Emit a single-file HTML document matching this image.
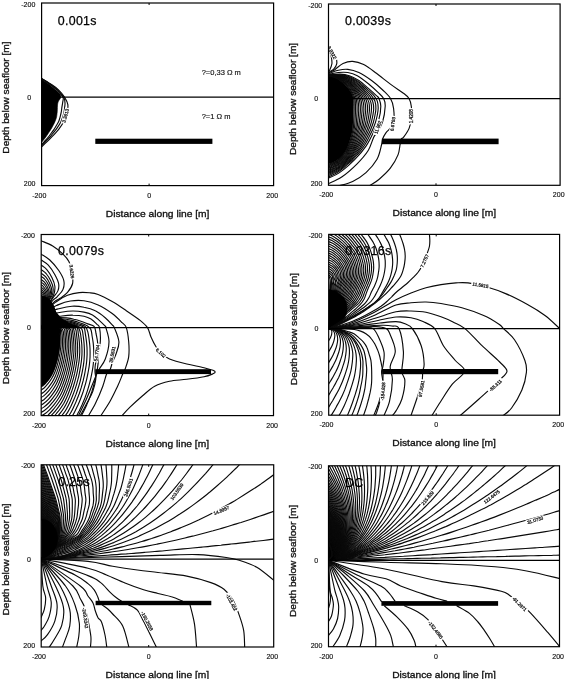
<!DOCTYPE html>
<html><head><meta charset="utf-8"><title>Figure</title>
<style>
html,body{margin:0;padding:0;background:#fff;}
body{width:567px;height:679px;overflow:hidden;}
svg{display:block;filter:blur(0.3px);}
text{font-family:"Liberation Sans",sans-serif;fill:#111;}
.tk{font-size:7px;stroke:#111;stroke-width:0.15px;}
.ax{font-size:9.5px;stroke:#111;stroke-width:0.32px;}
.ti{font-size:12.4px;letter-spacing:0.3px;fill:#000;stroke:#000;stroke-width:0.25px;}
.an{font-size:7.5px;stroke:#111;stroke-width:0.15px;}
.fr{fill:none;stroke:#000;stroke-width:1.2;}
.c{fill:none;stroke:#0a0a0a;stroke-width:1.15;stroke-linejoin:round;stroke-linecap:round;}
.cl{font-size:4.6px;stroke:#111;stroke-width:0.25px;}
</style></head><body>
<svg width="567" height="679" viewBox="0 0 567 679">
<rect width="567" height="679" fill="#fff"/>

<g>
<clipPath id="cp0"><rect x="41.6" y="3" width="232" height="182.6"/></clipPath>
<g clip-path="url(#cp0)">
<path fill="#000" stroke="#000" stroke-width="0.6" d="M41.6 79.2C42.9 80.1 46.7 82.5 49.3 84.5C51.9 86.5 55.3 89.5 57.2 91.2C59.1 93 60 93.9 60.5 95C61 96.1 61 96.7 60.5 98C60 99.3 58.3 100.7 57.8 103C57.2 105.3 57.5 109.3 57.2 112C56.9 114.7 56.9 116.4 56 119C55.1 121.6 53.6 124.7 52 127.5C50.4 130.3 48.2 133.5 46.5 136C44.8 138.5 42.4 141.4 41.6 142.5Z"/>
<path class="c" d="M41.6 78.4C43.1 79.3 47.8 82 50.6 83.9C53.4 85.8 56.2 87.6 58.5 89.8C60.8 92 63 94.7 64.5 97.1C66 99.5 67.4 101.9 67.8 104.4C68.2 107 67.8 109.5 67.1 112.4C66.4 115.3 65.2 118.7 63.8 121.6C62.4 124.5 60.7 126.8 58.5 129.6C56.3 132.4 53.4 135.3 50.6 138.2C47.8 141.1 43.1 145.4 41.6 146.8"/>
<path class="c" d="M41.6 78.8C42.3 79.2 44.3 80.6 45.7 81.5C47 82.4 48.4 83.2 49.7 84.2C51.1 85.1 52.3 86.2 53.5 87.2C54.8 88.2 56.2 89.1 57.3 90.3C58.5 91.4 59.5 92.7 60.5 94C61.5 95.2 62.8 96.5 63.2 97.9C63.5 99.3 62.9 100.8 62.7 102.3C62.5 103.9 62.2 105.5 61.9 107.1C61.7 108.6 61.6 110.3 61.3 111.9C61 113.5 60.6 115 60.2 116.6C59.8 118.1 59.4 119.7 58.8 121.2C58.2 122.7 57.2 124.1 56.4 125.5C55.6 126.9 54.8 128.3 53.9 129.6C53 130.9 52 132.2 51 133.5C50.1 134.8 49.2 136.1 48.1 137.4C47.1 138.6 46 139.8 44.9 141C43.8 142.2 42.2 144 41.6 144.6"/>
<path class="c" d="M41.6 78.6C42.3 79.1 44.5 80.4 45.9 81.3C47.3 82.2 48.8 83.1 50.2 84C51.5 85 52.8 86.1 54.2 87.1C55.5 88.2 56.9 89.1 58.1 90.3C59.3 91.5 60.3 92.8 61.3 94.1C62.4 95.5 63.6 96.8 64.2 98.2C64.8 99.7 64.9 101.3 65 102.9C65.1 104.5 64.8 106.2 64.6 107.8C64.5 109.5 64.3 111.2 63.9 112.8C63.5 114.4 63 116 62.5 117.6C61.9 119.2 61.4 120.8 60.7 122.3C59.9 123.8 59 125.2 58 126.6C57.1 128 56.2 129.4 55.1 130.7C54.1 132.1 53 133.3 51.9 134.6C50.9 135.9 49.8 137.2 48.7 138.4C47.5 139.7 46.3 140.9 45.1 142.1C44 143.3 42.2 145.1 41.6 145.7"/>
<g transform="translate(65.6,115.7) rotate(-75)"><rect x="-8.2" y="-2.6" width="16.3" height="5.2" fill="#fff"/><text class="cl" text-anchor="middle" y="1.6">3.3613</text></g>
</g>
<rect class="fr" x="41.6" y="3" width="232" height="182.6"/>
<line class="fr" x1="41.6" y1="97.1" x2="273.6" y2="97.1" style="stroke-width:1.25"/>
<rect x="95.3" y="138.7" width="117.1" height="5.2" fill="#000"/>
<text class="tk" text-anchor="middle" x="28.3" y="6.6">-200</text>
<text class="tk" text-anchor="middle" x="29.3" y="99.9">0</text>
<text class="tk" text-anchor="middle" x="29.6" y="186.4">200</text>
<text class="tk" text-anchor="middle" x="39.3" y="197.6">-200</text>
<text class="tk" text-anchor="middle" x="149.1" y="197.6">0</text>
<line class="fr" x1="149.1" y1="185.6" x2="149.1" y2="183.6" style="stroke-width:1"/>
<line class="fr" x1="149.1" y1="3" x2="149.1" y2="5" style="stroke-width:1"/>
<text class="tk" text-anchor="middle" x="272.2" y="197.6">200</text>
<text class="ax" x="105.8" y="216.6" textLength="103.6" lengthAdjust="spacingAndGlyphs">Distance along line [m]</text>
<text class="ax" transform="translate(9.4,153.7) rotate(-90)" textLength="112.3" lengthAdjust="spacingAndGlyphs">Depth below seafloor [m]</text>
<text class="ti" x="57.8" y="25">0.001s</text>
<text class="an" x="201.7" y="75.2">?=0,33 Ω m</text>
<text class="an" x="201.7" y="119.0">?=1 Ω m</text>
</g>
<g>
<clipPath id="cp1"><rect x="328.5" y="4" width="231.6" height="181.3"/></clipPath>
<g clip-path="url(#cp1)">
<path fill="#000" stroke="#000" stroke-width="0.6" d="M328.4 75.8C328.7 75.8 328.6 75.6 330 76C331.4 76.4 334 76.4 336.7 78.1C339.4 79.8 343.7 83.5 346.2 86C348.7 88.5 350.3 90.9 351.5 93C352.7 95.1 352.9 95.7 353.2 98.5C353.5 101.3 353.3 105.1 353.2 110C353.1 114.9 353.2 123 352.7 128C352.2 133 351.1 136.2 350 140C348.9 143.8 347.7 147.5 346 150.5C344.3 153.5 342 156.1 340 158C338 159.9 335.9 161 334 162C332.1 163 329.3 163.5 328.4 163.8Z"/>
<path class="c" d="M328.4 73C328.6 72.9 328.5 73.1 329.6 72.5C330.7 71.9 332.9 70.9 335.1 69.4C337.3 67.9 340.1 64.8 343 63.5C345.9 62.2 349.2 61.2 352.6 61.4C356.1 61.6 359.7 62.6 363.7 64.6C367.7 66.6 371.9 70 376.4 73.3C380.9 76.6 386.2 81.1 390.7 84.4C395.2 87.7 400.3 90.9 403.4 93.2C406.4 95.5 407.7 96.3 409 98.5C410.3 100.7 410.9 103.2 411.3 106.3C411.8 109.4 412.1 113.6 411.7 117.3C411.3 121 410.5 125.1 409.1 128.4C407.8 131.7 404.9 135.4 403.6 137.2C402.3 139 401.9 137.9 401.3 139C400.7 140.1 400.8 141.2 400.2 143.9C399.6 146.6 399.6 150.9 398 154.9C396.4 158.9 393.4 164.1 390.3 168.2C387.2 172.2 382.7 176.2 379.2 179.2C375.7 182.2 370.9 184.9 369.3 186"/>
<path class="c" d="M328.4 73.6C328.6 73.5 328 73.9 329.6 73.3C331.2 72.7 335.3 70.8 338.3 70.2C341.3 69.6 344.4 69 347.8 69.4C351.2 69.8 354.9 70.7 358.9 72.5C362.9 74.3 367.6 77.6 371.6 80.5C375.6 83.4 379.6 87 382.7 90C385.8 93 388.7 95.4 390.5 98.5C392.3 101.6 393.2 104.2 393.6 108.5C394.1 112.8 394.5 120 393.2 124C391.9 128.1 387.7 130.3 385.9 132.8C384.1 135.3 383.3 137 382.6 139C381.9 141 382.4 141.6 381.5 145C380.6 148.4 379.6 154.7 377 159.3C374.4 163.9 370.1 168.9 366 172.6C361.9 176.3 357.3 179.2 352.7 181.4C348.1 183.6 340.8 185.2 338.4 186"/>
<path class="c" d="M328.4 74.3C328.6 74.3 328 74.4 329.6 74.1C331.2 73.8 335.3 72.8 338.3 72.5C341.3 72.2 344.6 72 347.8 72.5C351 73 353.9 73.8 357.3 75.7C360.7 77.6 364.9 80.9 368.4 83.7C371.8 86.5 375.5 89.9 378 92.4C380.5 94.9 382.4 96.2 383.6 98.5C384.8 100.8 385.4 102.4 385.2 106.3C385 110.2 384 117.4 382.6 121.8C381.2 126.2 378.5 130.2 377 132.8C375.5 135.4 375.2 134.2 373.7 137.2C372.2 140.1 371 146.1 368.2 150.5C365.4 154.9 361.5 159.4 357.1 163.8C352.7 168.2 346.5 173.7 341.7 177C336.9 180.3 330.6 182.5 328.4 183.6"/>
<path class="c" d="M328.4 75C328.6 75 327.7 75.2 329.6 75C331.5 74.8 336.6 74 339.9 74.1C343.2 74.2 346.2 74.6 349.4 75.7C352.6 76.8 355.7 78.4 358.9 80.5C362.1 82.6 365.5 85.9 368.4 88.4C371.3 90.9 374.6 93.9 376.4 95.6C378.2 97.3 378.3 96.7 379 98.5C379.7 100.3 380.8 102.8 380.8 106.3C380.8 109.8 380 115.4 378.8 119.6C377.6 123.8 375.8 127.3 373.7 131.7C371.6 136.1 369.1 141.5 366 146.1C362.9 150.7 359.3 154.9 354.9 159.3C350.5 163.7 343.9 169.5 339.5 172.6C335.1 175.7 330.2 177.2 328.4 178.1"/>
<path class="c" d="M328.4 75.1C329.6 75 333.3 74.7 335.8 74.7C338.2 74.7 340.7 74.7 343.1 75.1C345.5 75.5 347.9 76.1 350.1 77C352.4 77.9 354.6 79.1 356.7 80.4C358.7 81.7 360.6 83.4 362.5 85C364.4 86.6 366.2 88.2 368 89.9C369.8 91.5 371.7 93.1 373.3 94.9C374.8 96.8 376.4 98.7 377.2 100.9C378 103.1 378.2 105.7 378.2 108.1C378.2 110.6 377.7 113.1 377.2 115.5C376.7 117.9 376.1 120.3 375.4 122.6C374.6 124.9 373.7 127.2 372.7 129.5C371.7 131.7 370.6 133.9 369.5 136.1C368.4 138.3 367.3 140.6 366.1 142.7C364.9 144.8 363.5 146.8 362 148.8C360.6 150.8 359 152.7 357.4 154.5C355.8 156.4 354.2 158.3 352.5 160C350.7 161.8 348.8 163.3 346.9 164.9C345.1 166.6 343.3 168.3 341.3 169.8C339.3 171.2 337.2 172.5 335.1 173.7C332.9 174.8 329.5 176.3 328.4 176.9"/>
<path class="c" d="M328.4 75.1C329.6 75.1 333.2 74.8 335.6 74.9C337.9 75 340.3 75.1 342.6 75.5C344.9 75.9 347.2 76.6 349.4 77.5C351.6 78.4 353.7 79.6 355.7 80.9C357.7 82.3 359.5 83.9 361.3 85.5C363.1 87 364.8 88.7 366.5 90.3C368.2 92 370 93.6 371.4 95.4C372.8 97.3 374.2 99.1 375 101.3C375.7 103.5 375.9 106 375.9 108.4C375.9 110.7 375.4 113.2 374.9 115.5C374.5 117.9 374 120.2 373.3 122.5C372.6 124.7 371.7 127 370.8 129.2C369.9 131.4 368.9 133.5 367.8 135.7C366.8 137.9 365.8 140.1 364.7 142.2C363.5 144.2 362.2 146.2 360.8 148.2C359.5 150.1 357.9 152 356.4 153.8C354.9 155.7 353.4 157.5 351.8 159.3C350.1 161 348.2 162.5 346.4 164.1C344.6 165.7 342.9 167.4 341 168.8C339.1 170.2 337 171.4 334.9 172.6C332.8 173.7 329.5 175.1 328.4 175.7"/>
<path class="c" d="M328.4 75.2C329.6 75.2 333.1 75 335.4 75.1C337.7 75.2 340 75.4 342.2 75.9C344.4 76.4 346.6 77.1 348.7 78C350.8 79 352.9 80.1 354.8 81.5C356.7 82.8 358.4 84.4 360.1 86C361.8 87.5 363.5 89.1 365.1 90.8C366.7 92.4 368.3 94.1 369.6 95.9C370.9 97.7 372.2 99.6 372.8 101.7C373.5 103.8 373.7 106.3 373.7 108.6C373.7 110.9 373.2 113.3 372.8 115.6C372.4 117.8 371.9 120.1 371.3 122.3C370.7 124.6 369.9 126.8 369 128.9C368.2 131.1 367.2 133.2 366.3 135.3C365.3 137.4 364.4 139.6 363.3 141.6C362.2 143.7 361 145.6 359.7 147.6C358.4 149.5 357 151.3 355.5 153.2C354.1 155 352.7 156.8 351.1 158.5C349.5 160.2 347.7 161.7 346 163.3C344.2 164.8 342.6 166.5 340.7 167.9C338.8 169.3 336.8 170.5 334.8 171.6C332.7 172.7 329.5 174 328.4 174.5"/>
<path class="c" d="M328.4 75.3C329.5 75.3 332.9 75.2 335.2 75.3C337.4 75.5 339.6 75.7 341.8 76.2C343.9 76.8 346 77.6 348 78.5C350.1 79.5 352.1 80.6 353.9 81.9C355.8 83.3 357.4 84.9 359 86.4C360.7 88 362.3 89.6 363.8 91.2C365.2 92.9 366.7 94.5 367.9 96.3C369.1 98.1 370.2 100 370.8 102.1C371.4 104.2 371.6 106.6 371.5 108.8C371.5 111.1 371.1 113.4 370.7 115.6C370.4 117.8 369.9 120.1 369.4 122.2C368.8 124.4 368.1 126.6 367.4 128.7C366.6 130.8 365.7 132.9 364.8 134.9C363.9 137 363 139.1 362 141.1C361 143.2 359.8 145.1 358.6 147C357.4 148.9 356.1 150.7 354.7 152.5C353.3 154.3 352 156.1 350.5 157.8C349 159.5 347.2 161 345.5 162.5C343.9 164 342.2 165.7 340.4 167C338.6 168.4 336.6 169.5 334.6 170.6C332.6 171.7 329.4 172.9 328.4 173.4"/>
<path class="c" d="M328.4 75.3C329.5 75.4 332.8 75.3 335 75.5C337.2 75.7 339.3 76 341.4 76.6C343.5 77.2 345.5 78 347.4 79C349.4 80 351.3 81.1 353.1 82.4C354.8 83.7 356.4 85.3 358 86.9C359.5 88.4 361.1 90 362.5 91.6C363.9 93.3 365.2 94.9 366.3 96.7C367.4 98.5 368.3 100.4 368.9 102.4C369.4 104.5 369.5 106.8 369.5 109C369.5 111.2 369.1 113.5 368.8 115.6C368.5 117.8 368.1 120 367.6 122.1C367.1 124.3 366.5 126.4 365.7 128.4C365 130.5 364.2 132.6 363.4 134.6C362.5 136.6 361.7 138.7 360.7 140.7C359.8 142.7 358.7 144.6 357.6 146.4C356.4 148.3 355.2 150.1 353.9 151.9C352.6 153.7 351.4 155.5 349.9 157.1C348.4 158.8 346.7 160.3 345.1 161.8C343.5 163.3 341.9 164.9 340.1 166.2C338.4 167.5 336.5 168.6 334.5 169.7C332.5 170.7 329.4 171.9 328.4 172.3"/>
<path class="c" d="M328.4 75.4C329.5 75.4 332.7 75.4 334.8 75.7C336.9 76 339 76.3 341 76.9C343 77.5 344.9 78.4 346.8 79.4C348.7 80.4 350.6 81.5 352.3 82.8C354 84.2 355.5 85.7 357 87.3C358.5 88.8 360 90.4 361.3 92C362.6 93.6 363.8 95.3 364.8 97.1C365.7 98.9 366.6 100.8 367 102.8C367.5 104.8 367.6 107.1 367.6 109.2C367.6 111.4 367.2 113.5 366.9 115.7C366.7 117.8 366.3 119.9 365.9 122C365.4 124.1 364.9 126.2 364.2 128.2C363.6 130.3 362.8 132.3 362 134.3C361.2 136.3 360.5 138.3 359.6 140.2C358.7 142.2 357.7 144.1 356.6 145.9C355.5 147.8 354.3 149.6 353.1 151.3C351.9 153.1 350.7 154.9 349.3 156.5C347.9 158.1 346.3 159.6 344.7 161.1C343.2 162.5 341.6 164.1 339.9 165.4C338.2 166.7 336.3 167.8 334.4 168.8C332.5 169.8 329.4 170.9 328.4 171.3"/>
<path class="c" d="M328.4 75.4C329.4 75.5 332.6 75.6 334.6 75.9C336.7 76.2 338.7 76.6 340.6 77.2C342.6 77.9 344.4 78.9 346.2 79.9C348 80.9 349.9 82 351.5 83.3C353.1 84.6 354.6 86.2 356 87.7C357.4 89.2 358.8 90.8 360.1 92.4C361.3 94 362.4 95.7 363.2 97.5C364.1 99.3 364.8 101.1 365.2 103.1C365.6 105.1 365.7 107.3 365.7 109.4C365.7 111.5 365.4 113.6 365.1 115.7C364.8 117.8 364.5 119.9 364.1 121.9C363.7 124 363.3 126 362.7 128C362.1 130 361.4 132 360.7 133.9C359.9 135.9 359.2 137.9 358.4 139.8C357.6 141.7 356.6 143.6 355.6 145.4C354.6 147.2 353.5 149 352.4 150.7C351.2 152.5 350.1 154.2 348.8 155.9C347.4 157.5 345.9 158.9 344.3 160.4C342.8 161.8 341.3 163.3 339.6 164.6C337.9 165.8 336.1 167 334.3 167.9C332.4 168.9 329.4 169.9 328.4 170.3"/>
<path class="c" d="M328.4 75.5C329.4 75.6 332.5 75.7 334.5 76.1C336.5 76.4 338.4 76.8 340.3 77.5C342.1 78.2 343.9 79.2 345.6 80.3C347.4 81.3 349.2 82.4 350.8 83.7C352.3 85 353.7 86.6 355.1 88.1C356.4 89.6 357.8 91.1 358.9 92.8C360 94.4 361 96.1 361.8 97.9C362.6 99.7 363.1 101.5 363.5 103.4C363.8 105.4 363.9 107.5 363.9 109.6C363.9 111.6 363.6 113.7 363.4 115.7C363.1 117.8 362.9 119.8 362.5 121.8C362.2 123.8 361.8 125.8 361.3 127.8C360.8 129.8 360.1 131.7 359.4 133.6C358.7 135.6 358.1 137.5 357.3 139.4C356.5 141.3 355.6 143.1 354.7 144.9C353.8 146.7 352.7 148.5 351.6 150.2C350.6 151.9 349.5 153.7 348.2 155.3C346.9 156.8 345.4 158.3 344 159.7C342.5 161.1 341 162.6 339.4 163.8C337.7 165.1 336 166.2 334.1 167.1C332.3 168 329.4 169 328.4 169.4"/>
<path class="c" d="M328.4 75.5C329.4 75.7 332.4 75.9 334.3 76.2C336.2 76.6 338.1 77.1 339.9 77.8C341.7 78.6 343.4 79.6 345.1 80.7C346.8 81.7 348.5 82.8 350 84.1C351.5 85.4 352.8 87 354.1 88.5C355.4 90 356.7 91.5 357.8 93.1C358.8 94.8 359.7 96.5 360.3 98.2C361 100 361.5 101.8 361.7 103.8C362 105.7 362.1 107.8 362.1 109.8C362.1 111.8 361.8 113.8 361.6 115.8C361.4 117.8 361.2 119.8 360.9 121.7C360.6 123.7 360.3 125.7 359.8 127.6C359.4 129.5 358.7 131.4 358.1 133.3C357.5 135.2 356.9 137.1 356.2 139C355.5 140.8 354.7 142.6 353.8 144.4C352.9 146.2 351.9 147.9 350.9 149.7C349.9 151.4 348.9 153.1 347.7 154.6C346.5 156.2 345 157.7 343.6 159.1C342.2 160.5 340.7 161.9 339.1 163.1C337.5 164.3 335.8 165.4 334 166.3C332.2 167.2 329.3 168.1 328.4 168.5"/>
<path class="c" d="M328.4 75.6C329.4 75.7 332.3 76 334.2 76.4C336 76.8 337.9 77.4 339.6 78.1C341.3 78.9 342.9 80 344.5 81.1C346.2 82.1 347.9 83.2 349.3 84.5C350.8 85.8 352 87.3 353.3 88.8C354.5 90.3 355.7 91.8 356.7 93.5C357.6 95.1 358.4 96.8 359 98.6C359.6 100.4 359.9 102.2 360.1 104.1C360.4 106 360.4 108 360.4 109.9C360.4 111.9 360.2 113.9 360 115.8C359.8 117.8 359.6 119.7 359.4 121.6C359.1 123.6 358.9 125.5 358.5 127.4C358.1 129.3 357.5 131.1 356.9 133C356.4 134.9 355.8 136.8 355.1 138.6C354.5 140.4 353.7 142.2 352.9 144C352.1 145.7 351.2 147.5 350.2 149.1C349.3 150.8 348.4 152.5 347.2 154.1C346 155.6 344.6 157.1 343.2 158.4C341.9 159.8 340.5 161.2 338.9 162.4C337.3 163.6 335.7 164.6 333.9 165.5C332.2 166.3 329.3 167.2 328.4 167.6"/>
<path class="c" d="M328.4 75.6C329.3 75.8 332.2 76.1 334 76.6C335.8 77 337.6 77.6 339.3 78.4C340.9 79.2 342.5 80.4 344 81.5C345.6 82.6 347.2 83.6 348.6 84.9C350 86.2 351.2 87.7 352.4 89.2C353.5 90.7 354.7 92.2 355.6 93.8C356.5 95.4 357.1 97.2 357.6 98.9C358.1 100.7 358.3 102.5 358.5 104.4C358.7 106.2 358.7 108.2 358.7 110.1C358.7 112 358.5 113.9 358.4 115.8C358.2 117.8 358 119.7 357.8 121.5C357.6 123.4 357.5 125.3 357.1 127.2C356.8 129 356.2 130.9 355.7 132.7C355.2 134.5 354.7 136.4 354.1 138.2C353.5 140 352.8 141.8 352.1 143.5C351.3 145.2 350.5 147 349.6 148.6C348.7 150.3 347.8 152 346.7 153.5C345.6 155 344.2 156.5 342.9 157.8C341.6 159.2 340.2 160.5 338.7 161.7C337.2 162.8 335.5 163.9 333.8 164.7C332.1 165.5 329.3 166.4 328.4 166.7"/>
<path class="c" d="M328.4 75.7C329.3 75.9 332.1 76.2 333.9 76.7C335.6 77.2 337.4 77.8 339 78.7C340.6 79.5 342 80.7 343.5 81.8C345 82.9 346.6 84 347.9 85.3C349.3 86.5 350.4 88.1 351.6 89.5C352.7 91 353.8 92.5 354.6 94.1C355.4 95.8 356 97.5 356.3 99.3C356.7 101 356.8 102.8 357 104.7C357.1 106.5 357.1 108.4 357.1 110.3C357.1 112.1 356.9 114 356.8 115.9C356.7 117.7 356.6 119.6 356.4 121.5C356.3 123.3 356.2 125.2 355.9 127C355.6 128.8 355.1 130.6 354.6 132.4C354.2 134.2 353.7 136.1 353.1 137.8C352.5 139.6 351.9 141.3 351.2 143.1C350.5 144.8 349.8 146.5 348.9 148.1C348.1 149.8 347.3 151.5 346.2 153C345.2 154.5 343.9 155.9 342.6 157.2C341.3 158.6 339.9 159.9 338.5 161C337 162.1 335.4 163.2 333.7 164C332 164.8 329.3 165.5 328.4 165.9"/>
<path class="c" d="M328.4 75.7C329.3 75.9 332 76.3 333.7 76.9C335.4 77.4 337.1 78.1 338.7 79C340.2 79.8 341.6 81.1 343 82.2C344.5 83.3 346 84.3 347.3 85.6C348.6 86.9 349.7 88.4 350.7 89.9C351.8 91.4 352.9 92.8 353.6 94.5C354.3 96.1 354.8 97.8 355.1 99.6C355.4 101.3 355.4 103.1 355.4 104.9C355.5 106.8 355.5 108.6 355.5 110.4C355.5 112.3 355.4 114.1 355.3 115.9C355.2 117.7 355.1 119.6 355 121.4C354.9 123.2 354.8 125 354.6 126.8C354.4 128.6 353.9 130.4 353.5 132.2C353.1 133.9 352.6 135.7 352.1 137.5C351.6 139.2 351.1 140.9 350.4 142.6C349.8 144.3 349.1 146 348.3 147.7C347.5 149.3 346.8 151 345.8 152.5C344.7 154 343.5 155.3 342.2 156.7C341 158 339.7 159.3 338.2 160.4C336.8 161.5 335.2 162.5 333.6 163.2C332 164 329.3 164.7 328.4 165"/>
<path class="c" d="M328.4 75.8C329.3 76 331.9 76.4 333.6 77C335.3 77.6 336.9 78.3 338.4 79.2C339.9 80.1 341.2 81.4 342.6 82.5C344 83.6 345.5 84.7 346.7 85.9C348 87.2 349 88.7 350 90.2C351 91.6 352 93.1 352.7 94.7C353.4 96.4 353.7 98.1 354 99.9C354.2 101.6 354.1 103.4 354.1 105.2C354.1 107 354.2 108.8 354.1 110.6C354.1 112.4 354 114.1 354 115.9C353.9 117.7 353.8 119.5 353.7 121.3C353.7 123.1 353.7 124.9 353.5 126.7C353.3 128.4 352.9 130.2 352.5 131.9C352.2 133.7 351.7 135.4 351.3 137.1C350.8 138.9 350.3 140.6 349.7 142.3C349.1 143.9 348.5 145.6 347.7 147.2C347 148.9 346.3 150.5 345.3 152C344.4 153.5 343.2 154.9 341.9 156.2C340.7 157.5 339.5 158.7 338.1 159.8C336.6 160.9 335.1 161.9 333.5 162.6C331.9 163.4 329.3 164 328.4 164.3"/>
<path class="c" d="M328.4 43.2C328.8 44.2 329.9 47.1 331.1 49.5C332.4 51.9 335 55.1 335.9 57.5C336.8 59.9 337.1 61.8 336.7 63.8C336.3 65.8 334.7 68.1 333.5 69.4C332.3 70.7 330.5 71.2 329.6 71.7C328.8 72.2 328.6 72.2 328.4 72.3"/>
<path class="c" d="M328.4 49.5C328.8 50.6 330.5 53.5 331.1 55.9C331.7 58.3 332.1 61.4 331.9 63.8C331.6 66.2 330.2 69 329.6 70.2C329 71.4 328.6 70.9 328.4 71"/>
<g transform="translate(331.6,52) rotate(62)"><rect x="-9.4" y="-2.6" width="18.8" height="5.2" fill="#fff"/><text class="cl" text-anchor="middle" y="1.6">-3.8322</text></g>
<g transform="translate(411.5,116.2) rotate(-90)"><rect x="-8.2" y="-2.6" width="16.3" height="5.2" fill="#fff"/><text class="cl" text-anchor="middle" y="1.6">1.4208</text></g>
<g transform="translate(392.8,124) rotate(-82)"><rect x="-8.2" y="-2.6" width="16.3" height="5.2" fill="#fff"/><text class="cl" text-anchor="middle" y="1.6">6.6793</text></g>
<g transform="translate(377.9,127.3) rotate(-72)"><rect x="-8.2" y="-2.6" width="16.3" height="5.2" fill="#fff"/><text class="cl" text-anchor="middle" y="1.6">11.862</text></g>
</g>
<rect class="fr" x="328.5" y="4" width="231.6" height="181.3"/>
<line class="fr" x1="328.5" y1="98.5" x2="560.1" y2="98.5" style="stroke-width:1.25"/>
<rect x="381.9" y="138.6" width="116.7" height="5.6" fill="#000"/>
<text class="tk" text-anchor="middle" x="315.2" y="7.6">-200</text>
<text class="tk" text-anchor="middle" x="316.2" y="101.3">0</text>
<text class="tk" text-anchor="middle" x="316.5" y="186.1">200</text>
<text class="tk" text-anchor="middle" x="326.2" y="197.3">-200</text>
<text class="tk" text-anchor="middle" x="436" y="197.3">0</text>
<line class="fr" x1="436" y1="185.3" x2="436" y2="183.3" style="stroke-width:1"/>
<line class="fr" x1="436" y1="4" x2="436" y2="6" style="stroke-width:1"/>
<text class="tk" text-anchor="middle" x="558.7" y="197.3">200</text>
<text class="ax" x="392.5" y="216.3" textLength="103.6" lengthAdjust="spacingAndGlyphs">Distance along line [m]</text>
<text class="ax" transform="translate(296.3,155.1) rotate(-90)" textLength="112.3" lengthAdjust="spacingAndGlyphs">Depth below seafloor [m]</text>
<text class="ti" x="345" y="25">0.0039s</text>
</g>
<g>
<clipPath id="cp2"><rect x="41.2" y="234.5" width="232.3" height="181.1"/></clipPath>
<g clip-path="url(#cp2)">
<path class="c" d="M41.2 327.6C42.7 324.3 47.4 312.4 50 308C52.6 303.6 54.2 303.3 57.1 301.2C60 299.1 63.8 296.7 67.5 295.3C71.2 293.9 75.5 293 79.2 292.6C82.9 292.2 86.3 292.5 89.5 292.8C92.7 293.1 94.3 293.1 98.1 294.5C101.9 295.9 107.5 298.8 112.2 301.5C116.9 304.2 121.6 307.5 126.3 310.7C131 313.9 136.9 317.8 140.4 320.6C143.9 323.4 145.7 324.9 147.5 327.6C149.3 330.3 149.6 333.8 151 337C152.4 340.2 154.2 343.9 156 346.7C157.8 349.5 159.8 351.9 162 354C164.2 356.1 165.4 357.3 169.5 359C173.6 360.7 181.1 362.6 186.8 364C192.6 365.4 199.6 366.6 204 367.7C208.4 368.8 211.1 369.6 213 370.3C214.9 371 215.2 371.5 215.2 372.1C215.2 372.7 214.9 373 213 373.8C211.1 374.6 208.4 375.9 204 376.8C199.6 377.7 192.6 378.6 186.8 379.3C181.1 380.1 174.8 380.2 169.5 381.3C164.2 382.4 159.2 383.8 154.7 386.2C150.2 388.6 146.4 392.5 142.3 396C138.2 399.5 133.5 403.8 130 407.2C126.5 410.6 122.8 414.9 121.3 416.5"/>
<path class="c" d="M41.2 327.6C42.7 324.7 47.1 313.8 50 310C52.9 306.2 55.2 306.1 58.6 304.6C62 303.1 66.2 301.6 70.4 301C74.6 300.4 79.4 300.1 84 300.8C88.6 301.5 93.4 302.9 98.1 305C102.8 307.1 108.2 310.6 112.2 313.5C116.2 316.4 119.8 320.3 122.1 322.7C124.4 325.1 125.2 324.4 126.3 327.6C127.4 330.8 128.3 337 128.7 341.8C129.1 346.6 129.3 352 128.7 356.6C128.1 361.2 126 366.4 125 369.4C124 372.3 123.8 371.5 122.6 374.3C121.4 377.1 119.7 381.8 117.6 386.2C115.5 390.6 113.1 395.9 110.2 401C107.3 406.1 102 413.9 100.3 416.5"/>
<path class="c" d="M41.2 327.6C42.7 325.1 46.9 315.7 50 312.5C53.1 309.3 56.3 309.6 60 308.5C63.7 307.4 68 306.4 72 306.2C76 306 80.1 306.4 84 307.2C87.9 307.9 91.8 308.9 95.3 310.7C98.8 312.4 102.4 315.3 105.2 317.7C108 320.1 110.7 323.1 112.2 324.8C113.7 326.5 113.2 324.8 114.3 327.6C115.4 330.4 118.6 337.4 118.9 341.8C119.2 346.2 117 350.7 116 354C115 357.3 113.7 358.9 112.7 361.5C111.7 364.1 111.2 367.3 110.2 369.4C109.2 371.5 107.7 371.5 106.5 374.3C105.3 377.1 104.6 381.3 102.8 386.2C101 391.1 97.9 398.4 95.4 403.5C92.9 408.6 89.2 414.3 88 416.5"/>
<path class="c" d="M41.2 327.6C42.7 325.6 46.7 318.1 50 315.5C53.3 312.9 57.2 313.1 61 312.3C64.8 311.6 69.2 311 73 311C76.8 311 80.8 311.5 84 312.1C87.2 312.8 89.9 313.5 92.5 314.9C95.1 316.3 97.4 318.7 99.5 320.6C101.6 322.5 104.1 325 105.2 326.2C106.3 327.4 105.3 325 105.9 327.6C106.5 330.2 109.1 336.6 109 341.8C108.9 347 107 354.4 105.3 359C103.6 363.6 100.5 366.8 99.1 369.4C97.6 371.9 97.8 371.5 96.6 374.3C95.4 377.1 93.5 381.9 91.7 386.2C89.9 390.5 88.3 394.9 86 400C83.7 405.1 79.3 413.8 78 416.5"/>
<path class="c" d="M41.2 327.6C42.7 326.1 46.5 320.2 50 318.3C53.5 316.4 58.2 316.5 62 316C65.8 315.5 69.3 315.1 73 315.2C76.7 315.2 81 315.6 84 316.3C87 317 88.9 317.8 91 319.1C93.1 320.4 95.3 322.7 96.7 324.1C98.1 325.5 98.9 324.7 99.5 327.6C100.1 330.6 100.6 337.1 100.3 341.8C100 346.5 98.3 352.1 97.5 356C96.7 359.9 95.7 362.3 95.3 365C94.9 367.7 94.9 369.6 95 372C95.1 374.4 96.1 376.5 95.7 379.7C95.3 382.9 94.2 387.4 92.8 391.3C91.4 395.2 89.3 398.6 87.1 402.8C84.9 407 81 414.2 79.8 416.5"/>
<path class="c" d="M41.2 327.6C42 326.6 43.9 323.4 45.7 321.9C47.5 320.3 49.8 319.2 52 318.5C54.3 317.8 56.9 317.7 59.3 317.6C61.7 317.5 64.2 317.7 66.6 317.9C69 318.2 71.4 318.6 73.8 319.2C76.2 319.7 78.6 320.4 80.9 321.2C83.2 322 85.5 323 87.7 323.9C89.9 324.8 92.8 324.8 94.1 326.4C95.5 328 95.5 331.1 96 333.5C96.6 335.9 97 338.3 97.4 340.7C97.7 343.1 98 345.5 98.2 348C98.4 350.4 98.5 352.9 98.5 355.3C98.4 357.7 98.4 360.2 98.2 362.6C97.9 365 97.6 367.5 97.2 369.9C96.8 372.3 96.3 374.7 95.8 377.1C95.3 379.4 94.7 381.8 94 384.2C93.4 386.5 92.7 388.9 92 391.2C91.2 393.5 90.4 395.8 89.5 398.1C88.7 400.4 87.7 402.6 86.7 404.9C85.7 407.1 84.7 409.3 83.6 411.5C82.5 413.7 80.7 416.9 80.1 417.9"/>
<path class="c" d="M41.2 327.6C42 326.7 43.9 323.6 45.7 322.2C47.5 320.9 49.8 320.1 52 319.5C54.2 318.9 56.7 318.9 59 318.9C61.4 318.8 63.7 319 66 319.3C68.3 319.6 70.7 320.1 72.9 320.6C75.2 321.2 77.5 321.9 79.7 322.7C81.9 323.4 84.3 324.3 86.2 325.3C88 326.4 89.7 327.3 90.7 329.1C91.7 330.9 91.7 333.7 92.1 336C92.5 338.3 92.9 340.6 93.2 342.9C93.5 345.3 93.6 347.6 93.7 349.9C93.8 352.3 93.9 354.6 93.8 357C93.7 359.3 93.6 361.7 93.3 364C93.1 366.3 92.7 368.6 92.3 370.9C91.9 373.2 91.4 375.5 90.9 377.8C90.4 380.1 89.8 382.4 89.2 384.6C88.6 386.9 87.9 389.1 87.2 391.4C86.5 393.6 85.7 395.8 84.9 398C84 400.2 83.1 402.4 82.2 404.5C81.2 406.6 80.2 408.8 79.2 410.9C78.1 413 76.4 416 75.9 417.1"/>
<path class="c" d="M41.2 327.6C42 326.7 43.9 323.7 45.8 322.5C47.6 321.3 49.9 320.7 52.1 320.3C54.4 319.8 56.7 319.8 59 319.8C61.3 319.9 63.6 320.1 65.8 320.5C68.1 320.8 70.3 321.3 72.6 321.9C74.8 322.5 76.9 323.2 79.1 324C81.2 324.8 83.9 325.3 85.4 326.6C86.8 327.9 87.2 329.9 87.8 331.9C88.4 334 88.7 336.4 89 338.7C89.3 341 89.6 343.2 89.8 345.5C90 347.8 90.1 350.1 90.1 352.4C90.1 354.7 90.1 357 89.9 359.3C89.8 361.5 89.5 363.8 89.2 366.1C88.9 368.4 88.4 370.6 88 372.9C87.6 375.1 87.1 377.3 86.6 379.6C86 381.8 85.5 384 84.8 386.2C84.2 388.4 83.5 390.6 82.8 392.8C82 394.9 81.2 397.1 80.4 399.2C79.6 401.4 78.6 403.5 77.7 405.5C76.7 407.6 75.8 409.7 74.7 411.7C73.6 413.8 71.9 416.7 71.3 417.7"/>
<path class="c" d="M41.2 327.6C42 326.8 44 323.8 45.8 322.7C47.7 321.6 50 321.2 52.2 320.9C54.4 320.5 56.7 320.5 58.9 320.6C61.2 320.7 63.4 321 65.6 321.4C67.9 321.7 70.1 322.3 72.2 322.9C74.4 323.5 76.6 324.3 78.6 325C80.6 325.8 82.9 326 84 327.6C85.1 329.1 85 332 85.4 334.2C85.8 336.4 86.1 338.6 86.4 340.8C86.7 343.1 86.8 345.3 87 347.5C87.1 349.8 87.1 352 87.1 354.3C87 356.5 86.9 358.8 86.7 361C86.5 363.2 86.2 365.5 85.8 367.7C85.4 369.9 85 372.1 84.6 374.3C84.1 376.5 83.6 378.7 83.1 380.9C82.5 383.1 81.9 385.2 81.3 387.4C80.6 389.5 79.9 391.7 79.2 393.8C78.4 395.9 77.6 398 76.7 400.1C75.9 402.2 75 404.2 74 406.2C73.1 408.3 72.1 410.3 71 412.3C69.9 414.2 68 417 67.4 417.9"/>
<path class="c" d="M41.2 327.6C42 326.8 44 324 45.9 322.9C47.7 321.9 50.1 321.7 52.2 321.4C54.4 321.1 56.7 321.2 58.8 321.3C61 321.4 63.2 321.8 65.4 322.2C67.6 322.5 69.7 323.1 71.8 323.7C73.9 324.3 76.4 325 78.1 325.9C79.7 326.9 81.1 327.8 82 329.5C82.8 331.2 82.8 333.8 83.2 336C83.5 338.2 83.8 340.4 84 342.6C84.2 344.8 84.3 347 84.4 349.2C84.4 351.4 84.4 353.6 84.3 355.8C84.2 358 84.1 360.2 83.8 362.4C83.5 364.6 83.2 366.7 82.8 368.9C82.4 371.1 82 373.3 81.5 375.4C81 377.6 80.5 379.7 80 381.8C79.4 384 78.8 386.1 78.1 388.2C77.4 390.3 76.7 392.4 76 394.4C75.2 396.5 74.4 398.5 73.5 400.6C72.6 402.6 71.7 404.6 70.8 406.6C69.8 408.6 68.7 410.5 67.6 412.4C66.4 414.3 64.4 416.9 63.8 417.8"/>
<path class="c" d="M41.2 327.6C42 326.9 44.1 324.1 46 323.1C47.8 322.2 50.2 322.1 52.4 321.9C54.5 321.7 56.8 321.8 58.9 322C61.1 322.1 63.3 322.5 65.4 322.9C67.6 323.3 69.7 323.9 71.8 324.6C73.8 325.2 76.5 325.7 77.9 326.9C79.3 328.1 79.6 329.9 80.1 331.8C80.6 333.6 80.9 336.1 81.1 338.2C81.4 340.4 81.6 342.6 81.8 344.8C81.9 346.9 82 349.1 82 351.3C82 353.5 81.9 355.7 81.7 357.9C81.5 360 81.3 362.2 80.9 364.4C80.6 366.5 80.2 368.7 79.8 370.8C79.4 373 79 375.1 78.5 377.3C77.9 379.4 77.4 381.5 76.8 383.6C76.2 385.7 75.5 387.8 74.8 389.9C74.1 391.9 73.3 394 72.5 396C71.7 398 70.9 400.1 70 402C69 404 68.1 406 67 407.9C66 409.8 64.8 411.7 63.5 413.4C62.2 415.2 60.1 417.7 59.4 418.5"/>
<path class="c" d="M41.2 327.6C42 326.9 44.1 324.3 46 323.4C47.9 322.5 50.2 322.5 52.3 322.4C54.5 322.2 56.6 322.3 58.7 322.5C60.9 322.7 63 323.1 65.1 323.5C67.2 324 69.3 324.7 71.3 325.2C73.3 325.8 75.8 325.6 76.9 327C78.1 328.3 77.9 331.1 78.2 333.2C78.6 335.4 78.9 337.5 79.1 339.6C79.4 341.7 79.5 343.9 79.6 346C79.7 348.2 79.8 350.3 79.7 352.5C79.6 354.6 79.5 356.7 79.3 358.9C79.1 361 78.8 363.1 78.4 365.2C78.1 367.4 77.7 369.5 77.3 371.6C76.8 373.7 76.4 375.8 75.8 377.8C75.3 379.9 74.7 382 74.1 384C73.5 386.1 72.8 388.1 72.1 390.1C71.4 392.2 70.6 394.2 69.8 396.1C69 398.1 68.1 400.1 67.2 402C66.3 403.9 65.3 405.9 64.1 407.7C63 409.5 61.7 411.2 60.4 412.9C59.1 414.6 57 417 56.3 417.9"/>
<path class="c" d="M41.2 327.6C42 326.9 44.2 324.4 46.1 323.6C48 322.8 50.3 322.9 52.4 322.8C54.5 322.7 56.7 322.8 58.8 323.1C60.9 323.3 63 323.7 65.1 324.1C67.2 324.6 69.5 325.2 71.2 325.9C73 326.7 74.6 327.3 75.5 328.9C76.4 330.4 76.3 333 76.6 335.1C76.9 337.3 77.1 339.4 77.3 341.5C77.5 343.6 77.6 345.7 77.6 347.9C77.7 350 77.6 352.1 77.5 354.3C77.4 356.4 77.2 358.5 76.9 360.6C76.6 362.7 76.3 364.8 75.9 366.9C75.5 369 75.1 371.1 74.7 373.2C74.2 375.3 73.7 377.3 73.1 379.4C72.5 381.4 71.9 383.5 71.3 385.5C70.6 387.5 69.9 389.5 69.1 391.5C68.4 393.5 67.6 395.5 66.7 397.4C65.8 399.4 64.9 401.3 63.9 403.2C62.8 405 61.7 406.8 60.4 408.5C59.2 410.3 57.8 411.9 56.5 413.5C55.1 415.2 52.9 417.5 52.2 418.3"/>
<path class="c" d="M41.2 327.6C42.1 327 44.5 324.5 46.5 323.7C48.5 323 50.9 323.2 53.1 323.1C55.3 323.1 57.5 323.4 59.7 323.7C61.9 324 64.1 324.5 66.2 325C68.3 325.6 71.1 325.7 72.5 326.9C73.8 328.2 73.9 330.4 74.3 332.4C74.8 334.3 75 336.7 75.2 338.9C75.5 341.1 75.6 343.3 75.7 345.6C75.8 347.8 75.8 350 75.7 352.2C75.6 354.4 75.4 356.6 75.1 358.8C74.9 361 74.5 363.2 74.1 365.4C73.7 367.6 73.3 369.7 72.8 371.9C72.3 374.1 71.8 376.2 71.2 378.3C70.6 380.5 70 382.6 69.3 384.7C68.6 386.8 67.8 388.9 67 390.9C66.2 393 65.4 395.1 64.4 397C63.5 399 62.5 401 61.3 402.9C60.1 404.8 58.8 406.5 57.4 408.3C56.1 410 54.7 411.8 53.2 413.4C51.7 415 49.3 417.4 48.6 418.2"/>
<path class="c" d="M41.2 327.6C42.1 327 44.4 324.7 46.4 324C48.3 323.3 50.6 323.5 52.7 323.5C54.8 323.5 57 323.7 59 324C61.1 324.3 63.3 324.9 65.3 325.3C67.3 325.8 70 325.4 71.2 326.6C72.4 327.8 72.3 330.6 72.7 332.6C73.1 334.7 73.3 336.8 73.5 339C73.7 341.1 73.8 343.2 73.9 345.3C74 347.4 74 349.6 73.9 351.7C73.8 353.8 73.6 355.9 73.3 358C73 360.1 72.7 362.2 72.3 364.3C72 366.4 71.6 368.5 71.1 370.6C70.7 372.7 70.1 374.7 69.6 376.8C69 378.8 68.4 380.8 67.8 382.9C67.1 384.9 66.4 386.9 65.6 388.9C64.8 390.8 64 392.8 63.1 394.7C62.2 396.6 61.2 398.5 60.1 400.3C59 402.2 57.7 403.9 56.4 405.5C55.2 407.2 53.8 408.9 52.4 410.5C51 412.1 49.6 413.7 48 415.1C46.4 416.4 43.6 418 42.7 418.6"/>
<path class="c" d="M41.2 327.6C42.1 327 44.7 324.8 46.7 324.2C48.7 323.6 51.1 323.8 53.3 323.9C55.5 323.9 57.7 324.2 59.9 324.6C62.1 325 64.5 325.4 66.3 326.2C68.1 327 69.6 327.8 70.5 329.4C71.3 331 71.2 333.7 71.5 335.9C71.7 338.1 71.9 340.3 72.1 342.5C72.2 344.7 72.2 346.9 72.2 349.1C72.1 351.3 71.9 353.5 71.7 355.7C71.5 357.9 71.1 360.1 70.8 362.2C70.4 364.4 70 366.6 69.5 368.7C69.1 370.9 68.6 373 68 375.2C67.4 377.3 66.8 379.4 66.1 381.5C65.4 383.6 64.6 385.7 63.8 387.7C63 389.8 62.2 391.8 61.2 393.8C60.2 395.7 59.1 397.7 57.8 399.5C56.6 401.3 55.3 403.1 53.9 404.8C52.5 406.5 51.1 408.2 49.5 409.8C48 411.3 46.3 412.8 44.5 414C42.7 415.3 39.7 416.8 38.8 417.3"/>
<path class="c" d="M41.2 327.6C42.1 327.1 44.6 325.1 46.5 324.5C48.5 323.9 50.7 324.1 52.8 324.2C54.9 324.3 57 324.6 59.1 324.9C61.1 325.3 63.6 325.6 65.2 326.4C66.8 327.2 68.1 328 68.9 329.6C69.7 331.2 69.6 333.8 69.8 335.8C70.1 337.9 70.3 340 70.4 342.1C70.5 344.2 70.5 346.3 70.4 348.4C70.4 350.5 70.2 352.6 70 354.7C69.8 356.8 69.5 358.9 69.1 361C68.8 363 68.4 365.1 68 367.1C67.5 369.2 67 371.2 66.5 373.3C65.9 375.3 65.3 377.3 64.7 379.3C64 381.3 63.3 383.3 62.6 385.2C61.8 387.2 61 389.2 60.1 391C59.1 392.9 58.1 394.8 57 396.5C55.8 398.3 54.5 399.9 53.2 401.6C51.9 403.2 50.6 404.9 49.1 406.4C47.6 407.9 46.1 409.3 44.4 410.5C42.7 411.7 39.8 413.1 38.9 413.6"/>
<path class="c" d="M41.2 327.6C42.1 327.1 44.7 325.2 46.7 324.7C48.7 324.2 50.9 324.5 53 324.6C55.1 324.7 57.3 325 59.3 325.4C61.4 325.8 64.1 326 65.5 327C66.9 328.1 67.2 329.8 67.7 331.6C68.2 333.4 68.3 335.8 68.5 337.9C68.7 340 68.8 342.1 68.8 344.2C68.8 346.4 68.8 348.5 68.6 350.6C68.5 352.7 68.2 354.8 67.9 356.9C67.6 359 67.3 361.1 66.9 363.2C66.5 365.3 66 367.3 65.5 369.4C65 371.5 64.5 373.5 63.8 375.5C63.2 377.5 62.5 379.6 61.8 381.5C61.1 383.5 60.3 385.5 59.4 387.4C58.5 389.3 57.5 391.2 56.4 393C55.3 394.8 54 396.5 52.7 398.2C51.4 399.8 50.1 401.6 48.6 403C47.1 404.5 45.5 405.9 43.8 407.1C42.1 408.4 39.2 409.8 38.3 410.4"/>
<path class="c" d="M41.2 327.6C42.1 327.2 44.8 325.4 46.8 325C48.8 324.5 51.1 324.8 53.2 324.9C55.3 325.1 57.4 325.5 59.5 325.8C61.5 326.2 64.1 325.8 65.3 327.1C66.4 328.3 66.1 331.2 66.4 333.3C66.7 335.4 66.9 337.5 67 339.6C67.1 341.8 67.2 343.9 67.2 346C67.1 348.1 67 350.3 66.8 352.4C66.6 354.5 66.2 356.6 65.9 358.7C65.5 360.8 65.1 362.9 64.7 364.9C64.2 367 63.7 369.1 63.2 371.1C62.6 373.1 61.9 375.2 61.3 377.2C60.6 379.2 59.8 381.2 59 383.1C58.2 385.1 57.3 387 56.2 388.9C55.1 390.7 53.9 392.4 52.6 394.1C51.4 395.8 50.1 397.5 48.6 399.1C47.2 400.6 45.6 402.1 43.9 403.3C42.2 404.6 39.4 406 38.5 406.6"/>
<path class="c" d="M41.2 327.6C42.2 327.2 44.9 325.6 46.9 325.2C48.9 324.8 51.2 325.1 53.3 325.2C55.4 325.4 57.8 325.7 59.6 326.3C61.4 326.9 63.2 327.2 64.2 328.7C65.1 330.2 64.9 332.9 65.1 335C65.3 337.1 65.5 339.3 65.5 341.4C65.6 343.5 65.6 345.6 65.5 347.8C65.4 349.9 65.1 352 64.8 354.1C64.6 356.2 64.2 358.3 63.8 360.4C63.4 362.5 62.9 364.6 62.4 366.6C61.9 368.7 61.3 370.7 60.7 372.8C60.1 374.8 59.4 376.8 58.6 378.8C57.8 380.8 57 382.7 56 384.6C55 386.5 53.8 388.3 52.6 390C51.4 391.7 50.1 393.5 48.7 395C47.2 396.6 45.8 398.2 44.1 399.5C42.4 400.7 39.6 402.2 38.6 402.8"/>
<path class="c" d="M41.2 327.6C42.2 327.2 45 325.7 47.1 325.4C49.1 325 51.4 325.3 53.5 325.6C55.6 325.8 58.2 325.9 59.8 326.8C61.4 327.6 62.4 328.8 63 330.5C63.7 332.2 63.6 334.8 63.8 336.9C64 339 64.1 341.2 64 343.3C64 345.5 63.9 347.6 63.7 349.8C63.5 351.9 63.2 354 62.8 356.2C62.5 358.3 62.1 360.4 61.6 362.5C61.1 364.6 60.6 366.7 60 368.7C59.4 370.8 58.7 372.8 58 374.8C57.2 376.8 56.5 378.9 55.5 380.8C54.5 382.7 53.4 384.5 52.2 386.3C51 388.1 49.7 389.8 48.3 391.4C46.9 393 45.4 394.6 43.7 395.9C42 397.2 39.1 398.7 38.2 399.3"/>
<path class="c" d="M41.2 327.6C42.2 327.3 45.1 325.9 47.2 325.6C49.2 325.3 51.5 325.6 53.6 325.9C55.7 326.2 58.6 326.2 59.9 327.2C61.3 328.3 61.4 330.3 61.8 332.1C62.2 334 62.3 336.4 62.4 338.6C62.5 340.7 62.6 342.9 62.5 345C62.4 347.2 62.1 349.3 61.9 351.5C61.6 353.6 61.2 355.7 60.8 357.9C60.4 360 59.9 362.1 59.4 364.2C58.8 366.2 58.2 368.3 57.5 370.4C56.8 372.4 56.1 374.5 55.2 376.4C54.3 378.4 53.3 380.3 52.2 382.1C51 383.9 49.7 385.7 48.4 387.3C47 389 45.6 390.6 43.9 392C42.2 393.3 39.3 394.8 38.4 395.4"/>
<path class="c" d="M41.2 327.6C42.2 327.3 45.2 326 47.3 325.8C49.4 325.5 51.7 326 53.7 326.2C55.8 326.5 58.5 326.1 59.7 327.3C60.8 328.6 60.4 331.6 60.6 333.8C60.9 335.9 61 338.1 61 340.2C61.1 342.4 61 344.6 60.8 346.7C60.6 348.9 60.3 351 60 353.2C59.6 355.3 59.2 357.4 58.7 359.6C58.2 361.7 57.7 363.8 57.1 365.8C56.4 367.9 55.8 370 54.9 372C54.1 374 53.2 376 52.1 377.8C51 379.7 49.8 381.5 48.4 383.2C47.1 384.8 45.7 386.6 44.1 388C42.4 389.4 39.5 390.9 38.6 391.5"/>
<path class="c" d="M41.2 327.6C42.2 327.3 45 326.2 46.9 326C48.9 325.8 51.1 326.1 53 326.4C54.9 326.7 57.3 326.4 58.4 327.6C59.4 328.8 59.1 331.6 59.3 333.7C59.5 335.7 59.6 337.7 59.6 339.8C59.6 341.8 59.5 343.8 59.4 345.9C59.2 347.9 58.9 349.9 58.6 351.9C58.2 353.9 57.9 355.9 57.4 357.9C56.9 359.9 56.4 361.9 55.8 363.8C55.2 365.7 54.6 367.7 53.8 369.6C53 371.4 52.2 373.3 51.1 375.1C50.1 376.8 48.9 378.5 47.7 380.1C46.4 381.6 45.1 383.2 43.5 384.5C42 385.8 39.2 387.3 38.4 387.8"/>
<path fill="#000" stroke="#000" stroke-width="0.6" d="M41.2 327.6C44.1 327.6 55.6 326.3 58.7 327.6C61.8 328.9 59.5 332.8 59.8 335.3C60 337.9 60 340.6 59.9 343.1C59.8 345.5 59.6 347.7 59.2 350.2C58.9 352.7 58.4 355.4 57.8 357.9C57.2 360.5 56.6 363.1 55.7 365.7C54.9 368.3 53.9 371.1 52.8 373.4C51.6 375.7 50.4 377.5 49.1 379.4C47.7 381.2 46 383.4 44.7 384.7C43.4 386 41.8 386.7 41.2 387.1Z"/>
<path class="c" d="M41.2 240.8C43.1 241.7 49.1 243.8 52.7 246C56.3 248.2 60.3 251.5 63 254.1C65.7 256.7 67.4 258.5 68.9 261.5C70.4 264.5 71.4 268.3 72 272C72.6 275.7 73.3 280.1 72.6 283.5C71.8 286.9 69.6 289.9 67.5 292.4C65.4 294.9 62.3 296.7 60.1 298.3C57.9 299.9 56.4 300.1 54.2 302C52.1 303.9 48.4 308.3 47.2 309.6"/>
<path class="c" d="M41.2 254.1C42.6 255.1 46.9 257.3 49.8 260C52.7 262.7 56.3 266.9 58.6 270.3C60.9 273.7 63.1 277.4 63.8 280.6C64.5 283.8 64.1 286.7 63 289.4C61.9 292.1 58.8 294.9 57.1 296.8C55.4 298.7 54.4 298.4 52.7 300.5C51.1 302.6 48.1 308.1 47.2 309.6"/>
<path class="c" d="M41.2 260C42.4 260.9 46 262.7 48.3 265.1C50.6 267.6 53.2 271.6 54.9 274.7C56.6 277.8 58.1 280.8 58.6 283.5C59.1 286.2 58.9 288.4 57.9 290.9C56.9 293.4 54.7 295.2 52.7 298.3C50.8 301.4 47.3 307.7 46.2 309.6"/>
<path class="c" d="M41.2 265.1C42.1 265.9 45 267.5 46.8 269.6C48.6 271.7 50.6 274.9 52 277.7C53.4 280.5 54.6 283.6 54.9 286.5C55.1 289.4 55 291.8 53.5 295.3C52 298.8 47.4 305.6 46.2 307.6"/>
<path class="c" d="M41.2 269.6C42 270.3 44.5 271.7 46.1 273.5C47.6 275.3 49.4 278.1 50.6 280.6C51.8 283 52.9 285.7 53.1 288.2C53.4 290.8 53.4 293 51.9 295.9C50.4 298.8 45.5 304 44.2 305.6"/>
<path class="c" d="M41.2 273.3C41.9 273.9 44.1 275.1 45.5 276.7C46.9 278.3 48.4 280.8 49.5 282.9C50.5 285.1 51.5 287.4 51.7 289.7C51.9 291.9 51.9 293.7 50.6 296.4C49.4 299.1 45.3 304.1 44.2 305.6"/>
<path class="c" d="M41.2 276.5C41.8 277 43.8 278.1 45 279.5C46.2 280.9 47.6 283.1 48.5 285C49.4 286.9 50.3 288.9 50.4 290.9C50.6 292.9 50.5 294.4 49.5 296.8C48.4 299.3 45.1 304.1 44.2 305.6"/>
<path class="c" d="M41.2 279.5C41.7 279.9 43.4 280.9 44.5 282.1C45.5 283.4 46.8 285.2 47.5 286.9C48.3 288.6 49.1 290.3 49.2 292.1C49.4 293.8 49.3 295 48.4 297.2C47.6 299.5 44.9 304.2 44.2 305.6"/>
<path class="c" d="M41.2 282.2C41.7 282.6 43.1 283.4 44.1 284.5C45 285.6 46 287.2 46.7 288.6C47.4 290.1 48.1 291.6 48.2 293.1C48.3 294.6 48.1 295.5 47.5 297.6C46.8 299.7 44.7 304.3 44.2 305.6"/>
<path class="c" d="M41.2 284.8C41.6 285.1 42.9 285.8 43.6 286.8C44.4 287.7 45.3 289.1 45.9 290.3C46.5 291.5 47.1 292.8 47.2 294.1C47.3 295.4 47.1 296 46.6 298C46.1 299.9 44.6 304.3 44.2 305.6"/>
<path class="c" d="M41.2 287.2C41.5 287.5 42.6 288.1 43.3 288.9C43.9 289.6 44.7 290.8 45.2 291.8C45.7 292.9 46.1 294 46.2 295C46.3 296.1 46 296.5 45.7 298.3C45.4 300 44.5 304.4 44.2 305.6"/>
<path class="c" d="M41.2 289.4C41.5 289.6 42.4 290.1 42.9 290.8C43.4 291.4 44.1 292.4 44.5 293.2C44.9 294.1 45.3 295 45.4 295.9C45.4 296.8 45.1 297 44.9 298.6C44.7 300.2 44.3 304.4 44.2 305.6"/>
<path class="c" d="M41.2 291.5C41.4 291.7 42.1 292.1 42.6 292.6C43 293.1 43.5 293.9 43.8 294.6C44.2 295.3 44.5 296 44.5 296.7C44.6 297.4 44.3 297.4 44.2 298.9C44.1 300.3 44.2 304.5 44.2 305.6"/>
<path class="c" d="M41.2 293.5C41.4 293.6 41.9 293.9 42.2 294.3C42.6 294.7 43 295.3 43.2 295.8C43.5 296.4 43.7 296.9 43.8 297.5C43.8 298 43.4 297.8 43.5 299.1C43.6 300.5 44.1 304.5 44.2 305.6"/>
<path class="c" d="M41.2 295.3C41.3 295.4 41.7 295.6 42 295.9C42.2 296.2 42.5 296.6 42.7 297C42.8 297.4 43 297.8 43 298.2C43.1 298.6 42.7 298.1 42.9 299.4C43 300.6 44 304.6 44.2 305.6"/>
<path d="M41.2 296L46.2 297L51.2 301L54.2 306L56.2 312L61.2 318L69.2 323L77.2 326L77.2 327.6L41.2 327.6Z" fill="#000"/>
<g transform="translate(71.8,271.5) rotate(84)"><rect x="-8.2" y="-2.6" width="16.3" height="5.2" fill="#fff"/><text class="cl" text-anchor="middle" y="1.6">3.6226</text></g>
<g transform="translate(96.9,353) rotate(-82)"><rect x="-9.4" y="-2.6" width="18.8" height="5.2" fill="#fff"/><text class="cl" text-anchor="middle" y="1.6">54.7794</text></g>
<g transform="translate(112.3,354.5) rotate(-78)"><rect x="-9.4" y="-2.6" width="18.8" height="5.2" fill="#fff"/><text class="cl" text-anchor="middle" y="1.6">35.5531</text></g>
<g transform="translate(160.8,352.9) rotate(42)"><rect x="-6.9" y="-2.6" width="13.8" height="5.2" fill="#fff"/><text class="cl" text-anchor="middle" y="1.6">6.102</text></g>
</g>
<rect class="fr" x="41.2" y="234.5" width="232.3" height="181.1"/>
<line class="fr" x1="41.2" y1="327.6" x2="273.5" y2="327.6" style="stroke-width:1.25"/>
<rect x="95.3" y="369.2" width="115.7" height="4.9" fill="#000"/>
<text class="tk" text-anchor="middle" x="27.9" y="238.1">-200</text>
<text class="tk" text-anchor="middle" x="28.9" y="330.4">0</text>
<text class="tk" text-anchor="middle" x="29.2" y="416.4">200</text>
<text class="tk" text-anchor="middle" x="38.9" y="427.6">-200</text>
<text class="tk" text-anchor="middle" x="148.7" y="427.6">0</text>
<line class="fr" x1="148.7" y1="415.6" x2="148.7" y2="413.6" style="stroke-width:1"/>
<line class="fr" x1="148.7" y1="234.5" x2="148.7" y2="236.5" style="stroke-width:1"/>
<text class="tk" text-anchor="middle" x="272.1" y="427.6">200</text>
<text class="ax" x="105.5" y="446.6" textLength="103.6" lengthAdjust="spacingAndGlyphs">Distance along line [m]</text>
<text class="ax" transform="translate(9,384.2) rotate(-90)" textLength="112.3" lengthAdjust="spacingAndGlyphs">Depth below seafloor [m]</text>
<text class="ti" x="58.1" y="255.3">0.0079s</text>
</g>
<g>
<clipPath id="cp3"><rect x="328.7" y="234.4" width="230.9" height="180.8"/></clipPath>
<g clip-path="url(#cp3)">
<path class="c" d="M328.7 328.6C329.5 327.9 332.1 325.9 333.8 324.5C335.5 323.1 337.2 321.8 338.8 320.4C340.5 319 342.2 317.6 343.8 316.1C345.5 314.7 347.1 313.3 348.8 311.9C350.4 310.4 352.1 309 353.7 307.6C355.4 306.2 357.2 305 358.7 303.4C360.1 301.8 361.4 299.9 362.4 298C363.4 296.1 363.9 293.9 364.7 291.9C365.5 289.9 366.3 287.9 367.2 285.9C368 283.9 369 281.9 369.6 279.8C370.3 277.8 370.7 275.6 371.1 273.5C371.4 271.3 371.6 269.1 371.6 267C371.5 264.8 371.2 262.6 370.8 260.5C370.5 258.3 369.9 256.2 369.2 254.1C368.6 252.1 367.9 250 367 248C366.2 246 365.1 244.1 363.9 242.2C362.8 240.4 361.3 238.8 360 237C358.7 235.3 356.6 232.8 356 231.9"/>
<path class="c" d="M328.7 328.6C329.5 327.9 331.9 325.8 333.6 324.3C335.2 322.9 336.8 321.5 338.4 320C340 318.6 341.6 317.1 343.1 315.6C344.7 314.2 346.3 312.7 347.8 311.2C349.4 309.7 350.9 308.2 352.5 306.8C354.1 305.3 355.8 304 357.2 302.3C358.6 300.7 359.8 298.9 360.8 297C361.8 295.1 362.2 292.9 363 290.9C363.8 288.9 364.7 287 365.6 285C366.4 283 367.3 281 367.9 279C368.5 276.9 368.9 274.8 369.2 272.6C369.4 270.5 369.6 268.3 369.5 266.2C369.4 264 368.9 261.9 368.5 259.8C368 257.7 367.4 255.6 366.7 253.6C366 251.6 365.3 249.5 364.4 247.6C363.4 245.7 362.1 243.9 360.9 242.1C359.7 240.4 358.3 238.7 357 237C355.6 235.3 353.5 232.9 352.8 232"/>
<path class="c" d="M328.7 328.6C329.5 327.9 331.8 325.6 333.4 324.1C334.9 322.6 336.5 321.1 338 319.6C339.5 318.1 341.1 316.6 342.6 315C344.1 313.5 345.6 312 347.1 310.4C348.6 308.9 350.1 307.3 351.6 305.8C353.1 304.2 354.7 302.8 356 301.1C357.4 299.4 358.5 297.5 359.4 295.6C360.3 293.7 360.8 291.5 361.7 289.5C362.5 287.5 363.5 285.6 364.2 283.6C365 281.6 365.8 279.6 366.4 277.5C366.9 275.4 367.2 273.3 367.4 271.1C367.5 269 367.5 266.8 367.3 264.7C367 262.6 366.5 260.5 366 258.4C365.4 256.3 364.8 254.2 364 252.2C363.1 250.2 362.2 248.3 361.1 246.4C360 244.6 358.6 243 357.3 241.3C355.9 239.5 354.7 237.8 353.3 236.2C351.9 234.5 349.6 232.2 348.9 231.4"/>
<path class="c" d="M328.7 328.6C329.4 327.8 331.7 325.5 333.1 324C334.6 322.4 336.1 320.9 337.5 319.4C339 317.8 340.4 316.2 341.8 314.6C343.3 313.1 344.7 311.5 346.1 309.9C347.5 308.3 348.9 306.7 350.3 305.1C351.7 303.5 353.3 302 354.5 300.3C355.8 298.6 356.9 296.8 357.8 294.8C358.8 292.9 359.3 290.8 360.1 288.9C360.9 286.9 361.9 285 362.6 283C363.4 281 364.2 279 364.6 277C365.1 274.9 365.5 272.8 365.6 270.6C365.6 268.5 365.5 266.4 365.2 264.3C364.9 262.2 364.3 260.1 363.7 258.1C363.1 256 362.5 254 361.6 252C360.7 250.1 359.6 248.3 358.5 246.5C357.3 244.7 355.9 243.1 354.6 241.4C353.3 239.8 352 238.1 350.5 236.5C349.1 234.9 346.7 232.8 346 232"/>
<path class="c" d="M328.7 328.6C329.4 327.8 331.5 325.4 332.9 323.8C334.3 322.2 335.7 320.6 337.1 319C338.5 317.4 339.9 315.8 341.2 314.1C342.6 312.5 343.9 310.9 345.3 309.2C346.6 307.6 348 305.9 349.3 304.3C350.6 302.6 352.1 301 353.3 299.3C354.5 297.5 355.6 295.7 356.5 293.8C357.4 291.9 357.9 289.8 358.7 287.8C359.5 285.8 360.6 284 361.3 282C362 280 362.7 277.9 363.1 275.9C363.5 273.8 363.8 271.6 363.8 269.5C363.8 267.4 363.5 265.3 363 263.2C362.6 261.1 362 259.1 361.3 257.1C360.7 255.1 359.9 253 358.9 251.2C357.9 249.3 356.6 247.6 355.3 245.9C354 244.2 352.8 242.5 351.4 240.9C350 239.3 348.6 237.7 347.1 236.2C345.6 234.7 343.1 232.7 342.3 232"/>
<path class="c" d="M328.7 328.6C329.4 327.8 331.4 325.3 332.8 323.6C334.1 322 335.5 320.3 336.8 318.6C338.1 316.9 339.4 315.2 340.7 313.5C342 311.8 343.3 310.1 344.6 308.4C345.9 306.7 347.2 305 348.4 303.3C349.7 301.6 351.1 299.9 352.2 298.1C353.4 296.3 354.4 294.4 355.3 292.5C356.1 290.5 356.7 288.4 357.5 286.5C358.4 284.5 359.4 282.6 360.1 280.6C360.8 278.6 361.3 276.4 361.6 274.3C361.9 272.2 362 270.1 361.9 267.9C361.7 265.8 361.3 263.7 360.7 261.6C360.2 259.6 359.6 257.5 358.7 255.5C357.9 253.6 356.9 251.7 355.7 249.9C354.5 248.1 353.1 246.5 351.8 244.8C350.5 243.1 349.1 241.4 347.7 239.9C346.2 238.3 344.6 236.9 343 235.5C341.4 234.1 338.8 232.2 337.9 231.6"/>
<path class="c" d="M328.7 328.6C329.3 327.7 331.3 325.2 332.6 323.4C333.9 321.7 335.2 320 336.4 318.3C337.7 316.5 338.9 314.8 340.2 313C341.4 311.3 342.6 309.5 343.9 307.7C345.1 306 346.3 304.2 347.5 302.4C348.7 300.7 350 298.9 351.1 297.1C352.2 295.2 353.1 293.3 354 291.3C354.9 289.4 355.6 287.3 356.4 285.3C357.2 283.3 358.2 281.4 358.9 279.4C359.5 277.3 359.9 275.2 360.1 273.1C360.3 270.9 360.2 268.8 360 266.6C359.7 264.5 359.1 262.4 358.5 260.4C357.8 258.3 357.1 256.3 356.1 254.4C355.2 252.5 353.8 250.8 352.5 249C351.3 247.3 349.9 245.6 348.5 244C347.1 242.3 345.7 240.8 344.1 239.3C342.5 237.9 340.8 236.5 339.1 235.2C337.4 233.9 334.7 232.2 333.8 231.6"/>
<path class="c" d="M328.7 328.6C329.3 327.7 331.2 325 332.4 323.2C333.7 321.4 334.9 319.6 336.1 317.8C337.3 316 338.5 314.2 339.7 312.4C340.9 310.6 342.1 308.7 343.3 306.9C344.4 305.1 345.6 303.2 346.8 301.4C347.9 299.5 349.1 297.7 350.2 295.8C351.2 293.9 352.1 291.9 353 289.9C353.8 287.9 354.6 285.9 355.4 283.9C356.2 281.8 357.2 279.8 357.7 277.7C358.2 275.6 358.6 273.4 358.6 271.3C358.6 269.1 358.3 266.9 357.8 264.8C357.4 262.7 356.8 260.6 355.9 258.6C355.1 256.6 354.1 254.6 352.9 252.8C351.8 251 350.3 249.3 349 247.6C347.6 245.9 346.2 244.2 344.6 242.7C343.1 241.2 341.4 239.7 339.7 238.4C338 237 336.3 235.7 334.4 234.6C332.5 233.5 329.5 232.2 328.5 231.8"/>
<path class="c" d="M328.7 328.6C329.3 327.7 331 325 332.2 323.2C333.3 321.4 334.5 319.6 335.6 317.8C336.7 315.9 337.9 314.1 339 312.3C340.1 310.4 341.2 308.6 342.3 306.7C343.4 304.9 344.5 303.1 345.5 301.2C346.6 299.3 347.7 297.5 348.7 295.6C349.7 293.7 350.6 291.8 351.5 289.8C352.3 287.8 353.1 285.8 353.9 283.8C354.7 281.8 355.6 279.9 356.1 277.8C356.7 275.8 357 273.6 357 271.5C357 269.4 356.6 267.2 356.2 265.1C355.7 263 355.1 260.9 354.2 259C353.4 257 352.3 255.2 351.1 253.4C349.9 251.6 348.5 250 347.1 248.3C345.8 246.7 344.3 245.1 342.8 243.6C341.2 242.2 339.5 240.8 337.8 239.5C336.1 238.3 334.3 237 332.4 236C330.5 235 327.5 233.9 326.5 233.5"/>
<path class="c" d="M328.7 328.6C329.2 327.7 330.8 325 331.9 323.2C333 321.4 334 319.6 335.1 317.8C336.1 316 337.1 314.2 338.1 312.4C339.2 310.5 340.2 308.7 341.2 306.9C342.2 305.1 343.2 303.2 344.2 301.4C345.1 299.5 346.1 297.7 347.1 295.8C348 294 348.9 292.1 349.8 290.2C350.6 288.3 351.3 286.3 352.1 284.4C352.9 282.5 353.9 280.6 354.5 278.6C355 276.6 355.4 274.5 355.4 272.4C355.5 270.4 355.2 268.2 354.8 266.2C354.3 264.2 353.7 262.1 352.9 260.2C352.1 258.3 351 256.5 349.9 254.8C348.7 253.1 347.4 251.4 346 249.8C344.7 248.3 343.3 246.7 341.7 245.3C340.2 243.9 338.6 242.6 336.9 241.3C335.2 240.1 333.4 239 331.6 238C329.7 237.1 326.7 236.1 325.8 235.7"/>
<path class="c" d="M328.7 328.6C329.2 327.7 330.8 324.9 331.8 323C332.8 321.1 333.8 319.2 334.8 317.4C335.8 315.5 336.8 313.6 337.8 311.7C338.8 309.8 339.7 307.9 340.7 306C341.7 304.1 342.6 302.2 343.5 300.3C344.5 298.3 345.4 296.4 346.3 294.5C347.2 292.5 348.1 290.6 348.9 288.6C349.8 286.7 350.6 284.7 351.4 282.7C352.1 280.7 353 278.8 353.4 276.7C353.8 274.6 354 272.4 353.8 270.3C353.7 268.2 353.1 266.1 352.5 264.1C351.9 262.1 351.1 260 350.1 258.2C349 256.3 347.6 254.7 346.3 253C344.9 251.4 343.6 249.7 342.1 248.2C340.6 246.7 338.9 245.3 337.2 244C335.5 242.8 333.7 241.5 331.9 240.6C330 239.6 326.9 238.5 325.9 238.1"/>
<path class="c" d="M328.7 328.6C329.2 327.6 330.7 324.7 331.7 322.7C332.6 320.8 333.6 318.8 334.6 316.9C335.5 314.9 336.5 312.9 337.4 311C338.4 309 339.3 307 340.2 305C341.1 303 342 301 342.9 299C343.8 297 344.7 295 345.5 293C346.4 291 347.3 289 348.1 287C349 285 350 283 350.7 281C351.4 278.9 352.1 276.8 352.3 274.6C352.5 272.5 352.3 270.2 351.9 268.1C351.5 266 350.9 263.8 350 261.8C349.1 259.9 347.8 258.1 346.5 256.3C345.3 254.5 343.9 252.8 342.4 251.2C340.9 249.6 339.3 248.1 337.6 246.8C335.9 245.4 334.1 244.1 332.1 243.1C330.2 242.1 327.1 241 326.1 240.5"/>
<path class="c" d="M328.7 328.6C329.1 327.6 330.5 324.8 331.4 322.9C332.2 320.9 333.1 319 334 317.1C334.9 315.2 335.7 313.2 336.5 311.3C337.4 309.4 338.2 307.4 339.1 305.5C339.9 303.6 340.7 301.6 341.5 299.7C342.3 297.7 343.1 295.8 343.9 293.8C344.7 291.9 345.4 289.9 346.2 287.9C347.1 286 348 284.1 348.7 282.1C349.5 280.2 350.3 278.2 350.6 276.1C350.9 274.1 350.9 271.9 350.7 269.8C350.4 267.8 349.8 265.7 349 263.7C348.2 261.8 347 260 345.9 258.3C344.7 256.5 343.3 254.9 341.9 253.3C340.5 251.8 338.9 250.3 337.3 249C335.7 247.7 333.9 246.4 332.1 245.4C330.2 244.4 327.2 243.4 326.3 242.9"/>
<path class="c" d="M328.7 328.6C329.1 327.7 330.3 324.8 331.1 323C331.9 321.1 332.7 319.2 333.5 317.3C334.2 315.4 335 313.5 335.8 311.6C336.5 309.7 337.3 307.8 338 305.9C338.8 304 339.5 302.1 340.2 300.2C341 298.3 341.7 296.3 342.4 294.4C343.1 292.5 343.7 290.6 344.5 288.7C345.2 286.8 346.1 284.9 346.9 283C347.6 281.1 348.6 279.3 349 277.3C349.4 275.3 349.5 273.2 349.3 271.2C349.1 269.2 348.5 267.1 347.8 265.3C347.1 263.4 346 261.6 344.9 259.9C343.8 258.2 342.5 256.6 341.1 255.1C339.7 253.6 338.2 252.2 336.6 250.9C335 249.6 333.3 248.4 331.5 247.5C329.8 246.5 326.8 245.5 325.9 245.1"/>
<path class="c" d="M328.7 328.6C329.1 327.6 330.2 324.7 331 322.7C331.7 320.7 332.5 318.8 333.2 316.8C334 314.8 334.7 312.8 335.4 310.8C336.1 308.9 336.9 306.9 337.6 304.9C338.3 302.9 339 300.9 339.7 298.9C340.3 296.9 341 294.9 341.7 292.9C342.3 290.9 343 288.9 343.8 287C344.5 285 345.6 283.1 346.3 281.2C347 279.2 347.7 277.1 347.9 275.1C348 273 347.7 270.8 347.3 268.8C346.8 266.8 346 264.8 345 262.9C344 261.1 342.5 259.5 341.2 257.9C339.8 256.3 338.3 254.8 336.7 253.4C335.1 252.1 333.4 250.8 331.5 249.8C329.7 248.8 326.7 247.8 325.7 247.4"/>
<path class="c" d="M328.7 328.6C329 327.6 330 324.8 330.7 322.9C331.4 320.9 332 319 332.7 317.1C333.4 315.2 334 313.3 334.6 311.3C335.3 309.4 335.9 307.5 336.5 305.6C337.2 303.6 337.8 301.7 338.4 299.8C339 297.8 339.6 295.9 340.2 293.9C340.8 292 341.3 290 341.9 288.1C342.6 286.2 343.6 284.4 344.3 282.5C345 280.6 345.9 278.7 346.2 276.8C346.6 274.8 346.5 272.7 346.1 270.7C345.8 268.8 345.1 266.7 344.2 265C343.3 263.2 342 261.6 340.7 260C339.4 258.5 338 256.9 336.5 255.6C334.9 254.3 333.3 253.1 331.5 252.1C329.8 251.1 326.9 250.1 325.9 249.7"/>
<path class="c" d="M328.7 328.6C329 327.6 330 324.6 330.6 322.6C331.2 320.6 331.8 318.6 332.5 316.6C333.1 314.6 333.7 312.6 334.3 310.6C334.9 308.6 335.5 306.6 336 304.6C336.6 302.6 337.2 300.6 337.8 298.6C338.3 296.6 338.9 294.6 339.4 292.6C340 290.5 340.4 288.5 341.1 286.5C341.8 284.6 343 282.8 343.6 280.8C344.3 278.8 345 276.8 345 274.7C345.1 272.7 344.6 270.5 343.9 268.6C343.3 266.7 342.1 264.8 340.9 263.1C339.8 261.4 338.4 259.8 336.9 258.4C335.3 257 333.7 255.6 331.9 254.6C330.1 253.5 327.1 252.5 326.2 252.1"/>
<path class="c" d="M328.7 328.6C329 327.6 329.8 324.7 330.3 322.8C330.9 320.9 331.4 318.9 332 317C332.5 315.1 333 313.1 333.5 311.2C334.1 309.3 334.6 307.3 335.1 305.4C335.6 303.4 336.1 301.5 336.6 299.6C337.1 297.6 337.6 295.7 338 293.7C338.5 291.8 338.9 289.8 339.5 287.9C340.1 285.9 340.9 284.1 341.6 282.2C342.3 280.4 343.2 278.5 343.5 276.6C343.7 274.6 343.5 272.5 343 270.6C342.5 268.7 341.5 266.9 340.4 265.2C339.4 263.5 338 262 336.6 260.6C335.1 259.2 333.6 257.9 331.9 256.9C330.2 255.8 327.3 254.8 326.4 254.4"/>
<path class="c" d="M328.7 328.6C329 327.6 329.7 324.6 330.2 322.6C330.7 320.6 331.2 318.5 331.7 316.5C332.2 314.5 332.7 312.5 333.2 310.5C333.7 308.5 334.1 306.4 334.6 304.4C335.1 302.4 335.6 300.4 336 298.4C336.5 296.3 336.9 294.3 337.3 292.3C337.8 290.3 338 288.2 338.7 286.2C339.3 284.2 340.4 282.4 341 280.5C341.6 278.5 342.3 276.4 342.2 274.4C342.1 272.4 341.4 270.3 340.5 268.4C339.7 266.6 338.3 264.9 336.9 263.4C335.5 261.9 333.9 260.5 332.2 259.4C330.5 258.2 327.5 257.2 326.6 256.7"/>
<path class="c" d="M328.7 328.6C328.9 327.6 329.6 324.7 330 322.8C330.4 320.8 330.8 318.9 331.3 317C331.7 315 332.1 313.1 332.5 311.1C332.9 309.2 333.3 307.2 333.7 305.3C334.1 303.3 334.5 301.4 334.9 299.4C335.3 297.5 335.7 295.5 336.1 293.6C336.4 291.6 336.7 289.6 337.2 287.7C337.6 285.8 338.3 283.9 338.9 282.1C339.5 280.2 340.6 278.3 340.7 276.4C340.9 274.5 340.5 272.4 339.8 270.6C339.1 268.8 337.8 267.1 336.5 265.6C335.3 264.1 333.8 262.7 332.2 261.6C330.5 260.5 327.7 259.4 326.8 259"/>
<path class="c" d="M328.7 328.6C328.9 327.6 329.5 324.5 329.9 322.5C330.3 320.5 330.6 318.5 331 316.4C331.4 314.4 331.8 312.4 332.2 310.4C332.5 308.3 332.9 306.3 333.3 304.3C333.6 302.2 334 300.2 334.3 298.2C334.7 296.1 335 294.1 335.4 292.1C335.7 290 335.8 287.9 336.4 286C336.9 284 337.9 282.2 338.4 280.2C338.9 278.2 339.5 276.1 339.2 274.2C338.9 272.2 337.9 270.3 336.8 268.6C335.6 266.9 334.1 265.3 332.5 264.1C330.9 262.9 327.9 261.8 327 261.3"/>
<path class="c" d="M328.7 328.6C328.9 327.6 329.3 324.7 329.7 322.8C330 320.8 330.3 318.9 330.6 316.9C330.9 315 331.2 313 331.5 311.1C331.9 309.1 332.2 307.2 332.5 305.2C332.8 303.3 333.1 301.3 333.3 299.4C333.6 297.4 333.9 295.5 334.2 293.5C334.5 291.6 334.7 289.6 335 287.6C335.3 285.7 335.6 283.7 336.1 281.8C336.6 279.9 337.9 278.2 338 276.3C338 274.5 337.3 272.4 336.3 270.7C335.4 269.1 333.9 267.5 332.4 266.3C330.9 265.1 328.1 264 327.3 263.5"/>
<path class="c" d="M328.7 328.6C328.8 327.6 329.3 324.5 329.5 322.5C329.8 320.4 330.1 318.4 330.4 316.4C330.7 314.3 330.9 312.3 331.2 310.2C331.5 308.2 331.7 306.2 332 304.1C332.3 302.1 332.5 300 332.8 298C333 296 333.3 293.9 333.5 291.9C333.8 289.8 333.8 287.7 334.2 285.7C334.6 283.8 335.5 281.9 335.8 279.9C336.1 278 336.7 275.8 336.1 274C335.6 272.1 334.2 270.3 332.7 268.9C331.3 267.5 328.3 266.3 327.5 265.8"/>
<path class="c" d="M328.7 328.6C328.8 327.6 329.1 324.7 329.4 322.7C329.6 320.8 329.8 318.8 330 316.9C330.2 314.9 330.4 313 330.7 311C330.9 309.1 331.1 307.1 331.3 305.1C331.5 303.2 331.7 301.2 331.9 299.3C332.1 297.3 332.3 295.4 332.5 293.4C332.7 291.5 332.8 289.5 333 287.5C333.2 285.6 333.3 283.6 333.7 281.7C334 279.8 335.4 278.1 335.2 276.3C335 274.5 333.8 272.5 332.6 271.1C331.3 269.8 328.5 268.5 327.7 268"/>
<path class="c" d="M328.7 328.6C328.8 327.6 329.1 324.5 329.2 322.4C329.4 320.4 329.6 318.3 329.8 316.2C330 314.2 330.1 312.1 330.3 310.1C330.5 308 330.6 305.9 330.8 303.9C331 301.8 331.2 299.8 331.3 297.7C331.5 295.6 331.6 293.6 331.8 291.5C332 289.5 332 287.3 332.2 285.3C332.5 283.4 333.2 281.6 333.2 279.7C333.3 277.8 333.6 275.5 332.7 273.9C331.8 272.3 328.7 270.8 327.9 270.2"/>
<path class="c" d="M328.7 328.6C328.8 327.6 329 324.6 329.1 322.7C329.2 320.7 329.3 318.7 329.5 316.7C329.6 314.8 329.7 312.8 329.9 310.8C330 308.8 330.1 306.8 330.2 304.9C330.3 302.9 330.5 300.9 330.6 298.9C330.7 296.9 330.8 295 330.9 293C331 291 331.1 289 331.3 287.1C331.4 285.1 331.4 282.9 331.6 281.1C331.8 279.3 332.9 277.6 332.3 276.1C331.7 274.7 328.8 272.9 328.1 272.2"/>
<path class="c" d="M328.7 328.6C328.7 327.6 328.9 324.8 329 322.9C329.1 321 329.1 319.1 329.2 317.1C329.3 315.2 329.4 313.3 329.5 311.4C329.6 309.5 329.7 307.6 329.7 305.7C329.8 303.8 329.9 301.9 330 300C330.1 298.1 330.2 296.1 330.2 294.2C330.3 292.3 330.4 290.4 330.5 288.5C330.5 286.6 330.5 284.5 330.7 282.8C330.8 281.1 331.9 279.7 331.5 278.3C331.1 276.8 328.8 274.7 328.3 274"/>
<path class="c" d="M328.7 328.6C328.7 327.6 328.8 324.5 328.9 322.4C328.9 320.4 329 318.3 329.1 316.3C329.1 314.2 329.2 312.2 329.2 310.1C329.3 308 329.4 306 329.4 303.9C329.5 301.9 329.5 299.8 329.6 297.8C329.7 295.7 329.7 293.7 329.8 291.6C329.8 289.5 329.9 287.5 329.9 285.4C330 283.4 330.3 280.9 330.1 279.3C329.8 277.6 328.7 276.2 328.4 275.6"/>
<path fill="#000" stroke="#000" stroke-width="0.6" d="M328.7 328.6C330 328.1 334.2 327.1 336.7 325.6C339.2 324.1 342 321.9 343.7 319.6C345.4 317.3 346.3 314.4 346.7 311.6C347.1 308.8 347 305.3 346.2 302.6C345.4 299.9 343.6 297.5 341.7 295.6C339.8 293.7 336.9 292.1 334.7 291.1C332.5 290.1 329.7 289.9 328.7 289.6Z"/>
<path class="c" d="M328.7 328.6C329.7 328.1 332.6 326.5 334.4 325.3C336.3 324.2 338.2 323 340 321.7C341.8 320.4 343.5 319.1 345.2 317.7C346.9 316.3 348.6 314.9 350.3 313.5C352 312 353.7 310.6 355.3 309.2C357 307.7 358.7 306.3 360.1 304.7C361.6 303 363 301.2 364 299.3C365 297.4 365.5 295.2 366.3 293.1C367.1 291.1 367.9 289 368.7 287C369.6 285 370.6 283 371.3 280.9C372.1 278.8 372.6 276.7 372.9 274.5C373.3 272.4 373.6 270.2 373.7 268C373.7 265.8 373.6 263.5 373.3 261.4C373 259.2 372.4 257.1 371.8 254.9C371.3 252.8 370.6 250.7 369.8 248.6C369 246.6 368.2 244.5 367.1 242.6C366 240.7 364.6 239 363.3 237.2C362 235.4 359.9 232.9 359.3 232"/>
<path class="c" d="M328.7 328.6C329.7 328.1 332.5 326.7 334.4 325.6C336.3 324.6 338.2 323.6 340 322.4C341.8 321.3 343.6 320.1 345.3 318.9C347.1 317.6 348.8 316.4 350.6 315.1C352.3 313.8 354 312.5 355.7 311.2C357.3 309.9 359.1 308.6 360.7 307.2C362.3 305.8 364 304.4 365.4 302.8C366.8 301.2 368 299.4 369 297.5C370 295.6 370.7 293.5 371.6 291.6C372.5 289.7 373.6 287.8 374.5 285.9C375.4 283.9 376.3 281.9 376.9 279.9C377.5 277.9 378 275.8 378.3 273.6C378.7 271.5 379 269.4 379.1 267.3C379.2 265.1 379.1 263 378.9 260.8C378.7 258.7 378.3 256.6 377.8 254.5C377.3 252.4 376.7 250.3 376 248.3C375.2 246.3 374.3 244.4 373.3 242.5C372.3 240.6 371 238.9 369.8 237.1C368.6 235.3 366.7 232.7 366.1 231.8"/>
<path class="c" d="M328.7 328.6C329.6 328.1 332.5 326.8 334.4 325.9C336.3 324.9 338.2 324 340 323C341.8 322 343.6 320.9 345.4 319.8C347.2 318.7 349 317.6 350.8 316.4C352.5 315.3 354.3 314.1 356 312.9C357.7 311.7 359.5 310.5 361.2 309.3C362.9 308.1 364.6 306.9 366.3 305.5C367.9 304.2 369.6 302.9 371 301.4C372.4 299.8 373.6 298.1 374.7 296.3C375.8 294.5 376.6 292.5 377.6 290.7C378.5 288.8 379.6 287 380.4 285C381.3 283.1 382.1 281.2 382.7 279.2C383.4 277.2 383.9 275.1 384.3 273C384.7 271 385 268.9 385.2 266.8C385.3 264.7 385.3 262.6 385.2 260.5C385 258.4 384.7 256.3 384.3 254.3C383.8 252.2 383.3 250.2 382.6 248.2C382 246.2 381.2 244.2 380.2 242.4C379.3 240.5 378.1 238.7 377 236.9C375.9 235.2 374.1 232.5 373.6 231.6"/>
<path class="c" d="M328.7 328.6C329.7 328.2 332.7 326.9 334.7 325.9C336.7 325 338.7 324.1 340.6 323.1C342.6 322.2 344.5 321.1 346.4 320.1C348.3 319.1 350.3 318 352.2 316.9C354 315.9 355.9 314.8 357.8 313.6C359.7 312.5 361.5 311.4 363.4 310.2C365.2 309.1 367.1 307.9 368.9 306.7C370.7 305.5 372.6 304.3 374.3 302.9C375.9 301.5 377.6 300 378.9 298.3C380.2 296.6 381.1 294.6 382.2 292.7C383.4 290.8 384.6 289 385.6 287.1C386.7 285.2 387.8 283.3 388.6 281.3C389.5 279.3 390.2 277.2 390.8 275.1C391.4 273 391.9 270.8 392.2 268.7C392.5 266.5 392.7 264.3 392.7 262.2C392.7 260 392.5 257.8 392.2 255.6C391.9 253.5 391.4 251.3 390.9 249.2C390.3 247.1 389.6 245 388.8 243C387.9 241 386.7 239.2 385.6 237.3C384.6 235.4 382.8 232.6 382.3 231.7"/>
<path class="c" d="M328.7 328.6C329.7 328.2 332.8 327.1 334.8 326.3C336.8 325.5 338.8 324.8 340.8 323.9C342.8 323 344.8 322.1 346.7 321.1C348.6 320.1 350.6 319.1 352.5 318.1C354.4 317.1 356.2 316 358.1 314.8C359.9 313.7 361.8 312.6 363.6 311.4C365.4 310.2 367.2 309 369 307.7C370.7 306.5 372.5 305.2 374.2 303.9C375.9 302.5 377.6 301.2 379.3 299.8C380.9 298.4 382.5 296.9 384.1 295.4C385.7 293.9 387.2 292.4 388.7 290.8C390.2 289.2 391.6 287.6 393.1 286C394.5 284.4 396 282.8 397.3 281.1C398.6 279.4 400 277.7 401 275.8C402 273.9 402.6 271.7 403.2 269.7C403.8 267.6 404.3 265.4 404.6 263.3C404.9 261.2 405.2 259 405.2 256.8C405.2 254.7 405.1 252.5 404.7 250.4C404.4 248.2 403.8 246.1 403.2 244C402.6 242 401.8 239.9 401.1 237.9C400.3 235.9 399 232.9 398.6 231.9"/>
<path class="c" d="M328.7 328.6C329.9 328.3 333.3 327.4 335.6 326.8C337.9 326.1 340.2 325.5 342.5 324.8C344.8 324.1 347 323.4 349.3 322.5C351.5 321.7 353.7 320.8 355.9 319.8C358.1 318.9 360.2 317.9 362.4 316.8C364.5 315.8 366.6 314.7 368.7 313.6C370.8 312.5 372.9 311.3 375 310.1C377 308.9 379 307.6 381 306.2C382.9 304.8 384.8 303.4 386.6 301.8C388.4 300.2 390 298.4 391.7 296.8C393.4 295.1 395 293.4 396.8 291.8C398.6 290.2 400.5 288.8 402.3 287.2C404.1 285.7 406 284.3 407.8 282.7C409.6 281.1 411.3 279.4 413 277.7C414.7 276 416.4 274.4 417.9 272.5C419.3 270.7 420.6 268.6 421.7 266.5C422.8 264.5 423.6 262.2 424.6 260C425.5 257.8 426.4 255.6 427.2 253.3C428 251.1 428.9 248.9 429.4 246.5C429.8 244.2 429.9 241.8 429.8 239.4C429.8 237.1 429.3 233.5 429.2 232.3"/>
<path class="c" d="M328.7 328.6C329.7 328.2 332.8 326.9 334.8 326C336.8 325.1 338.9 324.2 340.8 323.3C342.8 322.4 344.8 321.4 346.8 320.3C348.7 319.3 350.6 318.2 352.5 317.1C354.5 316 356.4 315 358.3 313.8C360.2 312.7 362.1 311.5 363.9 310.3C365.7 309.1 367.6 307.8 369.4 306.5C371.2 305.2 373 304 374.7 302.6C376.4 301.1 377.9 299.6 379.4 297.9C380.9 296.3 382.2 294.5 383.6 292.8C384.9 291 386.1 289.2 387.4 287.4C388.7 285.6 390 283.8 391.1 281.9C392.2 280 393.1 277.9 394 275.9C394.8 273.9 395.8 271.8 396.3 269.7C396.8 267.6 397 265.4 397.2 263.2C397.4 261 397.4 258.8 397.3 256.6C397.2 254.4 396.9 252.2 396.4 250C396 247.9 395.3 245.7 394.6 243.7C393.9 241.6 393 239.5 392.1 237.5C391.2 235.5 389.6 232.6 389 231.7"/>
<path class="c" d="M328.7 328.6C332.2 327.8 342.8 326 350 323.5C357.2 321 364.3 317.4 372 313.5C379.7 309.6 389.5 303.2 396 299.8C402.5 296.4 406 295 411 293C416 291 421 289.2 426 287.8C431 286.4 436 285.4 441 284.6C446 283.8 451.5 283.2 456 282.9C460.5 282.6 462.8 282.2 468 282.9C473.2 283.6 480.7 285.2 487 287C493.3 288.8 498.9 290.7 505.6 293.6C512.4 296.5 520.9 300.9 527.5 304.5C534.1 308.1 539.6 311.5 545 315.5C550.4 319.5 557.2 326.3 559.6 328.5"/>
<path class="c" d="M328.7 328.6C332.6 327.8 344.4 326.2 352 324C359.6 321.8 366.7 318.7 374 315.5C381.3 312.3 389.8 307.1 396 305C402.2 302.9 406 303.3 411 302.8C416 302.3 421 301.9 426 302C431 302.1 435 302.5 441 303.5C447 304.5 454.8 305.8 461.9 307.8C469 309.8 477.5 312.8 483.7 315.5C489.9 318.2 495.7 322 499 324.2C502.3 326.4 500.9 326 503.5 328.6C506.1 331.2 510.9 334.5 514.5 339.8C518.1 345.1 522.9 355.1 524.9 360.5C526.9 365.9 526.9 367.5 526.4 372.4C525.9 377.3 524.4 384.1 521.9 390C519.4 395.9 514.8 403.7 511.6 408C508.4 412.3 504.2 414.7 502.7 416"/>
<path class="c" d="M328.7 328.6C332.9 327.9 346.1 326.3 354 324.5C361.9 322.7 369 320.1 376 318C383 315.9 390.2 313 396 311.8C401.8 310.6 406 310.9 411 311C416 311.1 421 311.3 426 312.3C431 313.3 436.5 315.2 441 316.8C445.5 318.4 449 320 453 322C457 324 460.2 324.7 465 328.6C469.8 332.6 476.2 340.1 482 345.7C487.8 351.3 495.5 357.7 499.7 362C503.9 366.3 507 368.3 507 371.3C507 374.3 501.9 377.4 499.7 379.8C497.5 382.2 497.2 382.5 493.8 385.7C490.4 388.9 484.7 393.9 479 399C473.3 404.1 462.9 413.2 459.7 416"/>
<path class="c" d="M328.7 328.6C333.2 328 347.8 326.4 356 325C364.2 323.6 371.3 321.8 378 320.5C384.7 319.2 390.5 317.4 396 317C401.5 316.6 406.5 317 411 317.8C415.5 318.6 419.1 319.8 423 321.6C426.9 323.4 431.3 324.6 434.7 328.6C438.1 332.6 440 340.4 443.4 345.7C446.8 351 451.8 356.2 455.3 360.5C458.9 364.8 465.2 367.4 464.7 371.3C464.2 375.2 456.4 379.1 452.3 384.2C448.2 389.3 443.8 396.7 440.4 402C436.9 407.3 433.1 413.7 431.6 416"/>
<path class="c" d="M328.7 328.6C333.6 328.1 349.4 326.7 358 325.8C366.6 324.9 373.7 323.7 380 323C386.3 322.3 391.8 321.5 396 321.6C400.2 321.7 402.3 322.6 405 323.8C407.7 325 409.7 325 412.4 328.6C415.1 332.2 419.2 339.9 421.2 345.7C423.1 351.5 423.9 359.2 424.1 363.5C424.4 367.8 423.1 368.4 422.7 371.3C422.3 374.2 423 376.4 422 381C421 385.6 418.6 393.2 416.7 399C414.8 404.8 411.8 413.2 410.8 416"/>
<path class="c" d="M328.7 328.6C333.9 328.2 351.1 327.1 360 326.5C368.9 325.9 376.7 325.4 382 325.3C387.3 325.2 389.2 325.4 392 326C394.8 326.6 397.1 324.3 399 328.6C400.9 332.9 402.9 344.5 403.4 351.6C403.9 358.7 401.6 366.4 401.9 371.3C402.1 376.2 404.9 376.4 404.9 381C404.9 385.6 403.4 394 401.9 399C400.4 404 397.6 408.1 396 410.9C394.4 413.7 392.7 415.1 392 416"/>
<path class="c" d="M328.7 328.6C333.1 328.4 347.1 327.6 355 327.3C362.9 327 370.8 326.4 376 326.6C381.2 326.8 383.8 327.5 386 328.6C388.2 329.7 387.9 329.3 389.5 333C391.1 336.7 395.2 345.3 395.3 350.9C395.4 356.5 390.7 361.7 390.2 366.5C389.7 371.3 392.5 373.9 392.4 379.7C392.3 385.5 390.9 395.3 389.5 401.4C388.1 407.4 384.7 413.6 383.7 416"/>
<path class="c" d="M328.7 328.6C332.2 328.4 343.8 327.8 350 327.6C356.2 327.4 362.2 327.2 366 327.4C369.8 327.6 371 327.2 373 328.6C375 330 376.2 332.1 378 336C379.8 339.9 383.2 347 384 352C384.8 357 383.4 362.7 383 366C382.6 369.3 381.5 368.8 381.5 372C381.5 375.2 383.4 380 383 385C382.6 390 380.6 396.8 379 402C377.4 407.2 374.4 413.7 373.5 416"/>
<path class="c" d="M328.7 328.6C329.2 328.9 331.1 329.6 331.6 330.6C332.1 331.6 331.8 333.1 331.6 334.4C331.4 335.6 330.8 336.8 330.3 338C329.7 339.1 328.6 340.7 328.3 341.2"/>
<path class="c" d="M328.7 328.6C329.4 328.9 332.1 329.3 333.1 330.3C334.1 331.3 334.6 333.2 334.8 334.8C335 336.3 334.6 338 334.2 339.6C333.9 341.2 333.3 342.7 332.7 344.2C332.1 345.7 331.3 347.2 330.5 348.6C329.7 350 328.4 352 327.9 352.7"/>
<path class="c" d="M328.7 328.6C329.6 328.8 332.4 329 333.8 329.9C335.2 330.9 336.2 332.6 336.9 334.2C337.5 335.8 337.7 337.7 337.7 339.5C337.7 341.3 337.3 343.1 336.9 344.8C336.5 346.6 335.9 348.3 335.2 350C334.6 351.6 333.9 353.3 333.1 354.9C332.3 356.5 331.4 358.1 330.5 359.6C329.6 361.2 328.1 363.4 327.6 364.1"/>
<path class="c" d="M328.7 328.6C329.6 328.8 332.6 328.8 334.2 329.6C335.8 330.4 337.3 331.9 338.3 333.4C339.3 334.9 339.9 336.9 340.2 338.7C340.6 340.5 340.5 342.5 340.3 344.3C340.2 346.2 339.9 348.1 339.4 349.9C339 351.7 338.4 353.5 337.7 355.3C337.1 357.1 336.5 358.8 335.7 360.6C334.9 362.3 334 363.9 333.1 365.6C332.2 367.2 331.3 368.9 330.3 370.5C329.4 372.1 327.7 374.4 327.2 375.2"/>
<path class="c" d="M328.7 328.6C329.7 328.7 332.7 328.7 334.5 329.4C336.2 330 338 331.3 339.3 332.7C340.5 334.1 341.4 336 342.1 337.8C342.7 339.6 343.2 341.6 343.4 343.5C343.5 345.4 343.3 347.4 343.1 349.4C342.9 351.3 342.5 353.2 342.1 355.1C341.6 357 340.9 358.9 340.3 360.7C339.7 362.6 339.1 364.4 338.3 366.2C337.6 368.1 336.8 369.8 335.9 371.6C335 373.3 334.1 375 333.1 376.7C332.1 378.4 331.2 380.1 330.1 381.8C329.1 383.4 327.4 385.9 326.9 386.7"/>
<path class="c" d="M328.7 328.6C329.7 328.7 332.8 328.6 334.7 329.2C336.5 329.8 338.4 330.8 339.9 332.1C341.4 333.4 342.6 335.1 343.5 336.8C344.5 338.6 345.2 340.5 345.6 342.5C346.1 344.4 346.3 346.5 346.3 348.4C346.3 350.4 346.1 352.5 345.8 354.4C345.5 356.4 345.2 358.4 344.7 360.4C344.2 362.3 343.6 364.2 342.9 366.1C342.3 368 341.7 369.9 341 371.8C340.2 373.7 339.5 375.5 338.7 377.4C337.8 379.2 336.8 380.9 335.9 382.7C335 384.5 334 386.2 333 388C332 389.7 330.9 391.4 329.9 393.1C328.8 394.8 327.1 397.3 326.5 398.1"/>
<path class="c" d="M328.7 328.6C329.7 328.7 332.9 328.5 334.9 329C336.9 329.6 338.8 330.5 340.5 331.7C342.2 332.9 343.7 334.4 344.9 336C346.1 337.7 346.9 339.7 347.6 341.6C348.3 343.6 348.9 345.6 349.2 347.6C349.5 349.7 349.5 351.8 349.4 353.8C349.3 355.9 349.1 358 348.8 360C348.5 362.1 348.1 364.1 347.6 366.1C347.1 368.1 346.4 370.1 345.8 372.1C345.2 374.1 344.5 376 343.8 378C343.1 379.9 342.4 381.9 341.5 383.8C340.7 385.7 339.8 387.6 338.9 389.4C337.9 391.3 336.9 393.1 335.9 394.9C334.9 396.7 333.9 398.5 332.9 400.3C331.8 402.1 330.7 403.9 329.6 405.6C328.5 407.3 326.7 409.9 326.1 410.8"/>
<path class="c" d="M328.7 328.6C329.8 328.7 333 328.5 335 328.9C337 329.4 339.1 330.2 340.9 331.2C342.7 332.3 344.4 333.6 345.8 335.1C347.2 336.7 348.3 338.5 349.3 340.4C350.2 342.3 350.9 344.3 351.5 346.3C352.1 348.3 352.5 350.4 352.7 352.5C352.9 354.6 352.8 356.7 352.6 358.8C352.5 361 352.3 363.1 351.9 365.1C351.6 367.2 351.3 369.3 350.8 371.4C350.3 373.4 349.7 375.4 349 377.4C348.4 379.5 347.7 381.4 347 383.4C346.3 385.4 345.6 387.4 344.9 389.4C344.1 391.4 343.3 393.3 342.4 395.2C341.5 397.1 340.5 399 339.5 400.9C338.6 402.7 337.5 404.6 336.5 406.4C335.5 408.3 334.5 410.1 333.4 411.9C332.3 413.7 330.6 416.4 330.1 417.3"/>
<path class="c" d="M328.7 328.6C329.8 328.6 333 328.5 335 328.9C337.1 329.2 339.2 329.9 341.1 330.7C342.9 331.6 344.8 332.8 346.4 334.2C347.9 335.6 349.4 337.2 350.6 338.9C351.7 340.6 352.6 342.6 353.4 344.6C354.2 346.5 354.9 348.6 355.4 350.6C355.9 352.7 356.2 354.8 356.3 356.9C356.5 359 356.4 361.1 356.2 363.2C356.1 365.3 355.9 367.4 355.6 369.5C355.3 371.6 355 373.7 354.5 375.8C354.1 377.8 353.5 379.9 352.9 381.9C352.4 383.9 351.7 385.9 351 388C350.3 390 349.7 392 349 394C348.2 395.9 347.5 397.9 346.7 399.9C345.9 401.9 345.1 403.8 344.2 405.7C343.3 407.6 342.3 409.5 341.3 411.4C340.3 413.2 338.8 416 338.3 416.9"/>
<path class="c" d="M328.7 328.6C329.8 328.6 333 328.6 335.1 328.8C337.2 329.1 339.3 329.5 341.3 330.3C343.3 331.1 345.2 332.2 346.9 333.4C348.6 334.7 350.3 336 351.7 337.6C353.1 339.2 354.3 341.1 355.3 342.9C356.3 344.8 357 346.8 357.8 348.8C358.5 350.8 359.2 352.9 359.7 355C360.1 357 360.4 359.2 360.5 361.3C360.7 363.4 360.6 365.6 360.5 367.7C360.3 369.8 360.1 372 359.9 374.1C359.6 376.2 359.3 378.3 358.9 380.4C358.5 382.5 358.1 384.6 357.5 386.7C357 388.8 356.4 390.8 355.7 392.8C355.1 394.9 354.4 396.9 353.7 398.9C353 401 352.4 403 351.6 405C350.9 407 350.1 409 349.3 411C348.5 413 347.2 415.9 346.8 416.9"/>
<path class="c" d="M328.7 328.6C329.8 328.6 333 328.6 335.1 328.6C337.3 328.7 339.4 328.6 341.5 328.7C343.7 328.7 345.8 328.8 348 328.9C350.1 329 352.3 329.2 354.4 329.5C356.5 329.9 358.6 330.4 360.6 331.1C362.6 331.8 364.6 332.8 366.3 334C368 335.2 369.7 336.7 371 338.3C372.4 339.9 373.5 341.8 374.6 343.6C375.6 345.5 376.5 347.4 377.4 349.4C378.2 351.4 378.9 353.4 379.5 355.5C380.1 357.5 380.4 359.6 380.9 361.7C381.3 363.8 381.8 365.9 382.2 368C382.5 370.1 382.9 372.3 383 374.4C383.1 376.5 382.9 378.7 382.8 380.8C382.6 382.9 382.4 385.1 382.1 387.2C381.8 389.3 381.6 391.4 381.2 393.5C380.9 395.7 380.5 397.8 380.1 399.9C379.7 402 379.2 404.1 378.7 406.1C378.1 408.2 377.4 410.2 376.7 412.2C375.9 414.2 374.6 417.2 374.2 418.1"/>
<path class="c" d="M328.7 328.6C329.8 328.7 333.1 328.9 335.2 329.2C337.4 329.5 339.6 329.6 341.6 330.4C343.6 331.1 345.5 332.4 347.3 333.6C349.1 334.8 351 335.9 352.6 337.4C354.1 338.9 355.2 340.8 356.4 342.6C357.6 344.5 358.7 346.3 359.6 348.3C360.5 350.3 361.2 352.4 361.8 354.5C362.3 356.6 362.7 358.8 362.9 360.9C363.1 363.1 362.9 365.3 362.9 367.5C362.9 369.6 362.9 371.8 362.8 374C362.7 376.2 362.4 378.3 362 380.5C361.7 382.6 361.2 384.7 360.7 386.9C360.3 389 359.9 391.2 359.4 393.3C358.9 395.4 358.3 397.5 357.6 399.6C357 401.7 356.3 403.7 355.6 405.8C354.9 407.9 354.1 409.9 353.3 411.9C352.5 413.9 351.1 416.9 350.7 417.9"/>
<path class="c" d="M328.7 328.6C329.7 328.7 332.9 328.9 335 329.1C337.1 329.4 339.2 329.4 341.2 330C343.2 330.6 345.1 331.6 347 332.5C348.9 333.4 350.9 334.2 352.6 335.4C354.2 336.6 355.6 338.3 357 339.9C358.4 341.5 359.7 343.1 360.8 344.9C361.9 346.7 363 348.5 363.8 350.5C364.5 352.4 364.9 354.5 365.3 356.6C365.7 358.6 365.9 360.8 366.1 362.8C366.3 364.9 366.6 367 366.7 369.1C366.7 371.2 366.5 373.3 366.4 375.4C366.2 377.5 366 379.6 365.7 381.7C365.5 383.8 365.3 385.9 365 388C364.6 390 364.2 392.1 363.7 394.1C363.3 396.2 362.7 398.2 362.1 400.2C361.5 402.3 360.9 404.3 360.2 406.3C359.5 408.3 358.8 410.2 358.1 412.2C357.3 414.2 356.1 417.1 355.8 418.1"/>
<path class="c" d="M328.7 328.6C329.8 328.7 333 328.8 335.2 329C337.4 329.2 339.5 329.4 341.6 329.8C343.8 330.2 345.9 330.9 347.9 331.5C350 332.2 352.1 332.8 354 333.8C355.8 334.9 357.4 336.5 359 337.9C360.7 339.3 362.4 340.7 363.7 342.4C365.1 344.1 366.3 345.9 367.1 347.9C368 349.8 368.4 352 369.1 354.1C369.7 356.2 370.5 358.2 370.9 360.3C371.3 362.5 371.4 364.6 371.5 366.8C371.6 369 371.7 371.1 371.7 373.3C371.7 375.5 371.8 377.7 371.7 379.8C371.7 382 371.5 384.2 371.2 386.3C371 388.5 370.5 390.6 370.1 392.7C369.6 394.8 369.1 396.9 368.6 399C368 401.1 367.5 403.2 366.9 405.3C366.3 407.4 365.6 409.5 364.9 411.5C364.2 413.6 363.1 416.6 362.7 417.7"/>
<g transform="translate(424.6,260.8) rotate(-66)"><rect x="-8.2" y="-2.6" width="16.3" height="5.2" fill="#fff"/><text class="cl" text-anchor="middle" y="1.6">7.2757</text></g>
<g transform="translate(480.5,285.2) rotate(9)"><rect x="-9.4" y="-2.6" width="18.8" height="5.2" fill="#fff"/><text class="cl" text-anchor="middle" y="1.6">11.5815</text></g>
<g transform="translate(383,391.3) rotate(-86)"><rect x="-10.6" y="-2.6" width="21.2" height="5.2" fill="#fff"/><text class="cl" text-anchor="middle" y="1.6">-184.828</text></g>
<g transform="translate(421.5,388.7) rotate(-80)"><rect x="-9.4" y="-2.6" width="18.8" height="5.2" fill="#fff"/><text class="cl" text-anchor="middle" y="1.6">97.5581</text></g>
<g transform="translate(495.5,385.5) rotate(-42)"><rect x="-9.4" y="-2.6" width="18.8" height="5.2" fill="#fff"/><text class="cl" text-anchor="middle" y="1.6">-55.311</text></g>
</g>
<rect class="fr" x="328.7" y="234.4" width="230.9" height="180.8"/>
<line class="fr" x1="328.7" y1="328.6" x2="559.6" y2="328.6" style="stroke-width:1.25"/>
<rect x="382.3" y="369" width="115.9" height="5.2" fill="#000"/>
<text class="tk" text-anchor="middle" x="315.4" y="238">-200</text>
<text class="tk" text-anchor="middle" x="316.4" y="331.4">0</text>
<text class="tk" text-anchor="middle" x="316.7" y="416">200</text>
<text class="tk" text-anchor="middle" x="326.4" y="427.2">-200</text>
<text class="tk" text-anchor="middle" x="436.2" y="427.2">0</text>
<line class="fr" x1="436.2" y1="415.2" x2="436.2" y2="413.2" style="stroke-width:1"/>
<line class="fr" x1="436.2" y1="234.4" x2="436.2" y2="236.4" style="stroke-width:1"/>
<text class="tk" text-anchor="middle" x="558.2" y="427.2">200</text>
<text class="ax" x="392.3" y="446.2" textLength="103.6" lengthAdjust="spacingAndGlyphs">Distance along line [m]</text>
<text class="ax" transform="translate(296.5,385.2) rotate(-90)" textLength="112.3" lengthAdjust="spacingAndGlyphs">Depth below seafloor [m]</text>
<text class="ti" x="345.2" y="255.3">0.0316s</text>
</g>
<g>
<clipPath id="cp4"><rect x="41.2" y="464.8" width="232.5" height="182.2"/></clipPath>
<g clip-path="url(#cp4)">
<path class="c" d="M41.3 559C42.9 558.9 47.6 558.8 50.8 558.7C53.9 558.5 57.1 558.4 60.2 558.2C63.4 558.1 66.6 557.9 69.7 557.7C72.9 557.5 76 557.3 79.2 557.2C82.3 557 85.5 556.8 88.6 556.6C91.8 556.4 94.9 556.2 98.1 555.9C101.2 555.7 104.4 555.5 107.6 555.3C110.7 555 113.9 554.8 117 554.6C120.2 554.3 123.3 554.1 126.5 553.9C129.6 553.6 132.8 553.4 135.9 553.1C139.1 552.9 142.2 552.6 145.4 552.3C148.5 552.1 151.7 551.8 154.8 551.5C157.9 551.2 161.1 551 164.2 550.7C167.4 550.4 170.5 550.1 173.7 549.8C176.8 549.5 180 549.2 183.1 548.9C186.3 548.6 189.4 548.3 192.6 548C195.7 547.7 198.8 547.4 202 547.1C205.1 546.8 208.3 546.5 211.4 546.1C214.6 545.8 217.7 545.5 220.9 545.2C224 544.8 227.1 544.5 230.3 544.1C233.4 543.8 236.6 543.5 239.7 543.1C242.8 542.8 246 542.4 249.1 542.1C252.3 541.7 255.4 541.3 258.5 541C261.7 540.6 264.8 540.3 268 539.9C271.1 539.5 275.8 538.9 277.4 538.8"/>
<path class="c" d="M41.3 559C42.9 558.9 47.8 558.7 51 558.5C54.2 558.3 57.4 558.1 60.6 557.8C63.9 557.6 67.1 557.3 70.3 557C73.5 556.7 76.7 556.3 79.9 556C83.2 555.7 86.4 555.3 89.6 554.9C92.8 554.5 96 554.1 99.2 553.7C102.4 553.3 105.6 552.9 108.8 552.4C112 552 115.2 551.5 118.4 551C121.6 550.5 124.8 550 128 549.5C131.1 549 134.3 548.4 137.5 547.8C140.7 547.3 143.9 546.7 147 546.1C150.2 545.5 153.4 544.9 156.6 544.2C159.7 543.6 162.9 543 166.1 542.3C169.2 541.6 172.4 540.9 175.5 540.2C178.7 539.5 181.8 538.8 185 538C188.1 537.3 191.2 536.5 194.4 535.7C197.5 534.9 200.6 534.1 203.8 533.3C206.9 532.5 210 531.6 213.1 530.8C216.2 529.9 219.3 529 222.4 528.1C225.5 527.2 228.6 526.3 231.7 525.3C234.8 524.4 237.9 523.4 241 522.5C244.1 521.5 247.1 520.5 250.2 519.5C253.3 518.4 256.3 517.4 259.4 516.3C262.4 515.3 265.5 514.2 268.5 513.1C271.5 512 276.1 510.3 277.6 509.7"/>
<path class="c" d="M41.3 559C43 558.9 48.1 558.6 51.5 558.4C54.9 558.1 58.3 557.8 61.7 557.4C65.1 557.1 68.5 556.7 71.8 556.2C75.2 555.8 78.6 555.3 82 554.8C85.3 554.3 88.7 553.8 92.1 553.2C95.4 552.6 98.8 552 102.1 551.3C105.5 550.7 108.8 550 112.1 549.2C115.5 548.5 118.8 547.7 122.1 546.9C125.4 546.1 128.7 545.2 132 544.3C135.3 543.4 138.6 542.5 141.8 541.5C145.1 540.6 148.3 539.5 151.6 538.5C154.8 537.4 158.1 536.3 161.3 535.2C164.5 534.1 167.7 532.9 170.9 531.7C174 530.5 177.2 529.2 180.4 527.9C183.5 526.6 186.7 525.3 189.8 523.9C192.9 522.5 196 521.1 199.1 519.7C202.2 518.2 205.2 516.7 208.3 515.2C211.3 513.7 214.4 512.1 217.4 510.5C220.4 508.9 223.4 507.3 226.3 505.6C229.3 503.9 232.3 502.2 235.2 500.5C238.1 498.7 241 496.9 243.9 495.1C246.8 493.3 249.7 491.5 252.5 489.6C255.4 487.7 258.2 485.8 261 483.9C263.8 481.9 266.6 480 269.3 478C272.1 476 276.2 472.9 277.6 471.9"/>
<path class="c" d="M41.3 559C42.8 558.9 47.4 558.6 50.5 558.4C53.5 558.1 56.6 557.8 59.6 557.4C62.7 557 65.7 556.6 68.8 556.2C71.8 555.7 74.8 555.2 77.9 554.6C80.9 554.1 83.9 553.5 86.9 552.8C89.9 552.2 92.9 551.5 95.9 550.7C98.8 550 101.8 549.2 104.8 548.4C107.7 547.5 110.7 546.6 113.6 545.7C116.5 544.8 119.4 543.8 122.3 542.7C125.2 541.7 128.1 540.6 130.9 539.5C133.8 538.3 136.6 537.2 139.4 535.9C142.2 534.7 145 533.4 147.8 532.1C150.6 530.8 153.3 529.4 156 528C158.8 526.6 161.5 525.1 164.1 523.6C166.8 522.1 169.5 520.6 172.1 519C174.7 517.4 177.3 515.7 179.9 514.1C182.5 512.4 185 510.7 187.5 509C190.1 507.2 192.6 505.4 195 503.6C197.5 501.8 200 499.9 202.4 498C204.8 496.2 207.2 494.2 209.6 492.3C211.9 490.3 214.3 488.3 216.6 486.3C218.9 484.3 221.2 482.3 223.5 480.2C225.7 478.1 228 476 230.2 473.9C232.4 471.8 234.6 469.6 236.8 467.5C238.9 465.3 242.1 462 243.2 460.9"/>
<path class="c" d="M41.3 559C42.7 558.9 46.8 558.7 49.6 558.4C52.3 558.2 55 557.8 57.8 557.5C60.5 557.1 63.2 556.7 66 556.2C68.7 555.8 71.4 555.3 74.1 554.7C76.8 554.2 79.5 553.6 82.2 552.9C84.9 552.3 87.5 551.5 90.2 550.8C92.8 550 95.5 549.2 98.1 548.4C100.7 547.5 103.3 546.6 105.9 545.6C108.5 544.7 111.1 543.6 113.6 542.6C116.1 541.5 118.7 540.4 121.2 539.2C123.7 538.1 126.2 536.8 128.6 535.6C131.1 534.3 133.5 533 135.9 531.7C138.3 530.3 140.7 528.9 143 527.4C145.4 526 147.7 524.5 150 523C152.3 521.5 154.6 519.9 156.8 518.3C159 516.7 161.3 515 163.5 513.3C165.6 511.7 167.8 509.9 169.9 508.2C172.1 506.5 174.2 504.7 176.3 502.9C178.3 501 180.4 499.2 182.4 497.3C184.4 495.4 186.4 493.5 188.4 491.6C190.4 489.7 192.3 487.7 194.2 485.7C196.2 483.8 198.1 481.8 199.9 479.7C201.8 477.7 203.6 475.6 205.5 473.6C207.3 471.5 209.1 469.4 210.8 467.3C212.6 465.2 215.2 461.9 216.1 460.9"/>
<path class="c" d="M41.3 559C42.6 558.9 46.3 558.7 48.9 558.4C51.4 558.2 53.9 557.9 56.4 557.5C58.9 557.2 61.4 556.8 63.9 556.3C66.4 555.8 68.8 555.3 71.3 554.8C73.8 554.2 76.2 553.6 78.7 552.9C81.1 552.2 83.5 551.5 85.9 550.7C88.3 550 90.7 549.1 93.1 548.3C95.4 547.4 97.8 546.4 100.1 545.4C102.4 544.4 104.7 543.4 107 542.3C109.3 541.2 111.6 540.1 113.8 538.9C116 537.7 118.2 536.4 120.4 535.1C122.6 533.8 124.7 532.5 126.8 531.1C128.9 529.7 131 528.3 133.1 526.8C135.1 525.4 137.2 523.9 139.2 522.3C141.2 520.8 143.2 519.2 145.1 517.6C147 516 149 514.3 150.8 512.6C152.7 511 154.6 509.3 156.4 507.5C158.3 505.8 160.1 504 161.8 502.2C163.6 500.4 165.4 498.6 167.1 496.7C168.8 494.9 170.5 493 172.2 491.1C173.8 489.2 175.5 487.3 177.1 485.3C178.7 483.4 180.3 481.4 181.9 479.5C183.5 477.5 185 475.5 186.5 473.5C188 471.4 189.5 469.4 191 467.3C192.5 465.3 194.6 462.2 195.3 461.1"/>
<path class="c" d="M41.3 559C42.5 558.9 46 558.7 48.4 558.5C50.7 558.2 53 557.9 55.4 557.5C57.7 557.2 60 556.8 62.3 556.3C64.6 555.8 67 555.3 69.2 554.7C71.5 554.2 73.8 553.5 76.1 552.8C78.3 552.1 80.5 551.4 82.8 550.6C85 549.8 87.2 548.9 89.3 548C91.5 547.1 93.7 546.1 95.8 545.1C97.9 544 100 543 102.1 541.8C104.1 540.7 106.2 539.5 108.2 538.3C110.2 537 112.2 535.8 114.1 534.4C116.1 533.1 118 531.7 119.9 530.3C121.8 528.9 123.7 527.5 125.5 526C127.3 524.5 129.1 523 130.9 521.4C132.6 519.8 134.4 518.2 136.1 516.6C137.8 515 139.5 513.3 141.1 511.7C142.8 510 144.4 508.3 146 506.5C147.6 504.8 149.2 503 150.7 501.2C152.2 499.4 153.8 497.6 155.2 495.8C156.7 494 158.2 492.1 159.6 490.2C161.1 488.4 162.5 486.5 163.8 484.6C165.2 482.6 166.6 480.7 167.9 478.8C169.2 476.8 170.6 474.9 171.8 472.9C173.1 470.9 174.4 468.9 175.6 466.9C176.9 464.9 178.7 461.8 179.3 460.8"/>
<path class="c" d="M41.3 559C42.4 558.9 45.7 558.7 47.9 558.5C50.1 558.2 52.3 557.9 54.5 557.6C56.7 557.2 58.9 556.8 61 556.3C63.2 555.8 65.3 555.3 67.5 554.7C69.6 554.1 71.7 553.5 73.8 552.8C75.9 552 78 551.3 80.1 550.4C82.1 549.6 84.1 548.7 86.1 547.8C88.1 546.8 90.1 545.8 92.1 544.8C94 543.7 95.9 542.6 97.8 541.4C99.7 540.3 101.5 539 103.4 537.8C105.2 536.5 107 535.2 108.7 533.9C110.5 532.5 112.2 531.1 113.9 529.7C115.6 528.3 117.3 526.8 118.9 525.3C120.6 523.8 122.2 522.3 123.7 520.8C125.3 519.2 126.8 517.6 128.3 516C129.9 514.4 131.3 512.7 132.8 511C134.2 509.4 135.7 507.7 137.1 506C138.5 504.2 139.8 502.5 141.2 500.7C142.5 499 143.8 497.2 145.1 495.4C146.4 493.6 147.7 491.8 148.9 489.9C150.1 488.1 151.3 486.2 152.5 484.4C153.7 482.5 154.9 480.6 156 478.7C157.2 476.8 158.3 474.9 159.4 473C160.5 471 161.5 469.1 162.6 467.1C163.6 465.2 165.1 462.2 165.6 461.2"/>
<path class="c" d="M41.3 559C42.4 558.9 45.7 558.7 47.8 558.4C50 558.2 52.2 557.9 54.3 557.5C56.5 557.1 58.6 556.6 60.8 556.1C62.9 555.6 65 555 67.1 554.3C69.2 553.7 71.3 552.9 73.3 552.1C75.3 551.3 77.3 550.5 79.3 549.6C81.3 548.6 83.3 547.6 85.2 546.6C87.1 545.5 89 544.4 90.8 543.2C92.7 542.1 94.5 540.8 96.3 539.5C98.1 538.3 99.8 536.9 101.5 535.6C103.2 534.2 104.9 532.8 106.5 531.3C108.1 529.9 109.7 528.4 111.3 526.8C112.9 525.3 114.4 523.7 115.9 522.1C117.4 520.5 118.8 518.9 120.3 517.2C121.7 515.6 123.1 513.9 124.4 512.1C125.8 510.4 127.1 508.7 128.4 506.9C129.7 505.2 131 503.4 132.3 501.6C133.5 499.8 134.7 497.9 135.9 496.1C137.1 494.3 138.2 492.4 139.4 490.5C140.5 488.6 141.6 486.8 142.7 484.8C143.7 482.9 144.8 481 145.8 479.1C146.8 477.1 147.8 475.2 148.8 473.2C149.8 471.3 150.7 469.3 151.6 467.3C152.6 465.3 153.9 462.3 154.4 461.3"/>
<path class="c" d="M41.3 559C42.2 558.4 44.8 556.7 46.6 555.5C48.3 554.3 50.3 553.4 51.8 551.9C53.2 550.4 54.2 548.5 55.1 546.7C56.1 544.8 56.7 542.8 57.5 540.8C58.3 538.9 59.4 537 59.9 535C60.4 532.9 60.3 530.8 60.3 528.7C60.4 526.6 60.4 524.5 60.3 522.4C60.3 520.2 60.3 518.1 60 516C59.7 514 59 511.9 58.5 509.9C58 507.8 57.5 505.8 57 503.8C56.5 501.7 55.9 499.7 55.3 497.7C54.7 495.7 53.9 493.7 53.2 491.7C52.5 489.7 51.8 487.7 51.1 485.7C50.4 483.7 49.7 481.8 49 479.8C48.3 477.8 47.6 475.8 46.9 473.8C46.1 471.8 45.4 469.8 44.7 467.9C44 465.9 42.9 462.9 42.5 461.9"/>
<path class="c" d="M41.3 559C42.2 558.4 44.8 556.7 46.5 555.5C48.3 554.3 50.3 553.3 51.7 551.9C53.2 550.4 54.3 548.6 55.3 546.8C56.4 545 57.1 543 58 541C58.9 539.1 60.1 537.3 60.7 535.3C61.3 533.3 61.4 531.2 61.5 529.1C61.7 527 61.8 524.9 61.8 522.7C61.9 520.6 62 518.5 61.8 516.4C61.6 514.3 61 512.3 60.6 510.2C60.2 508.2 59.8 506.1 59.3 504C58.9 502 58.5 499.9 57.9 497.9C57.3 495.8 56.6 493.9 56 491.8C55.3 489.8 54.7 487.8 54 485.8C53.3 483.8 52.7 481.8 52 479.8C51.3 477.8 50.6 475.9 49.9 473.9C49.1 471.9 48.4 469.9 47.7 467.9C47 465.9 45.9 463 45.5 462"/>
<path class="c" d="M41.3 559C42.2 558.4 44.8 556.6 46.5 555.4C48.3 554.2 50.2 553.3 51.7 551.8C53.2 550.4 54.4 548.6 55.5 546.8C56.7 545.1 57.6 543.1 58.6 541.3C59.6 539.4 60.8 537.7 61.5 535.7C62.3 533.7 62.5 531.6 62.8 529.5C63.1 527.4 63.3 525.3 63.4 523.2C63.6 521.1 63.8 519 63.7 516.9C63.6 514.8 63.1 512.7 62.8 510.6C62.5 508.5 62.2 506.4 61.8 504.3C61.4 502.3 61.1 500.2 60.6 498.1C60.1 496.1 59.4 494.1 58.8 492C58.2 490 57.6 488 57 486C56.4 484 55.7 481.9 55.1 479.9C54.4 477.9 53.7 475.9 53 474C52.3 472 51.6 470 50.8 468C50.1 466 49 463 48.6 462.1"/>
<path class="c" d="M41.3 559C42.2 558.4 44.8 556.6 46.5 555.4C48.3 554.2 50.2 553.2 51.7 551.8C53.3 550.3 54.5 548.6 55.8 546.9C57 545.2 58 543.3 59.1 541.5C60.2 539.7 61.5 538 62.4 536C63.2 534.1 63.7 532 64.1 529.9C64.6 527.9 64.8 525.8 65 523.7C65.3 521.6 65.6 519.4 65.6 517.3C65.6 515.2 65.2 513.1 65 511C64.8 508.9 64.5 506.8 64.3 504.7C64 502.6 63.8 500.5 63.4 498.4C62.9 496.3 62.3 494.3 61.7 492.3C61.1 490.2 60.6 488.2 60 486.2C59.4 484.1 58.8 482.1 58.2 480.1C57.5 478 56.8 476.1 56.1 474.1C55.4 472.1 54.7 470.1 54 468.1C53.2 466.1 52.1 463.1 51.7 462.1"/>
<path class="c" d="M41.3 559C42.2 558.4 44.8 556.6 46.5 555.4C48.3 554.1 50.2 553.1 51.8 551.7C53.3 550.3 54.7 548.6 56 546.9C57.3 545.3 58.4 543.5 59.6 541.7C60.9 539.9 62.2 538.3 63.2 536.4C64.2 534.5 64.8 532.5 65.4 530.4C66 528.4 66.3 526.3 66.6 524.2C67 522.1 67.4 520 67.5 517.8C67.6 515.7 67.4 513.6 67.3 511.5C67.1 509.3 67 507.2 66.8 505.1C66.6 503 66.5 500.8 66.1 498.7C65.8 496.6 65.1 494.6 64.6 492.5C64.1 490.5 63.5 488.4 63 486.4C62.5 484.3 61.9 482.2 61.3 480.2C60.7 478.2 59.9 476.2 59.2 474.2C58.5 472.2 57.8 470.1 57.1 468.1C56.4 466.1 55.2 463.2 54.9 462.2"/>
<path class="c" d="M41.3 559C42.2 558.4 44.8 556.5 46.6 555.3C48.3 554.1 50.2 553 51.8 551.6C53.4 550.2 54.8 548.6 56.2 546.9C57.6 545.3 58.9 543.6 60.2 541.9C61.5 540.2 63 538.6 64.1 536.8C65.2 535 66.1 533 66.8 531C67.5 529 67.9 526.8 68.4 524.7C68.8 522.6 69.3 520.5 69.5 518.4C69.7 516.3 69.7 514.1 69.6 512C69.6 509.9 69.5 507.7 69.4 505.6C69.4 503.4 69.4 501.3 69.1 499.2C68.8 497 68.2 495 67.7 492.9C67.2 490.8 66.7 488.7 66.2 486.6C65.7 484.5 65.3 482.4 64.6 480.4C64 478.3 63.3 476.3 62.6 474.3C61.8 472.3 61.1 470.3 60.4 468.2C59.7 466.2 58.5 463.2 58.2 462.2"/>
<path class="c" d="M41.3 559C42.2 558.4 44.8 556.5 46.6 555.2C48.4 554 50.2 552.8 51.9 551.4C53.6 550 55 548.4 56.5 546.9C58.1 545.3 59.5 543.7 60.9 542C62.4 540.4 63.9 538.8 65.1 537.1C66.4 535.3 67.5 533.4 68.4 531.4C69.2 529.4 69.7 527.3 70.2 525.2C70.8 523.1 71.4 521 71.7 518.8C72.1 516.7 72.1 514.5 72.2 512.3C72.3 510.2 72.3 508 72.3 505.8C72.3 503.6 72.4 501.5 72.2 499.3C72 497.2 71.4 495.1 70.9 492.9C70.5 490.8 70.1 488.7 69.6 486.5C69.1 484.4 68.7 482.3 68.1 480.2C67.5 478.1 66.7 476.1 65.9 474.1C65.2 472 64.5 469.9 63.8 467.9C63 465.9 61.9 462.8 61.5 461.8"/>
<path class="c" d="M41.3 559C42.2 558.4 44.9 556.4 46.6 555.2C48.4 553.9 50.3 552.7 52 551.3C53.7 549.9 55.2 548.3 56.8 546.8C58.4 545.3 60 543.8 61.5 542.2C63.1 540.7 64.7 539.2 66 537.4C67.4 535.7 68.8 534 69.8 532C70.8 530.1 71.3 527.9 72 525.8C72.7 523.8 73.4 521.7 73.9 519.5C74.3 517.4 74.5 515.2 74.7 513C74.9 510.8 75 508.6 75.1 506.4C75.2 504.2 75.5 502 75.3 499.8C75.2 497.7 74.5 495.5 74.1 493.4C73.7 491.2 73.4 489 72.9 486.9C72.5 484.7 72.1 482.6 71.5 480.5C70.9 478.4 70.1 476.3 69.4 474.2C68.7 472.2 68 470.1 67.2 468C66.5 466 65.3 462.9 64.9 461.9"/>
<path class="c" d="M41.3 559C42.1 558.4 44.7 556.5 46.4 555.3C48.1 554.1 49.8 552.9 51.5 551.6C53.1 550.3 54.7 548.9 56.3 547.5C57.9 546.1 59.5 544.8 61.1 543.4C62.7 542 64.3 540.7 65.8 539.2C67.3 537.7 68.7 536.2 69.9 534.5C71.1 532.8 72.1 530.9 73 529C73.9 527.2 74.6 525.1 75.3 523.2C75.9 521.2 76.6 519.2 77 517.1C77.4 515.1 77.5 512.9 77.7 510.8C78 508.8 78.3 506.7 78.5 504.6C78.6 502.5 78.7 500.4 78.5 498.3C78.4 496.2 77.8 494.2 77.5 492.1C77.1 490 76.9 487.9 76.5 485.9C76.1 483.8 75.6 481.8 75.1 479.7C74.5 477.7 73.7 475.8 73 473.8C72.3 471.8 71.7 469.8 71 467.8C70.2 465.8 69.1 462.9 68.7 461.9"/>
<path class="c" d="M41.3 559C42.2 558.4 44.7 556.5 46.5 555.2C48.2 553.9 49.9 552.7 51.6 551.4C53.3 550.1 54.9 548.7 56.6 547.4C58.3 546.1 60.1 544.9 61.7 543.6C63.4 542.3 65.2 541 66.8 539.6C68.4 538.2 70 536.7 71.3 535.1C72.7 533.5 73.8 531.7 74.9 529.9C75.9 528 76.6 526 77.4 524C78.2 522 79.1 520.1 79.6 518C80.2 516 80.4 513.8 80.7 511.7C81.1 509.6 81.5 507.5 81.7 505.4C82 503.3 82.2 501.1 82.2 499C82.1 496.9 81.5 494.8 81.2 492.7C80.9 490.6 80.7 488.4 80.4 486.3C80 484.2 79.6 482.1 79.1 480.1C78.5 478 77.7 476.1 77 474C76.3 472 75.6 470 74.9 468C74.2 466 73 463 72.6 462"/>
<path class="c" d="M41.3 559C42.2 558.4 44.8 556.4 46.5 555.1C48.3 553.8 50 552.5 51.8 551.2C53.5 549.9 55.2 548.5 56.9 547.3C58.7 546 60.6 545 62.4 543.7C64.2 542.5 66 541.3 67.7 540C69.5 538.7 71.2 537.3 72.7 535.8C74.2 534.2 75.6 532.6 76.7 530.8C77.9 529 78.7 526.9 79.6 524.9C80.6 523 81.6 521 82.3 519C83 516.9 83.3 514.8 83.7 512.6C84.2 510.5 84.7 508.4 85.1 506.3C85.4 504.1 85.9 502 85.9 499.8C85.9 497.7 85.3 495.5 85.1 493.4C84.8 491.2 84.7 489 84.4 486.9C84 484.7 83.7 482.6 83.2 480.5C82.6 478.4 81.8 476.4 81.1 474.3C80.4 472.3 79.7 470.2 79 468.2C78.2 466.1 77 463.1 76.6 462.1"/>
<path class="c" d="M41.3 559C42.1 558.4 44.7 556.5 46.3 555.2C48 553.9 49.7 552.7 51.4 551.4C53 550.2 54.6 548.8 56.4 547.6C58.2 546.5 60.1 545.6 61.9 544.6C63.7 543.6 65.6 542.6 67.4 541.4C69.1 540.3 70.8 539 72.5 537.7C74.1 536.4 76.1 535.4 77.4 533.9C78.8 532.3 79.5 530.2 80.5 528.4C81.6 526.5 82.7 524.8 83.6 522.9C84.6 521 85.4 519.1 86 517.1C86.7 515.1 87 513 87.6 511C88.1 508.9 88.8 506.9 89.2 504.9C89.5 502.8 89.6 500.7 89.5 498.7C89.5 496.6 89.1 494.5 89 492.4C88.8 490.3 88.8 488.2 88.5 486.1C88.2 484 87.7 482 87.2 479.9C86.6 477.9 85.8 476 85.1 474C84.5 472 83.8 470 83.1 468C82.4 466 81.2 463.1 80.9 462.1"/>
<path class="c" d="M41.3 559C42.2 558.3 44.7 556.4 46.4 555.1C48.1 553.8 49.8 552.5 51.6 551.2C53.3 549.9 54.9 548.5 56.8 547.4C58.6 546.4 60.7 545.6 62.6 544.7C64.6 543.8 66.5 542.9 68.4 541.8C70.2 540.7 72 539.5 73.8 538.3C75.6 537.2 77.7 536.3 79.2 534.8C80.7 533.4 81.5 531.2 82.7 529.4C83.9 527.6 85.1 525.9 86.2 524C87.3 522.2 88.3 520.3 89.1 518.3C89.9 516.3 90.3 514.2 90.9 512.1C91.6 510 92.4 508 92.9 505.9C93.3 503.9 93.6 501.8 93.7 499.6C93.7 497.5 93.4 495.3 93.2 493.2C93.1 491.1 93.1 488.9 92.9 486.8C92.6 484.6 92.3 482.5 91.7 480.4C91.2 478.4 90.3 476.4 89.6 474.3C89 472.3 88.3 470.3 87.6 468.2C86.8 466.2 85.7 463.2 85.3 462.2"/>
<path class="c" d="M41.3 559C42.2 558.4 44.9 556.5 46.6 555.3C48.4 554 50.2 552.8 52 551.5C53.8 550.3 55.5 549 57.4 547.9C59.3 546.9 61.3 546.2 63.3 545.2C65.3 544.3 67.3 543.4 69.1 542.4C71 541.3 72.8 540.1 74.7 538.9C76.5 537.8 78.6 536.9 80.2 535.5C81.7 534 82.7 531.9 83.9 530.1C85.1 528.4 86.4 526.6 87.6 524.8C88.7 522.9 89.9 521.1 90.7 519.1C91.6 517.1 92.2 515 92.9 512.9C93.6 510.9 94.5 508.9 95.1 506.8C95.6 504.7 96.1 502.6 96.3 500.5C96.5 498.3 96.2 496.1 96.2 494C96.2 491.8 96.3 489.6 96.2 487.5C96 485.3 95.8 483.1 95.4 481C95 478.9 94.3 476.8 93.8 474.7C93.2 472.6 92.7 470.5 92.1 468.4C91.5 466.4 90.5 463.3 90.1 462.2"/>
<path class="c" d="M41.3 559C42.2 558.4 45 556.7 46.9 555.5C48.7 554.3 50.6 553.1 52.4 552C54.3 550.8 56.1 549.5 58 548.5C59.9 547.5 62 546.7 64 545.8C66 544.9 68 544 70 543C71.9 541.9 73.7 540.6 75.6 539.5C77.4 538.3 79.6 537.5 81.1 536C82.7 534.6 83.8 532.5 85.1 530.8C86.4 529 87.8 527.3 89 525.5C90.2 523.6 91.4 521.8 92.4 519.9C93.4 517.9 94 515.8 94.8 513.7C95.6 511.7 96.6 509.7 97.2 507.6C97.9 505.5 98.6 503.4 98.9 501.3C99.2 499.1 99.1 496.9 99.2 494.7C99.3 492.5 99.5 490.3 99.5 488.1C99.5 485.9 99.5 483.7 99.2 481.6C99 479.4 98.4 477.3 98 475.1C97.6 472.9 97.2 470.8 96.7 468.6C96.2 466.5 95.4 463.3 95.2 462.2"/>
<path class="c" d="M41.3 559C42.2 558.5 45 557 46.8 555.9C48.7 554.9 50.5 553.8 52.3 552.7C54.1 551.7 55.9 550.4 57.8 549.5C59.6 548.5 61.7 547.8 63.6 547C65.5 546.1 67.5 545.3 69.4 544.3C71.2 543.3 73 542.2 74.8 541.1C76.7 540.1 78.6 539.1 80.3 537.8C81.9 536.6 83.4 535.1 84.8 533.6C86.2 532 87.4 530.2 88.7 528.5C90 526.8 91.3 525.2 92.5 523.4C93.6 521.6 94.5 519.7 95.4 517.8C96.3 515.9 97.1 514 98 512C98.8 510.1 99.9 508.2 100.5 506.2C101.1 504.2 101.5 502.1 101.8 500C102.1 498 102.3 495.8 102.5 493.7C102.7 491.6 103.1 489.5 103.2 487.4C103.3 485.3 103.3 483.2 103.1 481.1C103 479 102.6 476.9 102.4 474.8C102.1 472.7 101.9 470.6 101.6 468.5C101.3 466.4 100.7 463.3 100.6 462.3"/>
<path class="c" d="M41.3 559C42.3 558.5 45.2 557.1 47.1 556.1C49 555.2 50.9 554.2 52.8 553.1C54.7 552.1 56.5 551 58.4 550C60.3 549.1 62.4 548.4 64.3 547.5C66.3 546.7 68.3 545.9 70.2 544.9C72.1 543.9 73.9 542.8 75.8 541.7C77.6 540.6 79.6 539.6 81.3 538.3C83 537.1 84.6 535.6 86 534.1C87.5 532.6 88.8 530.8 90.1 529.1C91.4 527.4 92.9 525.8 94 524C95.2 522.2 96.3 520.3 97.3 518.5C98.3 516.6 99.2 514.6 100.1 512.7C101 510.7 102.1 508.8 102.8 506.8C103.6 504.8 104.1 502.8 104.5 500.7C105 498.6 105.2 496.4 105.6 494.3C105.9 492.2 106.4 490.1 106.6 488C106.9 485.8 107 483.7 107 481.5C107 479.4 106.8 477.3 106.7 475.1C106.6 473 106.5 470.8 106.3 468.7C106.2 466.5 105.8 463.3 105.7 462.3"/>
<path class="c" d="M41.3 559C42.3 558.6 45.3 557.3 47.3 556.4C49.3 555.5 51.3 554.6 53.3 553.6C55.2 552.7 57.1 551.6 59.1 550.7C61.1 549.8 63.2 549.1 65.2 548.2C67.2 547.3 69.3 546.5 71.2 545.5C73.2 544.5 75 543.4 76.9 542.3C78.8 541.2 80.8 540.2 82.5 538.9C84.3 537.6 86 536.2 87.5 534.7C89 533.1 90.4 531.4 91.8 529.7C93.2 528 94.7 526.4 95.9 524.6C97.2 522.9 98.4 521 99.5 519.1C100.6 517.2 101.5 515.2 102.6 513.3C103.6 511.4 104.7 509.5 105.6 507.5C106.4 505.5 107.1 503.4 107.7 501.3C108.3 499.2 108.7 497 109.2 494.9C109.7 492.8 110.2 490.6 110.6 488.5C111 486.3 111.3 484.2 111.5 482C111.6 479.8 111.6 477.6 111.7 475.4C111.7 473.2 111.8 471 111.8 468.9C111.8 466.7 111.7 463.4 111.7 462.3"/>
<path class="c" d="M41.3 559C42.3 558.6 45.3 557.6 47.3 556.8C49.3 556.1 51.3 555.3 53.3 554.4C55.2 553.6 57.1 552.6 59.1 551.8C61.1 550.9 63.1 550.2 65.1 549.4C67.1 548.6 69.1 547.8 71 546.9C72.9 546 74.8 545 76.7 544C78.5 542.9 80.4 541.8 82.2 540.7C84 539.5 85.9 538.5 87.5 537.1C89.1 535.7 90.4 534 91.9 532.4C93.3 530.9 94.8 529.3 96.2 527.7C97.6 526.1 99 524.4 100.2 522.7C101.4 521 102.5 519.1 103.6 517.2C104.7 515.4 105.8 513.6 106.8 511.7C107.9 509.8 109 508 109.9 506.1C110.7 504.1 111.3 502.1 112 500C112.6 498 113.2 495.9 113.9 493.9C114.5 491.9 115.1 489.8 115.6 487.7C116.1 485.7 116.5 483.6 116.8 481.4C117.2 479.3 117.4 477.2 117.6 475.1C117.8 473 118.1 470.8 118.3 468.7C118.5 466.6 118.7 463.4 118.7 462.3"/>
<path class="c" d="M41.3 559C42.4 558.7 45.5 557.8 47.6 557.1C49.7 556.5 51.8 555.8 53.9 555C55.9 554.2 58 553.3 60 552.6C62.1 551.8 64.2 551.1 66.2 550.3C68.3 549.5 70.3 548.6 72.3 547.7C74.3 546.8 76.3 545.8 78.2 544.7C80.1 543.7 82 542.5 83.9 541.3C85.7 540.2 87.6 539 89.3 537.6C91 536.3 92.5 534.6 94.1 533C95.6 531.5 97.2 529.9 98.6 528.3C100.1 526.6 101.6 525 102.9 523.2C104.3 521.5 105.5 519.6 106.7 517.8C107.9 516 109.1 514.1 110.3 512.3C111.4 510.4 112.7 508.5 113.6 506.6C114.6 504.6 115.4 502.6 116.2 500.5C117.1 498.5 117.9 496.4 118.6 494.4C119.4 492.3 120.2 490.2 120.9 488.2C121.6 486.1 122.1 483.9 122.6 481.8C123.2 479.7 123.6 477.5 124 475.3C124.5 473.2 124.9 471 125.3 468.8C125.7 466.7 126.2 463.4 126.4 462.3"/>
<path class="c" d="M41.3 559C42.4 558.7 45.8 558.1 48 557.5C50.2 556.9 52.4 556.3 54.5 555.6C56.7 554.9 58.9 554.2 61 553.4C63.2 552.7 65.3 551.9 67.5 551.1C69.6 550.3 71.7 549.5 73.8 548.5C75.9 547.6 77.9 546.6 79.9 545.5C81.9 544.4 83.9 543.2 85.8 542C87.7 540.8 89.6 539.6 91.4 538.2C93.2 536.8 94.8 535.1 96.5 533.6C98.2 532 99.8 530.4 101.4 528.8C103 527.2 104.5 525.5 106 523.7C107.4 522 108.8 520.1 110.1 518.3C111.5 516.5 112.8 514.6 114.1 512.7C115.4 510.8 116.7 509 117.8 507C119 505 119.9 503 120.9 500.9C121.9 498.9 122.9 496.8 123.9 494.7C124.8 492.7 125.8 490.6 126.6 488.5C127.5 486.4 128.2 484.2 129 482.1C129.7 479.9 130.4 477.7 131 475.5C131.7 473.4 132.3 471.2 132.9 469C133.5 466.8 134.4 463.5 134.6 462.4"/>
<path class="c" d="M41.3 559C42.5 558.8 46 558.3 48.3 557.9C50.6 557.4 53 556.9 55.3 556.3C57.6 555.7 59.8 555 62.1 554.3C64.4 553.6 66.6 552.9 68.8 552.1C71.1 551.3 73.3 550.4 75.4 549.4C77.6 548.5 79.7 547.4 81.8 546.3C83.9 545.2 85.9 544 87.9 542.7C89.9 541.4 91.9 540.1 93.8 538.7C95.7 537.3 97.5 535.7 99.3 534.1C101 532.6 102.8 531 104.5 529.3C106.2 527.6 107.8 525.9 109.4 524.2C111 522.4 112.5 520.6 114 518.7C115.5 516.9 116.9 515 118.4 513.1C119.8 511.2 121.2 509.3 122.5 507.3C123.8 505.3 125 503.3 126.2 501.2C127.4 499.2 128.5 497.1 129.7 495C130.8 493 131.9 490.9 133 488.7C134 486.6 135 484.4 135.9 482.3C136.9 480.1 137.8 477.9 138.7 475.7C139.6 473.5 140.4 471.3 141.2 469.1C142.1 466.9 143.2 463.5 143.6 462.4"/>
<path class="c" d="M41.3 559C42.2 558.4 44.8 556.6 46.5 555.5C48.3 554.3 50.4 553.4 51.8 551.9C53.1 550.4 53.9 548.4 54.8 546.5C55.7 544.7 56.5 542.6 57.2 540.7C58 538.7 58.9 536.8 59.3 534.7C59.7 532.7 59.6 530.5 59.7 528.4C59.8 526.3 59.8 524.2 59.7 522.1C59.6 520 59.5 517.9 59.2 515.8C58.8 513.8 58.1 511.8 57.6 509.7C57.1 507.7 56.6 505.6 56.1 503.6C55.5 501.6 54.9 499.5 54.3 497.5C53.6 495.5 52.9 493.6 52.2 491.6C51.5 489.6 50.8 487.6 50.1 485.6C49.3 483.6 48.6 481.7 47.9 479.7C47.2 477.7 46.5 475.7 45.8 473.7C45 471.8 44.3 469.8 43.6 467.8C42.9 465.8 41.7 462.9 41.3 461.9"/>
<path class="c" d="M41.3 559C42.2 558.4 44.8 556.6 46.5 555.4C48.2 554.3 50.3 553.4 51.7 551.8C53 550.3 53.7 548.3 54.5 546.4C55.4 544.5 56.2 542.5 56.9 540.6C57.7 538.6 58.5 536.6 58.8 534.6C59.2 532.5 59.1 530.4 59.1 528.3C59.1 526.2 59.3 524.1 59.1 522C59 519.9 58.7 517.9 58.3 515.8C57.9 513.8 57.3 511.7 56.8 509.7C56.3 507.7 55.8 505.6 55.2 503.6C54.6 501.6 54 499.6 53.3 497.6C52.6 495.6 51.9 493.7 51.2 491.7C50.5 489.7 49.8 487.7 49.1 485.8C48.4 483.8 47.7 481.8 46.9 479.8C46.2 477.9 45.5 475.9 44.8 473.9C44 472 43.3 470 42.6 468C41.8 466.1 40.7 463.2 40.3 462.2"/>
<path class="c" d="M41.3 559C42.1 558.4 44.7 556.7 46.4 555.5C48.1 554.3 50.1 553.4 51.4 551.9C52.7 550.4 53.3 548.3 54.2 546.4C55.1 544.6 55.9 542.7 56.5 540.7C57.2 538.8 58 536.8 58.3 534.8C58.7 532.8 58.5 530.7 58.5 528.6C58.6 526.6 58.7 524.5 58.6 522.4C58.4 520.4 58 518.4 57.6 516.4C57.2 514.3 56.6 512.3 56.1 510.3C55.6 508.3 55.2 506.3 54.6 504.4C54 502.4 53.3 500.4 52.6 498.5C51.9 496.5 51.3 494.6 50.6 492.6C49.9 490.7 49.2 488.8 48.5 486.8C47.8 484.9 47.1 482.9 46.3 481C45.6 479.1 44.9 477.1 44.2 475.2C43.5 473.3 42.7 471.3 42 469.4C41.3 467.5 40.1 464.6 39.7 463.7"/>
<path class="c" d="M41.3 559C42.2 558.4 44.8 556.6 46.5 555.3C48.2 554.1 50.3 553.1 51.6 551.5C52.9 549.9 53.4 547.6 54.2 545.7C55 543.7 56 541.8 56.6 539.8C57.2 537.8 57.7 535.7 58 533.6C58.2 531.5 58 529.3 58 527.2C58 525.1 58.1 522.9 57.8 520.8C57.6 518.7 56.8 516.7 56.3 514.6C55.9 512.5 55.4 510.5 54.9 508.4C54.3 506.3 53.7 504.3 53 502.3C52.4 500.3 51.6 498.3 50.9 496.3C50.2 494.3 49.5 492.3 48.8 490.2C48 488.2 47.3 486.3 46.6 484.3C45.8 482.3 45.1 480.3 44.3 478.3C43.6 476.3 42.8 474.3 42.1 472.3C41.3 470.3 40.1 467.4 39.7 466.4"/>
<path class="c" d="M41.3 559C42.1 558.4 44.7 556.6 46.3 555.4C48 554.2 50 553.2 51.3 551.6C52.5 550.1 53 547.9 53.8 546C54.6 544.1 55.5 542.2 56.1 540.3C56.7 538.3 57.2 536.3 57.4 534.2C57.6 532.2 57.5 530.1 57.4 528C57.4 526 57.6 523.9 57.3 521.8C57 519.8 56.4 517.8 55.9 515.8C55.4 513.8 55 511.8 54.4 509.8C53.9 507.8 53.3 505.8 52.7 503.9C52 501.9 51.3 500 50.6 498C49.9 496.1 49.2 494.1 48.5 492.2C47.8 490.2 47.1 488.3 46.4 486.4C45.6 484.4 44.9 482.5 44.2 480.6C43.5 478.6 42.7 476.7 42 474.8C41.2 472.9 40.1 470 39.7 469"/>
<path class="c" d="M41.3 559C42.2 558.4 44.8 556.5 46.5 555.2C48.2 553.9 50.2 552.8 51.4 551.1C52.6 549.5 53 547.2 53.8 545.2C54.6 543.2 55.5 541.3 56.1 539.2C56.6 537.1 56.8 535 56.9 532.9C57 530.7 57 528.6 56.9 526.5C56.8 524.3 56.5 522.2 56.1 520.1C55.8 518 55.2 515.9 54.7 513.9C54.2 511.8 53.7 509.7 53 507.7C52.4 505.6 51.7 503.6 51 501.6C50.3 499.6 49.6 497.6 48.9 495.5C48.1 493.5 47.4 491.5 46.6 489.5C45.9 487.5 45.1 485.5 44.4 483.5C43.6 481.5 42.8 479.5 42.1 477.5C41.3 475.5 40.1 472.6 39.7 471.6"/>
<path class="c" d="M41.3 559C42.1 558.4 44.7 556.6 46.3 555.3C47.9 554 49.8 552.9 51 551.3C52.2 549.7 52.6 547.4 53.4 545.5C54.1 543.6 55.1 541.7 55.6 539.7C56.1 537.7 56.2 535.6 56.4 533.5C56.5 531.5 56.5 529.4 56.4 527.3C56.3 525.3 56 523.2 55.7 521.2C55.3 519.1 54.8 517.1 54.3 515.1C53.8 513.1 53.3 511.1 52.7 509.1C52.1 507.1 51.3 505.2 50.7 503.2C50 501.2 49.3 499.3 48.6 497.3C47.9 495.4 47.2 493.4 46.4 491.5C45.7 489.5 45 487.6 44.2 485.7C43.5 483.7 42.7 481.8 42 479.8C41.2 477.9 40 475 39.7 474.1"/>
<path class="c" d="M41.3 559C42.2 558.3 44.8 556.5 46.5 555.1C48.1 553.7 49.9 552.4 51.1 550.7C52.2 548.9 52.7 546.7 53.4 544.6C54.1 542.6 55.1 540.6 55.5 538.5C55.9 536.4 55.8 534.2 55.9 532.1C56 529.9 56.1 527.7 55.9 525.6C55.6 523.4 55 521.3 54.5 519.2C54.1 517.1 53.6 515 53 512.9C52.5 510.9 51.8 508.8 51.1 506.8C50.4 504.7 49.7 502.7 49 500.7C48.2 498.6 47.5 496.6 46.7 494.6C46 492.6 45.2 490.5 44.4 488.5C43.6 486.5 42.9 484.5 42.1 482.5C41.3 480.5 40 477.5 39.6 476.5"/>
<path class="c" d="M41.3 559C42.1 558.4 44.7 556.5 46.3 555.2C47.9 553.8 49.6 552.5 50.7 550.8C51.9 549.1 52.3 546.9 53 545C53.7 543 54.6 541.1 55 539C55.4 537 55.4 534.8 55.4 532.8C55.5 530.7 55.6 528.5 55.4 526.5C55.2 524.4 54.6 522.4 54.1 520.3C53.7 518.3 53.2 516.2 52.7 514.2C52.1 512.2 51.4 510.2 50.8 508.2C50.1 506.2 49.4 504.2 48.7 502.3C48 500.3 47.3 498.3 46.5 496.4C45.8 494.4 45 492.5 44.3 490.5C43.5 488.6 42.8 486.6 42 484.7C41.2 482.7 40 479.8 39.6 478.8"/>
<path class="c" d="M41.3 559C42.1 558.4 44.6 556.6 46.1 555.2C47.6 553.9 49.3 552.7 50.4 551C51.5 549.3 51.9 547.2 52.6 545.3C53.3 543.4 54.1 541.5 54.5 539.5C54.9 537.5 54.9 535.5 55 533.4C55 531.4 55.1 529.4 54.9 527.3C54.7 525.3 54.1 523.4 53.7 521.4C53.3 519.4 52.9 517.4 52.3 515.4C51.8 513.5 51.1 511.5 50.5 509.6C49.8 507.7 49.2 505.8 48.5 503.8C47.8 501.9 47.1 500 46.4 498.1C45.6 496.2 44.9 494.3 44.1 492.4C43.4 490.5 42.7 488.6 41.9 486.8C41.2 484.9 40 482 39.6 481.1"/>
<path class="c" d="M41.3 559C42.1 558.3 44.8 556.5 46.3 555C47.8 553.6 49.4 552.1 50.4 550.3C51.5 548.5 52 546.4 52.7 544.4C53.3 542.3 54 540.3 54.3 538.2C54.7 536.1 54.6 534 54.5 531.8C54.5 529.7 54.3 527.6 54 525.5C53.7 523.4 53.1 521.3 52.6 519.3C52.1 517.2 51.6 515.1 50.9 513.1C50.3 511.1 49.6 509.1 48.8 507.1C48.1 505.1 47.4 503.1 46.7 501.1C45.9 499.1 45.1 497.1 44.4 495.1C43.6 493.2 42.8 491.2 42 489.2C41.2 487.2 40 484.3 39.6 483.3"/>
<path class="c" d="M41.3 559C42.1 558.3 44.6 556.5 46.1 555.1C47.6 553.7 49.1 552.2 50.1 550.5C51.1 548.8 51.7 546.7 52.3 544.7C52.9 542.7 53.6 540.8 53.9 538.7C54.2 536.7 54.1 534.6 54.1 532.6C54 530.5 53.9 528.4 53.6 526.4C53.3 524.4 52.8 522.3 52.3 520.3C51.8 518.3 51.2 516.3 50.6 514.4C50 512.4 49.3 510.5 48.6 508.5C47.9 506.6 47.2 504.6 46.5 502.7C45.8 500.8 45 498.9 44.2 496.9C43.5 495 42.7 493.1 41.9 491.2C41.2 489.3 40 486.4 39.6 485.5"/>
<path class="c" d="M41.3 559C42.1 558.4 44.5 556.5 45.9 555.1C47.3 553.8 48.8 552.4 49.8 550.7C50.8 549 51.3 546.9 51.9 545C52.5 543.1 53.2 541.2 53.5 539.3C53.7 537.3 53.7 535.2 53.7 533.2C53.6 531.2 53.4 529.2 53.1 527.3C52.9 525.3 52.4 523.3 51.9 521.4C51.5 519.4 50.9 517.5 50.3 515.6C49.7 513.7 49 511.8 48.4 509.9C47.7 508 47 506.1 46.3 504.3C45.6 502.4 44.9 500.5 44.1 498.7C43.4 496.8 42.6 494.9 41.9 493.1C41.1 491.2 39.9 488.5 39.5 487.5"/>
<path class="c" d="M41.3 559C42.1 558.3 44.7 556.4 46.1 554.9C47.5 553.4 48.9 551.8 49.8 549.9C50.8 548.1 51.5 546 52 544C52.6 542 53 539.9 53.2 537.8C53.4 535.7 53.4 533.6 53.2 531.5C53.1 529.4 52.6 527.3 52.2 525.3C51.8 523.2 51.3 521.1 50.8 519.1C50.2 517.1 49.5 515.1 48.8 513.1C48.1 511.1 47.5 509.1 46.7 507.1C46 505.1 45.1 503.2 44.4 501.2C43.6 499.3 42.8 497.3 42 495.4C41.2 493.4 39.9 490.5 39.5 489.6"/>
<path class="c" d="M41.3 559C42.1 558.3 44.6 556.4 45.9 555C47.3 553.5 48.6 551.9 49.5 550.1C50.5 548.4 51.1 546.3 51.6 544.4C52.2 542.4 52.6 540.4 52.8 538.4C53 536.3 53 534.2 52.8 532.2C52.7 530.2 52.2 528.2 51.8 526.2C51.5 524.2 51 522.1 50.5 520.2C49.9 518.2 49.2 516.3 48.5 514.3C47.9 512.4 47.3 510.5 46.5 508.5C45.8 506.6 45 504.8 44.2 502.9C43.5 501 42.7 499.1 41.9 497.2C41.1 495.3 39.9 492.5 39.5 491.5"/>
<path class="c" d="M41.3 559C42 558.3 44.4 556.5 45.7 555C47.1 553.6 48.3 552 49.2 550.3C50.2 548.6 50.7 546.6 51.3 544.7C51.8 542.8 52.2 540.8 52.4 538.9C52.6 536.9 52.6 534.9 52.4 532.9C52.3 530.9 51.9 529 51.5 527C51.1 525.1 50.7 523.1 50.2 521.2C49.7 519.3 49 517.4 48.3 515.6C47.7 513.7 47.1 511.8 46.4 509.9C45.7 508.1 44.9 506.3 44.1 504.4C43.4 502.6 42.6 500.7 41.8 498.9C41.1 497.1 39.9 494.3 39.5 493.4"/>
<path class="c" d="M41.3 559C42.1 558.3 44.6 556.3 46 554.7C47.3 553.2 48.4 551.4 49.3 549.5C50.2 547.7 50.9 545.6 51.3 543.5C51.8 541.5 52 539.4 52.1 537.3C52.1 535.2 52 533.1 51.7 531C51.5 528.9 51.1 526.8 50.6 524.8C50.1 522.7 49.4 520.7 48.8 518.7C48.1 516.7 47.5 514.7 46.8 512.8C46 510.8 45.2 508.8 44.4 506.9C43.6 505 42.8 503 42 501.1C41.2 499.1 39.9 496.2 39.5 495.3"/>
<path class="c" d="M41.3 559C42 558.3 44.5 556.4 45.8 554.8C47.1 553.3 48.2 551.6 49.1 549.7C49.9 547.9 50.5 545.9 51 543.9C51.4 541.9 51.6 539.9 51.7 537.8C51.8 535.8 51.6 533.8 51.4 531.7C51.1 529.7 50.7 527.7 50.3 525.7C49.8 523.7 49.1 521.8 48.5 519.8C47.9 517.9 47.3 515.9 46.6 514C45.9 512.1 45.1 510.2 44.3 508.3C43.5 506.4 42.7 504.6 41.9 502.7C41.1 500.8 39.9 498 39.5 497.1"/>
<path class="c" d="M41.3 559C42 558.3 44.4 556.4 45.6 554.9C46.8 553.4 47.9 551.7 48.8 549.9C49.6 548.2 50.2 546.2 50.6 544.3C51 542.4 51.3 540.4 51.4 538.4C51.4 536.4 51.3 534.4 51 532.5C50.8 530.5 50.4 528.5 50 526.6C49.5 524.7 48.9 522.8 48.3 520.9C47.7 519 47.1 517.1 46.4 515.2C45.7 513.4 44.9 511.6 44.2 509.7C43.4 507.9 42.6 506.1 41.8 504.2C41.1 502.4 39.9 499.7 39.5 498.8"/>
<path class="c" d="M41.3 559C42 558.3 44.2 556.4 45.4 554.9C46.6 553.5 47.7 551.9 48.5 550.1C49.3 548.4 49.8 546.5 50.3 544.6C50.7 542.8 50.9 540.8 51 538.9C51.1 537 50.9 535.1 50.7 533.2C50.5 531.2 50.2 529.3 49.7 527.5C49.3 525.6 48.7 523.8 48.1 521.9C47.5 520.1 46.9 518.2 46.3 516.4C45.6 514.6 44.8 512.9 44 511.1C43.3 509.3 42.5 507.5 41.8 505.8C41 504 39.8 501.4 39.4 500.5"/>
<path class="c" d="M41.3 559C42 558.3 44.4 556.2 45.7 554.6C46.9 553 47.8 551.1 48.6 549.3C49.4 547.4 49.9 545.3 50.3 543.3C50.6 541.3 50.7 539.2 50.7 537.2C50.6 535.1 50.3 533.1 49.9 531.1C49.6 529 49.1 527 48.6 525C48 523.1 47.3 521.1 46.6 519.2C45.9 517.2 45.2 515.3 44.4 513.4C43.6 511.5 42.8 509.6 41.9 507.8C41.1 505.9 39.8 503 39.4 502.1"/>
<path class="c" d="M41.3 559C42 558.3 44.3 556.3 45.5 554.7C46.6 553.1 47.6 551.3 48.3 549.5C49.1 547.7 49.6 545.7 49.9 543.7C50.3 541.8 50.4 539.7 50.3 537.7C50.3 535.8 50 533.8 49.7 531.8C49.3 529.8 48.9 527.9 48.3 525.9C47.8 524 47.1 522.1 46.4 520.3C45.8 518.4 45 516.5 44.3 514.7C43.5 512.8 42.7 511 41.9 509.2C41.1 507.3 39.8 504.6 39.4 503.7"/>
<path class="c" d="M41.3 559C42 558.3 44.2 556.3 45.3 554.8C46.4 553.2 47.3 551.5 48 549.7C48.8 547.9 49.3 546 49.6 544.1C49.9 542.2 50.1 540.2 50 538.3C50 536.4 49.7 534.4 49.4 532.5C49.1 530.6 48.6 528.7 48.1 526.8C47.6 525 46.9 523.1 46.3 521.3C45.6 519.5 44.9 517.7 44.1 515.9C43.4 514.1 42.6 512.3 41.8 510.5C41 508.8 39.8 506.1 39.4 505.2"/>
<path class="c" d="M41.3 559C41.9 558.3 44 556.3 45.1 554.8C46.2 553.3 47.1 551.6 47.8 549.9C48.5 548.2 49 546.3 49.3 544.5C49.6 542.6 49.7 540.7 49.7 538.8C49.7 536.9 49.4 535.1 49.1 533.2C48.8 531.3 48.4 529.5 47.9 527.7C47.4 525.9 46.8 524.1 46.1 522.3C45.5 520.5 44.8 518.8 44 517C43.3 515.3 42.5 513.6 41.7 511.9C41 510.1 39.8 507.6 39.4 506.7"/>
<path class="c" d="M41.3 559C42 558.2 44.3 556.1 45.4 554.4C46.5 552.8 47.2 550.8 47.9 548.9C48.5 547 49.1 545 49.3 543C49.6 541 49.4 538.9 49.3 536.9C49.1 534.9 48.8 532.8 48.4 530.9C47.9 528.9 47.2 527 46.5 525C45.9 523.1 45.2 521.2 44.4 519.3C43.7 517.4 42.8 515.6 41.9 513.7C41.1 511.9 39.8 509.1 39.4 508.2"/>
<path class="c" d="M41.3 559C41.9 558.3 44.1 556.1 45.2 554.5C46.2 552.9 47 551 47.6 549.2C48.3 547.3 48.8 545.3 49 543.4C49.3 541.4 49.1 539.4 49 537.5C48.8 535.5 48.6 533.5 48.1 531.6C47.7 529.7 47 527.8 46.4 525.9C45.7 524.1 45.1 522.2 44.3 520.4C43.6 518.5 42.7 516.8 41.9 515C41 513.2 39.8 510.5 39.4 509.6"/>
<path class="c" d="M41.3 559C41.9 558.3 44 556.2 45 554.6C46 553 46.7 551.2 47.4 549.4C48 547.6 48.5 545.7 48.7 543.8C49 541.9 48.8 539.9 48.7 538C48.6 536.1 48.3 534.2 47.9 532.3C47.5 530.4 46.8 528.6 46.2 526.8C45.6 525 44.9 523.2 44.2 521.4C43.5 519.6 42.6 517.9 41.8 516.2C41 514.4 39.8 511.8 39.4 510.9"/>
<path class="c" d="M41.3 559C41.9 558.3 43.9 556.2 44.8 554.6C45.8 553.1 46.5 551.3 47.1 549.6C47.7 547.8 48.3 546 48.5 544.2C48.7 542.3 48.6 540.4 48.4 538.6C48.3 536.7 48.1 534.8 47.7 533C47.3 531.2 46.6 529.4 46 527.7C45.4 525.9 44.8 524.1 44.1 522.4C43.4 520.7 42.5 519 41.7 517.3C40.9 515.6 39.8 513.1 39.4 512.2"/>
<path class="c" d="M41.3 559C41.9 558.3 43.7 556.3 44.7 554.7C45.6 553.2 46.3 551.5 46.9 549.8C47.5 548.1 48 546.3 48.2 544.5C48.4 542.7 48.3 540.9 48.2 539.1C48.1 537.3 47.9 535.4 47.5 533.7C47.1 531.9 46.5 530.2 45.9 528.5C45.3 526.8 44.7 525 44 523.4C43.3 521.7 42.5 520.1 41.7 518.4C40.9 516.8 39.7 514.3 39.3 513.5"/>
<path class="c" d="M41.3 559C41.9 558.2 43.9 556 44.9 554.3C45.8 552.5 46.5 550.6 47 548.7C47.5 546.8 48 544.9 48.1 542.9C48.2 540.9 48 538.9 47.7 537C47.4 535 46.9 533.1 46.4 531.2C45.8 529.3 45.2 527.3 44.5 525.5C43.7 523.7 42.8 521.9 41.9 520.1C41.1 518.3 39.8 515.7 39.3 514.8"/>
<path fill="#000" stroke="#000" stroke-width="0.6" d="M41.3 559C42.3 558.5 45.3 557.3 47.3 556C49.3 554.7 51.7 553 53.3 551C54.9 549 56.1 546.7 56.8 544C57.5 541.3 57.7 537.8 57.3 535C56.9 532.2 55.8 529.3 54.3 527C52.8 524.7 50.5 522.3 48.3 521C46.1 519.7 42.5 519.3 41.3 519Z"/>
<path class="c" d="M41.3 559C41.5 563.5 42.1 579.6 42.8 586C43.5 592.4 45.4 593.7 45.6 597.6C45.9 601.5 45.1 605.9 44.3 609.3C43.5 612.6 41.5 616.3 41 617.7"/>
<path class="c" d="M41.3 559C42.2 563.5 45.4 578.8 47 586C48.6 593.2 50.9 596.9 51.2 602C51.6 607.1 50.2 612.7 49.1 616.7C48 620.7 45.6 623.9 44.3 626.2C42.9 628.5 41.5 629.7 41 630.4"/>
<path class="c" d="M41.3 559C42.9 563.5 48.6 578.5 51.2 586C53.8 593.5 56.4 598.2 57 604C57.6 609.8 56.5 615.8 54.9 620.9C53.3 626 49.8 631.4 47.5 634.7C45.2 638.1 42.1 640 41 641"/>
<path class="c" d="M41.3 559C43.7 563.5 51.8 578 55.5 586C59.2 594 62.4 600.7 63.4 607.2C64.5 613.7 63.4 619.7 61.8 625.2C60.2 630.7 56 636.3 53.9 640C51.8 643.7 49.9 646.2 49.1 647.5"/>
<path class="c" d="M41.3 559C44.4 563.5 55.5 577.6 60.2 586C64.9 594.4 68.1 602.6 69.7 609.3C71.3 616 70.4 621.3 69.7 626.2C69 631.1 66.7 635.4 65.5 638.9C64.3 642.4 62.8 646.1 62.3 647.5"/>
<path class="c" d="M41.3 559C45.3 563.5 59.9 578.3 65.5 586C71.1 593.7 72.7 598.8 75 605C77.3 611.2 78.7 617.7 79.3 623C79.9 628.3 79.2 632.7 78.7 636.8C78.2 640.9 76.9 645.7 76.6 647.5"/>
<path class="c" d="M41.3 559C46.6 563.5 66.4 579.4 72.9 586C79.4 592.6 78.3 595.2 80.3 598.7C82.2 602.2 83.3 603.7 84.6 607.2C85.9 610.8 87 615.1 88 620C89 624.9 90.5 632.2 90.9 636.8C91.3 641.4 90.5 645.7 90.4 647.5"/>
<path class="c" d="M41.3 559C47.8 563.5 72.5 579.8 80.3 586C88.1 592.2 85.9 593.2 88 596C90.1 598.8 91.8 600.6 93 603C94.2 605.4 94.3 607.8 95.1 610.3C95.9 612.8 96.9 615.8 98 617.7C99.1 619.7 100.3 619.1 101.5 622C102.7 624.9 104.1 630.8 105 635C105.9 639.2 106.5 645.4 106.8 647.5"/>
<path class="c" d="M41.3 559C46.9 561.7 67.2 570.9 75 575C82.8 579.1 84.8 581.1 88 583.6C91.2 586.1 92.5 587.5 94.2 589.8C95.9 592.1 97.1 595.3 97.9 597.2C98.7 599.1 98.9 600.4 99.1 601"/>
<path class="c" d="M102.2 604.9C103.1 605.6 106 607.5 107.8 609C109.5 610.5 110.2 611.2 112.7 614C115.2 616.8 120 620.4 122.7 626C125.4 631.6 128 643.9 129 647.5"/>
<path class="c" d="M41.3 559C49.1 561.8 78.2 571.7 88 575.6C97.8 579.5 96.6 579.6 100.3 582.4C104 585.2 107.5 589.7 110.2 592.3C112.9 594.9 114.6 596.4 116.4 597.8C118.2 599.2 120.5 600.4 121.3 600.9"/>
<path class="c" d="M128.7 604.9C130.1 605.8 134.9 607.4 137.4 610.2C139.9 613 140.6 615.6 143.8 621.8C147 628 154.4 643.2 156.5 647.5"/>
<path class="c" d="M41.3 559C49.1 560.5 77.1 565.5 88 568.2C98.9 570.9 100.3 572.5 106.5 575C112.7 577.5 118.8 580.5 125 583C131.2 585.5 138.1 588 143.6 589.8C149.1 591.5 153.3 592.3 158 593.5C162.7 594.7 167.4 595.5 171.5 596.8C175.6 598 180.6 600.3 182.4 601"/>
<path class="c" d="M190.1 605.1C190.8 608.3 193.4 617.1 194.5 624.2C195.6 631.3 196.2 643.6 196.6 647.5"/>
<path class="c" d="M41.3 559C49.1 559.4 76.1 560.2 88 561.4C99.9 562.6 104.5 564.9 112.7 566.3C120.9 567.7 129.8 569 137.4 570C145 571 149.8 571.5 158 572.5C166.2 573.5 178 574.4 186.8 576.1C195.6 577.8 204.7 580.4 210.9 582.6C217.1 584.8 220.3 586.3 224 589.2C227.7 592.1 230.4 595.6 233 600C235.6 604.4 237.5 610.3 239.3 615.4C241.1 620.5 242.8 625.4 243.7 630.7C244.6 636.1 244.5 644.7 244.7 647.5"/>
<path class="c" d="M41.3 559C51.1 558.7 80.2 557.9 100 557.3C119.8 556.7 143.7 555.8 160 555.4C176.3 555 186.7 554.2 197.7 554.6C208.7 555 219.3 556.5 226.2 557.5C233.1 558.5 234.2 558.7 239.3 560.3C244.4 561.9 251 563.9 256.8 567.3C262.6 570.7 271.3 578.4 274.2 580.6"/>
<g transform="translate(128.5,487.5) rotate(-72)"><rect x="-10.6" y="-2.6" width="21.2" height="5.2" fill="#fff"/><text class="cl" text-anchor="middle" y="1.6">246.5051</text></g>
<g transform="translate(176.9,491.7) rotate(-55)"><rect x="-10.6" y="-2.6" width="21.2" height="5.2" fill="#fff"/><text class="cl" text-anchor="middle" y="1.6">103.5539</text></g>
<g transform="translate(221.4,510.5) rotate(-22)"><rect x="-9.4" y="-2.6" width="18.8" height="5.2" fill="#fff"/><text class="cl" text-anchor="middle" y="1.6">14.8957</text></g>
<g transform="translate(85.3,618) rotate(82)"><rect x="-11.8" y="-2.6" width="23.7" height="5.2" fill="#fff"/><text class="cl" text-anchor="middle" y="1.6">-249.3242</text></g>
<g transform="translate(147,621) rotate(62)"><rect x="-11.8" y="-2.6" width="23.7" height="5.2" fill="#fff"/><text class="cl" text-anchor="middle" y="1.6">-160.2658</text></g>
<g transform="translate(231.5,602.5) rotate(62)"><rect x="-10.6" y="-2.6" width="21.2" height="5.2" fill="#fff"/><text class="cl" text-anchor="middle" y="1.6">-103.452</text></g>
</g>
<rect class="fr" x="41.2" y="464.8" width="232.5" height="182.2"/>
<line class="fr" x1="41.2" y1="559" x2="273.7" y2="559" style="stroke-width:1.25"/>
<rect x="95.6" y="600.8" width="115.7" height="4.4" fill="#000"/>
<text class="tk" text-anchor="middle" x="27.9" y="468.4">-200</text>
<text class="tk" text-anchor="middle" x="28.9" y="561.8">0</text>
<text class="tk" text-anchor="middle" x="29.2" y="647.8">200</text>
<text class="tk" text-anchor="middle" x="38.9" y="659">-200</text>
<text class="tk" text-anchor="middle" x="148.7" y="659">0</text>
<line class="fr" x1="148.7" y1="647" x2="148.7" y2="645" style="stroke-width:1"/>
<line class="fr" x1="148.7" y1="464.8" x2="148.7" y2="466.8" style="stroke-width:1"/>
<text class="tk" text-anchor="middle" x="272.3" y="659">200</text>
<text class="ax" x="105.6" y="678" textLength="103.6" lengthAdjust="spacingAndGlyphs">Distance along line [m]</text>
<text class="ax" transform="translate(9,615.6) rotate(-90)" textLength="112.3" lengthAdjust="spacingAndGlyphs">Depth below seafloor [m]</text>
<text class="ti" x="58.2" y="486">0.25s</text>
</g>
<g>
<clipPath id="cp5"><rect x="328.5" y="465.8" width="231" height="180.9"/></clipPath>
<g clip-path="url(#cp5)">
<path d="M328.5 560.3L328.5 560.3L328.5 560.3L328.6 560.3L328.8 560.2L329 560.2L329.2 560.1L329.4 559.9L329.7 559.8L329.9 559.6L330.2 559.3L330.4 559.1L330.6 558.7L330.9 558.4L331.1 558L331.3 557.5L331.5 557L331.6 556.4L331.8 555.8L331.9 555.1L331.9 554.4L331.9 553.5L331.9 552.6L331.8 551.7L331.6 550.6L331.4 549.5L331.1 548.3L330.6 547L330 545.6L329.3 544.2L328.5 542.6L328 560.3Z" fill="#000"/>
<path class="c" d="M328.5 560.3C330.1 560.3 334.7 560.2 337.8 560.1C340.9 560.1 344.1 560 347.2 559.9C350.3 559.9 353.4 559.8 356.5 559.7C359.6 559.7 362.7 559.6 365.8 559.5C368.9 559.5 372.1 559.4 375.2 559.3C378.3 559.3 381.4 559.2 384.5 559.1C387.6 559 390.7 559 393.8 558.9C396.9 558.8 400.1 558.8 403.2 558.7C406.3 558.6 409.4 558.6 412.5 558.5C415.6 558.4 418.7 558.4 421.8 558.3C424.9 558.2 428.1 558.1 431.2 558.1C434.3 558 437.4 557.9 440.5 557.9C443.6 557.8 446.7 557.7 449.8 557.6C453 557.6 456.1 557.5 459.2 557.4C462.3 557.4 465.4 557.3 468.5 557.2C471.6 557.1 474.7 557.1 477.8 557C481 556.9 484.1 556.9 487.2 556.8C490.3 556.7 493.4 556.6 496.5 556.6C499.6 556.5 502.7 556.4 505.8 556.4C509 556.3 512.1 556.2 515.2 556.1C518.3 556.1 521.4 556 524.5 555.9C527.6 555.8 530.7 555.8 533.8 555.7C537 555.6 540.1 555.6 543.2 555.5C546.3 555.4 549.4 555.3 552.5 555.3C555.6 555.2 560.3 555.1 561.8 555"/>
<path class="c" d="M328.5 560.3C330.1 560.2 334.8 560 337.9 559.9C341 559.7 344.2 559.6 347.3 559.4C350.4 559.3 353.5 559.1 356.7 558.9C359.8 558.8 362.9 558.6 366.1 558.4C369.2 558.2 372.3 558.1 375.5 557.9C378.6 557.7 381.7 557.5 384.8 557.4C388 557.2 391.1 557 394.2 556.8C397.4 556.6 400.5 556.4 403.6 556.3C406.8 556.1 409.9 555.9 413 555.7C416.1 555.5 419.3 555.3 422.4 555.1C425.5 554.9 428.7 554.7 431.8 554.6C434.9 554.4 438 554.2 441.2 554C444.3 553.8 447.4 553.6 450.6 553.4C453.7 553.2 456.8 553 459.9 552.8C463.1 552.6 466.2 552.4 469.3 552.2C472.5 552 475.6 551.8 478.7 551.6C481.8 551.4 485 551.2 488.1 551C491.2 550.8 494.3 550.6 497.5 550.4C500.6 550.2 503.7 550 506.9 549.7C510 549.5 513.1 549.3 516.2 549.1C519.4 548.9 522.5 548.7 525.6 548.5C528.8 548.3 531.9 548.1 535 547.9C538.1 547.7 541.3 547.4 544.4 547.2C547.5 547 550.6 546.8 553.8 546.6C556.9 546.4 561.6 546.1 563.2 545.9"/>
<path class="c" d="M328.5 560.3C330.1 560.2 334.8 559.9 337.9 559.6C341.1 559.4 344.2 559.1 347.3 558.8C350.5 558.5 353.6 558.2 356.8 557.9C359.9 557.5 363 557.2 366.2 556.9C369.3 556.5 372.4 556.2 375.5 555.8C378.7 555.5 381.8 555.1 384.9 554.8C388.1 554.4 391.2 554 394.3 553.6C397.5 553.3 400.6 552.9 403.7 552.5C406.8 552.1 410 551.7 413.1 551.3C416.2 550.9 419.3 550.5 422.5 550.1C425.6 549.7 428.7 549.2 431.8 548.8C435 548.4 438.1 548 441.2 547.5C444.3 547.1 447.4 546.7 450.6 546.2C453.7 545.8 456.8 545.4 459.9 544.9C463 544.5 466.2 544 469.3 543.6C472.4 543.1 475.5 542.6 478.6 542.2C481.7 541.7 484.9 541.2 488 540.8C491.1 540.3 494.2 539.8 497.3 539.3C500.4 538.9 503.5 538.4 506.7 537.9C509.8 537.4 512.9 536.9 516 536.4C519.1 535.9 522.2 535.4 525.3 534.9C528.4 534.4 531.6 533.9 534.7 533.4C537.8 532.9 540.9 532.4 544 531.9C547.1 531.4 550.2 530.9 553.3 530.3C556.4 529.8 561.1 529 562.6 528.8"/>
<path class="c" d="M328.5 560.3C330.1 560.2 334.9 559.7 338.1 559.4C341.3 559.1 344.4 558.7 347.6 558.3C350.8 557.9 354 557.4 357.2 557C360.3 556.5 363.5 556 366.7 555.6C369.8 555.1 373 554.6 376.2 554C379.3 553.5 382.5 553 385.6 552.4C388.8 551.9 392 551.3 395.1 550.8C398.3 550.2 401.4 549.6 404.6 549C407.7 548.4 410.9 547.8 414 547.2C417.2 546.5 420.3 545.9 423.4 545.3C426.6 544.6 429.7 544 432.9 543.3C436 542.6 439.1 541.9 442.3 541.2C445.4 540.6 448.5 539.9 451.6 539.1C454.8 538.4 457.9 537.7 461 537C464.1 536.3 467.3 535.5 470.4 534.8C473.5 534 476.6 533.3 479.7 532.5C482.8 531.7 485.9 530.9 489 530.2C492.2 529.4 495.3 528.6 498.4 527.8C501.5 527 504.6 526.2 507.7 525.3C510.8 524.5 513.9 523.7 516.9 522.8C520 522 523.1 521.1 526.2 520.3C529.3 519.4 532.4 518.6 535.5 517.7C538.6 516.8 541.7 515.9 544.7 515C547.8 514.2 550.9 513.3 554 512.3C557 511.4 561.6 510.1 563.2 509.6"/>
<path class="c" d="M328.5 560.3C330.1 560.1 335 559.6 338.3 559.2C341.5 558.8 344.8 558.3 348 557.8C351.3 557.3 354.5 556.7 357.7 556.2C361 555.6 364.2 555 367.4 554.3C370.6 553.7 373.9 553 377.1 552.3C380.3 551.6 383.5 550.9 386.7 550.2C389.9 549.4 393.1 548.7 396.3 547.9C399.4 547.1 402.6 546.3 405.8 545.5C409 544.7 412.2 543.8 415.3 542.9C418.5 542.1 421.7 541.2 424.8 540.3C428 539.4 431.1 538.5 434.3 537.5C437.4 536.6 440.5 535.6 443.7 534.6C446.8 533.7 449.9 532.7 453.1 531.6C456.2 530.6 459.3 529.6 462.4 528.5C465.5 527.5 468.6 526.4 471.7 525.3C474.8 524.3 477.9 523.1 481 522C484.1 520.9 487.2 519.8 490.2 518.6C493.3 517.5 496.4 516.3 499.4 515.1C502.5 513.9 505.6 512.7 508.6 511.5C511.7 510.3 514.7 509.1 517.7 507.8C520.8 506.6 523.8 505.3 526.8 504C529.9 502.7 532.9 501.5 535.9 500.1C538.9 498.8 541.9 497.5 544.9 496.2C547.9 494.8 550.9 493.5 553.9 492.1C556.9 490.7 561.3 488.6 562.8 488"/>
<path class="c" d="M328.5 560.3C330.2 560.1 335.2 559.5 338.6 559C341.9 558.6 345.2 557.9 348.5 557.3C351.9 556.7 355.2 556 358.5 555.3C361.8 554.5 365 553.8 368.3 552.9C371.6 552.1 374.9 551.3 378.1 550.4C381.4 549.5 384.6 548.6 387.9 547.6C391.1 546.7 394.3 545.7 397.6 544.6C400.8 543.6 404 542.5 407.2 541.4C410.4 540.4 413.6 539.2 416.7 538.1C419.9 536.9 423.1 535.7 426.2 534.5C429.4 533.3 432.5 532 435.6 530.8C438.8 529.5 441.9 528.2 445 526.9C448.1 525.5 451.2 524.2 454.3 522.8C457.3 521.4 460.4 520 463.5 518.5C466.5 517.1 469.5 515.6 472.6 514.1C475.6 512.6 478.6 511.1 481.6 509.6C484.6 508 487.6 506.4 490.6 504.9C493.6 503.3 496.5 501.6 499.5 500C502.4 498.3 505.4 496.7 508.3 495C511.2 493.3 514.1 491.6 517 489.8C519.9 488.1 522.8 486.3 525.7 484.6C528.5 482.8 531.4 481 534.2 479.1C537.1 477.3 539.9 475.5 542.7 473.6C545.5 471.7 548.3 469.8 551.1 467.9C553.9 466 558 463.1 559.4 462.1"/>
<path class="c" d="M328.5 560.3C330 560.1 334.5 559.6 337.5 559.1C340.5 558.6 343.5 558.1 346.5 557.4C349.5 556.8 352.4 556.2 355.4 555.5C358.3 554.8 361.3 554 364.2 553.2C367.2 552.4 370.1 551.6 373 550.7C375.9 549.8 378.8 548.9 381.7 547.9C384.6 547 387.4 546 390.3 545C393.2 544 396 542.9 398.8 541.8C401.7 540.7 404.5 539.6 407.3 538.5C410.1 537.3 412.9 536.1 415.7 534.9C418.5 533.7 421.3 532.4 424 531.2C426.8 529.9 429.5 528.6 432.2 527.2C435 525.9 437.7 524.5 440.4 523.1C443.1 521.7 445.8 520.3 448.4 518.9C451.1 517.4 453.8 516 456.4 514.5C459 513 461.7 511.4 464.3 509.9C466.9 508.3 469.5 506.7 472.1 505.1C474.6 503.5 477.2 501.9 479.8 500.2C482.3 498.6 484.8 496.9 487.4 495.2C489.9 493.5 492.4 491.8 494.9 490C497.4 488.3 499.8 486.5 502.3 484.7C504.7 482.9 507.2 481.1 509.6 479.3C512 477.5 514.4 475.6 516.8 473.7C519.2 471.9 521.6 470 523.9 468.1C526.3 466.1 529.8 463.2 531 462.3"/>
<path class="c" d="M328.5 560.3C329.9 560.1 334 559.6 336.8 559.2C339.5 558.7 342.3 558.1 345 557.5C347.7 556.9 350.4 556.3 353.1 555.6C355.8 554.9 358.5 554.1 361.2 553.3C363.9 552.6 366.5 551.7 369.2 550.9C371.8 550 374.4 549.1 377.1 548.1C379.7 547.2 382.3 546.2 384.9 545.2C387.5 544.1 390.1 543.1 392.6 542C395.2 540.9 397.7 539.8 400.3 538.6C402.8 537.4 405.3 536.3 407.8 535C410.3 533.8 412.8 532.5 415.3 531.3C417.8 530 420.2 528.6 422.7 527.3C425.1 525.9 427.5 524.6 429.9 523.2C432.3 521.8 434.7 520.3 437.1 518.9C439.5 517.4 441.8 515.9 444.2 514.4C446.5 512.9 448.8 511.3 451.1 509.8C453.4 508.2 455.7 506.6 458 505C460.3 503.4 462.5 501.7 464.8 500.1C467 498.4 469.2 496.7 471.4 495C473.6 493.3 475.8 491.5 478 489.8C480.1 488 482.3 486.2 484.4 484.4C486.5 482.6 488.6 480.8 490.7 479C492.8 477.1 494.9 475.3 497 473.4C499 471.5 501.1 469.6 503.1 467.7C505.1 465.8 508.1 462.9 509.1 461.9"/>
<path class="c" d="M328.5 560.3C329.8 560.1 333.6 559.6 336.2 559.2C338.7 558.8 341.2 558.2 343.7 557.6C346.2 557 348.7 556.4 351.2 555.7C353.7 555 356.2 554.3 358.7 553.5C361.1 552.7 363.6 551.9 366 551C368.4 550.1 370.8 549.2 373.2 548.3C375.6 547.3 378 546.3 380.4 545.3C382.7 544.3 385.1 543.2 387.4 542.1C389.8 541 392.1 539.9 394.4 538.7C396.7 537.6 399 536.4 401.2 535.1C403.5 533.9 405.8 532.6 408 531.3C410.2 530 412.4 528.7 414.6 527.3C416.8 526 419 524.6 421.2 523.2C423.3 521.8 425.5 520.3 427.6 518.9C429.7 517.4 431.8 515.9 433.9 514.4C436 512.8 438 511.3 440.1 509.7C442.1 508.1 444.1 506.5 446.1 504.9C448.1 503.3 450.1 501.6 452.1 500C454.1 498.3 456 496.6 458 494.9C459.9 493.2 461.8 491.5 463.7 489.7C465.6 487.9 467.4 486.2 469.3 484.4C471.2 482.6 473 480.8 474.8 478.9C476.6 477.1 478.4 475.2 480.2 473.4C482 471.5 483.7 469.6 485.5 467.7C487.2 465.8 489.8 462.9 490.6 461.9"/>
<path class="c" d="M328.5 560.3C329.7 560.1 333.3 559.7 335.7 559.2C338 558.8 340.4 558.3 342.7 557.7C345.1 557.1 347.4 556.5 349.7 555.8C352 555.1 354.3 554.3 356.6 553.6C358.9 552.8 361.2 552 363.4 551.1C365.7 550.2 367.9 549.3 370.1 548.4C372.3 547.4 374.5 546.4 376.7 545.4C378.9 544.3 381.1 543.3 383.2 542.2C385.4 541.1 387.5 539.9 389.6 538.8C391.7 537.6 393.8 536.4 395.9 535.1C397.9 533.9 400 532.6 402 531.3C404 530 406.1 528.7 408 527.3C410 525.9 412 524.5 414 523.1C415.9 521.7 417.8 520.2 419.7 518.8C421.6 517.3 423.5 515.8 425.4 514.3C427.3 512.7 429.1 511.2 430.9 509.6C432.8 508 434.6 506.4 436.4 504.8C438.1 503.2 439.9 501.5 441.7 499.8C443.4 498.2 445.1 496.5 446.8 494.8C448.5 493.1 450.2 491.3 451.9 489.6C453.5 487.8 455.2 486.1 456.8 484.3C458.4 482.5 460 480.7 461.6 478.9C463.2 477 464.8 475.2 466.3 473.4C467.8 471.5 469.4 469.6 470.9 467.7C472.4 465.9 474.6 463 475.3 462"/>
<path class="c" d="M328.5 560.3C329.6 560.1 333 559.7 335.2 559.3C337.4 558.8 339.6 558.3 341.8 557.7C344 557.1 346.2 556.5 348.4 555.8C350.5 555.1 352.7 554.4 354.8 553.6C356.9 552.8 359 552 361.1 551.1C363.2 550.3 365.3 549.3 367.3 548.4C369.4 547.4 371.4 546.4 373.4 545.4C375.5 544.3 377.4 543.3 379.4 542.2C381.4 541 383.3 539.9 385.3 538.7C387.2 537.5 389.1 536.3 391 535C392.9 533.8 394.8 532.5 396.6 531.2C398.5 529.9 400.3 528.5 402.1 527.1C403.9 525.8 405.7 524.4 407.4 522.9C409.2 521.5 410.9 520 412.6 518.6C414.3 517.1 416 515.6 417.7 514C419.4 512.5 421 510.9 422.6 509.4C424.2 507.8 425.8 506.2 427.4 504.6C429 502.9 430.6 501.3 432.1 499.6C433.6 497.9 435.2 496.3 436.6 494.6C438.1 492.9 439.6 491.1 441.1 489.4C442.5 487.7 443.9 485.9 445.4 484.1C446.8 482.3 448.1 480.6 449.5 478.7C450.9 476.9 452.2 475.1 453.6 473.3C454.9 471.4 456.2 469.6 457.5 467.7C458.8 465.9 460.7 463 461.3 462.1"/>
<path class="c" d="M328.5 560.3C329.6 560.1 332.8 559.7 334.9 559.3C337 558.9 339.1 558.3 341.1 557.7C343.2 557.2 345.3 556.5 347.3 555.9C349.3 555.2 351.4 554.4 353.4 553.6C355.4 552.9 357.3 552 359.3 551.1C361.3 550.3 363.2 549.3 365.1 548.4C367 547.4 368.9 546.4 370.8 545.3C372.7 544.3 374.5 543.2 376.4 542.1C378.2 540.9 380 539.8 381.8 538.6C383.6 537.4 385.4 536.2 387.1 534.9C388.8 533.6 390.5 532.3 392.2 531C393.9 529.7 395.6 528.3 397.2 526.9C398.9 525.6 400.5 524.1 402.1 522.7C403.7 521.3 405.3 519.8 406.8 518.3C408.4 516.8 409.9 515.3 411.4 513.8C412.9 512.2 414.4 510.7 415.8 509.1C417.3 507.5 418.7 505.9 420.1 504.3C421.6 502.7 422.9 501 424.3 499.4C425.7 497.7 427 496 428.3 494.3C429.7 492.6 431 490.9 432.2 489.2C433.5 487.4 434.8 485.7 436 483.9C437.2 482.2 438.5 480.4 439.6 478.6C440.8 476.8 442 475 443.2 473.2C444.3 471.4 445.4 469.6 446.6 467.7C447.7 465.9 449.3 463.1 449.8 462.2"/>
<path class="c" d="M328.5 560.3C329.6 560.1 332.9 559.6 335.1 559.2C337.3 558.7 339.4 558.1 341.5 557.5C343.7 556.8 345.8 556.1 347.9 555.3C349.9 554.5 352 553.7 354 552.8C356.1 551.9 358.1 550.9 360.1 549.9C362.1 548.9 364 547.8 365.9 546.7C367.9 545.6 369.8 544.4 371.6 543.2C373.5 542 375.3 540.7 377.2 539.5C379 538.2 380.7 536.8 382.5 535.4C384.2 534.1 386 532.7 387.7 531.2C389.4 529.8 391 528.3 392.6 526.8C394.3 525.2 395.9 523.7 397.4 522.1C399 520.5 400.6 518.9 402.1 517.3C403.6 515.7 405.1 514 406.5 512.3C408 510.6 409.4 508.9 410.8 507.2C412.2 505.4 413.6 503.7 414.9 501.9C416.2 500.1 417.6 498.3 418.8 496.5C420.1 494.7 421.4 492.9 422.6 491C423.9 489.1 425.1 487.3 426.2 485.4C427.4 483.5 428.6 481.6 429.7 479.7C430.8 477.7 431.9 475.8 433 473.9C434.1 471.9 435.1 470 436.2 468C437.2 466 438.7 463 439.2 462"/>
<path class="c" d="M328.5 560.3C329.5 560.1 332.7 559.7 334.8 559.2C336.9 558.7 338.9 558.1 341 557.5C343 556.8 345 556.1 347 555.3C349 554.5 350.9 553.7 352.8 552.7C354.8 551.8 356.7 550.9 358.5 549.8C360.4 548.8 362.3 547.7 364.1 546.6C365.9 545.5 367.7 544.3 369.4 543.1C371.1 541.8 372.9 540.6 374.5 539.3C376.2 538 377.9 536.6 379.5 535.2C381.1 533.8 382.7 532.4 384.3 531C385.8 529.5 387.3 528 388.8 526.5C390.3 525 391.8 523.4 393.2 521.8C394.7 520.2 396.1 518.6 397.4 517C398.8 515.3 400.1 513.7 401.4 512C402.7 510.3 404 508.6 405.3 506.9C406.5 505.2 407.7 503.4 408.9 501.6C410.1 499.9 411.3 498.1 412.4 496.3C413.6 494.5 414.7 492.6 415.8 490.8C416.8 489 417.9 487.1 418.9 485.2C419.9 483.4 420.9 481.5 421.9 479.6C422.9 477.7 423.9 475.8 424.8 473.9C425.7 471.9 426.6 470 427.5 468.1C428.4 466.1 429.6 463.2 430.1 462.2"/>
<path class="c" d="M328.5 560.3C329.5 560.1 332.7 559.6 334.8 559.1C336.9 558.6 338.9 558 340.9 557.3C343 556.6 345 555.8 346.9 554.9C348.9 554.1 350.8 553.2 352.7 552.2C354.6 551.2 356.4 550.1 358.3 549C360.1 547.9 361.9 546.7 363.6 545.5C365.4 544.3 367.1 543 368.8 541.7C370.5 540.4 372.1 539 373.7 537.6C375.3 536.1 376.9 534.7 378.4 533.2C379.9 531.7 381.4 530.2 382.9 528.6C384.3 527 385.7 525.4 387.1 523.8C388.5 522.2 389.8 520.5 391.2 518.8C392.5 517.1 393.7 515.4 395 513.7C396.2 511.9 397.4 510.2 398.6 508.4C399.8 506.6 400.9 504.8 402 503C403.2 501.1 404.2 499.3 405.3 497.4C406.3 495.6 407.4 493.7 408.3 491.8C409.3 489.9 410.3 488 411.2 486.1C412.1 484.1 413 482.2 413.9 480.3C414.8 478.3 415.6 476.3 416.4 474.4C417.3 472.4 418.1 470.4 418.8 468.4C419.6 466.4 420.7 463.4 421 462.4"/>
<path class="c" d="M328.5 560.3C329.6 560.1 332.8 559.6 334.9 559C337 558.5 339 557.8 341 557C343.1 556.3 345.1 555.4 347 554.5C349 553.6 350.9 552.5 352.8 551.4C354.6 550.4 356.5 549.2 358.2 548C360 546.7 361.8 545.4 363.5 544.1C365.2 542.8 366.8 541.4 368.4 539.9C370 538.5 371.6 537 373.1 535.4C374.6 533.9 376.1 532.3 377.5 530.7C379 529 380.4 527.4 381.7 525.7C383.1 524 384.4 522.3 385.6 520.5C386.9 518.8 388.1 517 389.3 515.2C390.5 513.3 391.7 511.5 392.8 509.7C393.9 507.8 395 505.9 396 504C397 502.1 398 500.2 399 498.3C400 496.3 400.9 494.4 401.8 492.4C402.7 490.4 403.6 488.4 404.4 486.4C405.2 484.4 406 482.4 406.8 480.4C407.6 478.4 408.3 476.3 409 474.3C409.7 472.3 410.4 470.2 411.1 468.1C411.7 466.1 412.6 462.9 412.9 461.9"/>
<path class="c" d="M328.5 560.3C329.6 560.1 332.8 559.5 335 559C337.1 558.4 339.1 557.6 341.2 556.8C343.2 555.9 345.2 555 347.1 554C349.1 552.9 351 551.8 352.8 550.6C354.7 549.4 356.5 548.1 358.2 546.8C359.9 545.4 361.6 544 363.3 542.6C364.9 541.1 366.5 539.5 368 538C369.5 536.4 371 534.8 372.4 533.1C373.9 531.4 375.3 529.7 376.6 527.9C377.9 526.2 379.2 524.4 380.4 522.6C381.7 520.8 382.9 518.9 384 517C385.1 515.2 386.2 513.2 387.3 511.3C388.4 509.4 389.4 507.4 390.3 505.5C391.3 503.5 392.2 501.5 393.1 499.5C394 497.5 394.9 495.4 395.7 493.4C396.5 491.4 397.3 489.3 398 487.2C398.8 485.2 399.5 483.1 400.1 481C400.8 478.9 401.5 476.8 402.1 474.7C402.7 472.6 403.2 470.4 403.8 468.3C404.3 466.2 405.1 462.9 405.3 461.9"/>
<path class="c" d="M328.5 560.3C329.5 560.1 332.7 559.5 334.7 559C336.8 558.4 338.8 557.6 340.7 556.7C342.7 555.9 344.6 554.9 346.4 553.9C348.3 552.8 350.1 551.7 351.8 550.5C353.6 549.2 355.3 547.9 356.9 546.6C358.5 545.2 360.1 543.8 361.6 542.3C363.2 540.8 364.6 539.2 366 537.6C367.4 536 368.8 534.4 370.1 532.7C371.4 531 372.7 529.3 373.9 527.5C375.1 525.8 376.2 524 377.3 522.2C378.4 520.4 379.5 518.5 380.5 516.6C381.5 514.8 382.5 512.9 383.4 510.9C384.3 509 385.2 507.1 386 505.1C386.9 503.2 387.7 501.2 388.4 499.2C389.2 497.2 389.9 495.2 390.6 493.2C391.3 491.2 391.9 489.1 392.5 487.1C393.1 485.1 393.7 483 394.3 480.9C394.8 478.9 395.3 476.8 395.8 474.7C396.2 472.7 396.7 470.6 397.1 468.5C397.5 466.4 398 463.2 398.2 462.2"/>
<path class="c" d="M328.5 560.3C329.6 560.1 332.8 559.5 334.9 558.8C337 558.2 339 557.3 341 556.4C342.9 555.5 344.8 554.4 346.7 553.2C348.5 552.1 350.3 550.8 352 549.4C353.8 548.1 355.4 546.7 357 545.2C358.6 543.7 360.1 542.1 361.6 540.4C363 538.8 364.4 537.1 365.7 535.4C367.1 533.6 368.3 531.9 369.5 530C370.7 528.2 371.9 526.4 373 524.5C374.1 522.6 375.1 520.6 376.1 518.7C377.1 516.7 378 514.8 378.9 512.8C379.8 510.8 380.6 508.7 381.4 506.7C382.2 504.7 382.9 502.6 383.6 500.5C384.3 498.5 385 496.4 385.6 494.3C386.2 492.2 386.8 490.1 387.3 488C387.8 485.8 388.3 483.7 388.8 481.6C389.2 479.4 389.6 477.3 390 475.1C390.4 473 390.7 470.8 391 468.6C391.3 466.5 391.7 463.2 391.8 462.1"/>
<path class="c" d="M328.5 560.3C329.5 560.1 332.7 559.5 334.7 558.8C336.7 558.2 338.7 557.3 340.6 556.3C342.5 555.4 344.3 554.3 346.1 553.1C347.8 551.9 349.5 550.6 351.2 549.2C352.8 547.8 354.3 546.4 355.8 544.8C357.3 543.3 358.7 541.7 360 540.1C361.4 538.4 362.7 536.7 363.9 534.9C365.1 533.2 366.2 531.4 367.3 529.6C368.4 527.7 369.4 525.9 370.4 524C371.4 522.1 372.3 520.2 373.1 518.2C374 516.3 374.8 514.3 375.6 512.3C376.3 510.3 377 508.3 377.7 506.3C378.4 504.3 379 502.2 379.5 500.2C380.1 498.1 380.6 496 381.1 494C381.6 491.9 382 489.8 382.5 487.7C382.9 485.6 383.2 483.5 383.5 481.4C383.9 479.3 384.2 477.2 384.4 475.1C384.7 473 384.9 470.9 385.1 468.8C385.3 466.6 385.4 463.4 385.5 462.4"/>
<path class="c" d="M328.5 560.3C329.5 560 332.6 559.5 334.6 558.8C336.6 558.1 338.5 557.2 340.4 556.2C342.2 555.3 344 554.1 345.7 552.9C347.4 551.7 349 550.3 350.6 548.9C352.1 547.5 353.6 546 355 544.4C356.4 542.9 357.7 541.2 359 539.6C360.2 537.9 361.4 536.1 362.5 534.4C363.7 532.6 364.7 530.8 365.7 528.9C366.7 527.1 367.6 525.2 368.5 523.3C369.4 521.4 370.2 519.4 370.9 517.5C371.7 515.5 372.4 513.5 373.1 511.5C373.7 509.5 374.3 507.5 374.9 505.5C375.5 503.5 376 501.5 376.4 499.4C376.9 497.4 377.3 495.3 377.7 493.2C378.1 491.2 378.4 489.1 378.7 487C379 484.9 379.3 482.9 379.5 480.8C379.7 478.7 379.9 476.6 380.1 474.5C380.2 472.4 380.3 470.3 380.4 468.2C380.5 466.1 380.5 463 380.6 461.9"/>
<path class="c" d="M328.5 560.3C329.5 560 332.8 559.4 334.8 558.7C336.8 557.9 338.8 556.9 340.7 555.8C342.5 554.7 344.3 553.5 346 552.1C347.7 550.8 349.3 549.3 350.8 547.7C352.4 546.2 353.8 544.5 355.1 542.8C356.5 541.1 357.7 539.3 358.9 537.5C360.1 535.7 361.2 533.8 362.2 531.9C363.2 530 364.2 528 365.1 526C366 524.1 366.8 522 367.6 520C368.3 518 369 515.9 369.6 513.8C370.3 511.7 370.9 509.6 371.4 507.5C371.9 505.4 372.4 503.3 372.8 501.2C373.2 499 373.6 496.9 373.9 494.8C374.3 492.6 374.5 490.4 374.8 488.3C375 486.1 375.2 484 375.3 481.8C375.5 479.6 375.6 477.4 375.7 475.3C375.7 473.1 375.7 470.9 375.7 468.8C375.7 466.6 375.6 463.3 375.6 462.2"/>
<path class="c" d="M328.5 560.3C329.5 560 332.7 559.4 334.7 558.6C336.7 557.9 338.6 556.8 340.4 555.7C342.2 554.6 344 553.3 345.6 551.9C347.2 550.5 348.7 549 350.2 547.4C351.6 545.8 353 544.1 354.2 542.4C355.5 540.7 356.6 538.8 357.7 537C358.8 535.2 359.8 533.3 360.7 531.3C361.7 529.4 362.5 527.4 363.3 525.4C364.1 523.4 364.8 521.4 365.5 519.4C366.1 517.3 366.7 515.3 367.3 513.2C367.8 511.1 368.3 509 368.7 506.9C369.1 504.8 369.5 502.7 369.8 500.6C370.1 498.5 370.4 496.3 370.6 494.2C370.8 492.1 371 489.9 371.1 487.8C371.2 485.7 371.3 483.5 371.4 481.4C371.4 479.2 371.4 477.1 371.4 474.9C371.3 472.8 371.3 470.7 371.2 468.5C371 466.4 370.8 463.2 370.7 462.1"/>
<path class="c" d="M328.5 560.3C329.5 560 332.7 559.4 334.6 558.6C336.6 557.8 338.4 556.7 340.2 555.6C342 554.4 343.6 553.1 345.2 551.7C346.8 550.2 348.2 548.7 349.6 547.1C350.9 545.4 352.2 543.7 353.4 542C354.6 540.2 355.6 538.4 356.6 536.5C357.6 534.6 358.5 532.7 359.4 530.8C360.2 528.8 361 526.8 361.7 524.8C362.4 522.8 363 520.8 363.6 518.8C364.1 516.7 364.6 514.7 365.1 512.6C365.5 510.5 365.9 508.4 366.2 506.3C366.5 504.2 366.8 502.1 367 500C367.2 497.9 367.4 495.8 367.5 493.7C367.7 491.6 367.7 489.4 367.8 487.3C367.8 485.2 367.8 483.1 367.7 481C367.7 478.9 367.6 476.7 367.5 474.6C367.3 472.5 367.2 470.4 367 468.3C366.8 466.2 366.4 463 366.2 462"/>
<path class="c" d="M328.5 560.3C329.5 560 332.6 559.4 334.5 558.5C336.4 557.7 338.3 556.6 340 555.5C341.7 554.3 343.3 552.9 344.8 551.4C346.3 550 347.7 548.4 349 546.7C350.3 545.1 351.5 543.3 352.6 541.5C353.6 539.8 354.6 537.9 355.6 536C356.5 534.1 357.3 532.2 358 530.2C358.8 528.3 359.5 526.3 360.1 524.3C360.7 522.3 361.2 520.2 361.7 518.2C362.1 516.1 362.5 514.1 362.9 512C363.2 509.9 363.5 507.9 363.7 505.8C364 503.7 364.2 501.6 364.3 499.5C364.4 497.4 364.5 495.3 364.5 493.2C364.6 491.1 364.5 489 364.5 486.9C364.4 484.8 364.3 482.7 364.2 480.6C364 478.6 363.8 476.5 363.6 474.4C363.4 472.3 363.1 470.2 362.8 468.1C362.6 466.1 362 463 361.9 461.9"/>
<path class="c" d="M328.5 560.3C329.5 560 332.8 559.3 334.8 558.4C336.7 557.5 338.6 556.2 340.4 554.9C342.1 553.6 343.7 552.1 345.2 550.5C346.7 548.9 348 547.1 349.3 545.3C350.5 543.5 351.6 541.6 352.6 539.7C353.7 537.7 354.6 535.7 355.4 533.7C356.2 531.7 356.9 529.6 357.6 527.5C358.2 525.4 358.8 523.3 359.3 521.1C359.8 519 360.2 516.8 360.5 514.7C360.9 512.5 361.1 510.3 361.3 508.1C361.6 506 361.7 503.8 361.8 501.6C361.9 499.4 361.9 497.2 361.9 495C361.9 492.8 361.8 490.6 361.7 488.4C361.6 486.2 361.4 484 361.2 481.9C361 479.7 360.7 477.5 360.4 475.3C360.1 473.2 359.8 471 359.4 468.8C359 466.7 358.3 463.5 358.1 462.4"/>
<path class="c" d="M328.5 560.3C329.5 560 332.8 559.2 334.7 558.3C336.6 557.4 338.5 556.1 340.2 554.8C341.9 553.4 343.4 551.8 344.8 550.2C346.3 548.6 347.5 546.8 348.7 544.9C349.9 543.1 350.9 541.2 351.8 539.2C352.8 537.3 353.6 535.2 354.4 533.2C355.1 531.1 355.7 529.1 356.3 527C356.9 524.9 357.3 522.7 357.7 520.6C358.1 518.4 358.5 516.3 358.7 514.1C359 512 359.2 509.8 359.3 507.6C359.4 505.4 359.5 503.3 359.5 501.1C359.5 498.9 359.4 496.7 359.3 494.5C359.2 492.4 359 490.2 358.8 488C358.6 485.9 358.4 483.7 358.1 481.5C357.8 479.4 357.4 477.2 357 475.1C356.7 472.9 356.2 470.8 355.8 468.7C355.3 466.6 354.5 463.4 354.2 462.3"/>
<path class="c" d="M328.5 560.3C329.5 560 332.7 559.2 334.7 558.3C336.6 557.3 338.4 556 340 554.6C341.7 553.2 343.2 551.6 344.5 549.9C345.9 548.3 347.1 546.4 348.2 544.6C349.3 542.7 350.3 540.8 351.2 538.8C352.1 536.8 352.8 534.7 353.5 532.7C354.2 530.6 354.7 528.5 355.2 526.4C355.7 524.3 356.1 522.2 356.4 520C356.7 517.9 357 515.7 357.2 513.5C357.3 511.4 357.4 509.2 357.5 507C357.5 504.9 357.5 502.7 357.4 500.5C357.4 498.4 357.2 496.2 357.1 494C356.9 491.9 356.6 489.7 356.4 487.5C356.1 485.4 355.7 483.2 355.4 481.1C355 479 354.6 476.8 354.1 474.7C353.6 472.6 353.1 470.5 352.6 468.4C352 466.3 351.1 463.2 350.8 462.1"/>
<path class="c" d="M328.5 560.3C329.5 560 332.7 559.2 334.6 558.2C336.5 557.2 338.3 555.9 339.9 554.5C341.5 553 343 551.4 344.3 549.7C345.6 548 346.7 546.1 347.8 544.2C348.8 542.3 349.7 540.3 350.5 538.3C351.3 536.3 352 534.3 352.6 532.2C353.2 530.1 353.7 528 354.1 525.9C354.5 523.7 354.9 521.6 355.1 519.4C355.4 517.3 355.5 515.1 355.6 513C355.7 510.8 355.8 508.6 355.7 506.5C355.7 504.3 355.6 502.1 355.5 500C355.3 497.8 355.1 495.7 354.9 493.5C354.6 491.4 354.3 489.2 353.9 487.1C353.6 484.9 353.2 482.8 352.7 480.7C352.3 478.6 351.8 476.5 351.2 474.4C350.7 472.3 350.1 470.2 349.5 468.1C348.9 466 347.9 462.9 347.5 461.9"/>
<path class="c" d="M328.5 560.3C329.5 559.9 332.7 559.2 334.6 558.2C336.5 557.2 338.2 555.8 339.8 554.3C341.3 552.8 342.7 551.1 344 549.4C345.2 547.7 346.3 545.8 347.3 543.8C348.3 541.9 349.1 539.9 349.9 537.9C350.6 535.9 351.2 533.8 351.7 531.7C352.3 529.6 352.7 527.5 353 525.3C353.4 523.2 353.6 521 353.8 518.9C353.9 516.7 354 514.6 354.1 512.4C354.1 510.3 354 508.1 353.9 505.9C353.8 503.8 353.7 501.6 353.4 499.5C353.2 497.3 352.9 495.2 352.6 493.1C352.3 490.9 351.9 488.8 351.4 486.7C351 484.6 350.5 482.5 350 480.4C349.5 478.3 348.9 476.2 348.3 474.1C347.7 472 347 470 346.3 467.9C345.6 465.9 344.5 462.8 344.1 461.8"/>
<path class="c" d="M328.5 560.3C329.5 559.9 332.7 559.1 334.5 558.1C336.4 557.1 338.1 555.7 339.6 554.2C341.1 552.7 342.5 551 343.7 549.2C344.9 547.4 345.9 545.5 346.8 543.6C347.8 541.7 348.5 539.6 349.2 537.6C349.9 535.6 350.4 533.5 350.9 531.4C351.3 529.3 351.7 527.2 352 525C352.2 522.9 352.4 520.8 352.5 518.6C352.6 516.5 352.7 514.3 352.6 512.2C352.6 510 352.5 507.9 352.3 505.7C352.1 503.6 351.9 501.5 351.6 499.3C351.3 497.2 351 495.1 350.6 493C350.2 490.9 349.7 488.8 349.3 486.7C348.8 484.6 348.2 482.5 347.6 480.4C347 478.4 346.4 476.3 345.7 474.3C345.1 472.2 344.4 470.2 343.6 468.2C342.9 466.2 341.6 463.2 341.2 462.2"/>
<path class="c" d="M328.5 560.3C329.5 559.9 332.7 559.1 334.5 558.1C336.3 557 338 555.5 339.5 554C341 552.5 342.3 550.7 343.4 548.9C344.6 547.1 345.6 545.1 346.4 543.2C347.3 541.2 348 539.1 348.6 537.1C349.2 535 349.7 532.9 350.1 530.8C350.5 528.7 350.8 526.5 351 524.4C351.2 522.3 351.3 520.1 351.3 518C351.3 515.8 351.3 513.6 351.2 511.5C351.1 509.3 350.9 507.2 350.6 505.1C350.4 502.9 350.1 500.8 349.7 498.7C349.4 496.5 349 494.4 348.5 492.3C348 490.2 347.5 488.1 346.9 486.1C346.4 484 345.7 481.9 345.1 479.9C344.4 477.8 343.7 475.8 343 473.8C342.2 471.7 341.4 469.7 340.6 467.8C339.8 465.8 338.5 462.8 338 461.8"/>
<path class="c" d="M328.5 560.3C329.5 559.9 332.6 559.1 334.5 558C336.3 556.9 337.9 555.4 339.4 553.9C340.8 552.3 342 550.5 343.1 548.7C344.3 546.9 345.2 544.9 346 542.9C346.8 541 347.4 538.9 348 536.8C348.5 534.8 349 532.7 349.3 530.6C349.6 528.4 349.8 526.3 350 524.2C350.1 522 350.2 519.9 350.2 517.7C350.1 515.6 350 513.5 349.9 511.3C349.7 509.2 349.5 507.1 349.2 504.9C348.9 502.8 348.5 500.7 348.1 498.6C347.7 496.5 347.2 494.4 346.7 492.3C346.1 490.3 345.5 488.2 344.9 486.1C344.3 484.1 343.6 482.1 342.9 480C342.2 478 341.4 476 340.7 474C339.9 472 339 470.1 338.1 468.1C337.3 466.1 335.9 463.3 335.4 462.3"/>
<path class="c" d="M328.5 560.3C329.5 559.9 332.7 559.1 334.4 558C336.2 556.9 337.9 555.3 339.3 553.7C340.7 552.1 341.9 550.3 342.9 548.4C344 546.6 344.9 544.6 345.6 542.6C346.4 540.5 346.9 538.5 347.4 536.4C347.9 534.3 348.3 532.2 348.6 530C348.8 527.9 349 525.8 349.1 523.6C349.2 521.5 349.1 519.3 349 517.2C349 515 348.8 512.9 348.6 510.7C348.3 508.6 348 506.5 347.7 504.4C347.3 502.2 346.9 500.1 346.4 498C345.9 495.9 345.3 493.9 344.8 491.8C344.2 489.7 343.5 487.7 342.8 485.6C342.1 483.6 341.4 481.6 340.6 479.6C339.8 477.6 339 475.6 338.2 473.6C337.3 471.7 336.4 469.7 335.5 467.8C334.5 465.8 333 463 332.6 462"/>
<path class="c" d="M328.5 560.3C329.5 559.9 332.7 559 334.4 557.9C336.2 556.8 337.8 555.2 339.2 553.5C340.5 551.9 341.7 550 342.7 548.1C343.7 546.2 344.5 544.2 345.2 542.2C345.9 540.2 346.4 538.1 346.9 536C347.3 533.9 347.6 531.7 347.8 529.6C348 527.4 348.1 525.3 348.1 523.1C348.1 521 348 518.8 347.9 516.7C347.7 514.5 347.5 512.4 347.2 510.3C346.9 508.1 346.5 506 346.1 503.9C345.7 501.8 345.2 499.7 344.6 497.6C344.1 495.5 343.5 493.5 342.8 491.4C342.2 489.4 341.5 487.3 340.7 485.3C339.9 483.3 339.1 481.3 338.3 479.3C337.5 477.3 336.6 475.4 335.7 473.4C334.7 471.5 333.8 469.6 332.8 467.6C331.8 465.7 330.2 462.9 329.7 462"/>
<path class="c" d="M328.5 560.3C329.5 559.9 332.6 559 334.4 557.8C336.1 556.7 337.7 555 339 553.4C340.4 551.7 341.5 549.8 342.4 547.9C343.4 546 344.1 544 344.8 541.9C345.4 539.9 345.9 537.8 346.3 535.7C346.6 533.6 346.9 531.4 347 529.3C347.2 527.1 347.2 525 347.2 522.8C347.1 520.7 347 518.5 346.8 516.4C346.6 514.3 346.3 512.1 345.9 510C345.6 507.9 345.2 505.8 344.7 503.7C344.2 501.6 343.6 499.5 343 497.4C342.4 495.4 341.8 493.3 341 491.3C340.3 489.3 339.6 487.3 338.8 485.3C338 483.3 337.1 481.3 336.2 479.4C335.3 477.4 334.4 475.5 333.4 473.6C332.4 471.6 331.4 469.8 330.4 467.9C329.3 466 327.7 463.2 327.1 462.3"/>
<path class="c" d="M328.5 560.3C329.5 559.9 332.7 558.9 334.4 557.8C336.2 556.6 337.7 554.9 339 553.2C340.3 551.5 341.3 549.5 342.2 547.6C343.2 545.6 343.9 543.6 344.4 541.5C345 539.4 345.4 537.3 345.8 535.1C346.1 533 346.3 530.8 346.3 528.7C346.4 526.5 346.4 524.3 346.3 522.2C346.2 520 346 517.8 345.7 515.7C345.4 513.6 345.1 511.4 344.7 509.3C344.2 507.2 343.7 505.1 343.2 503C342.6 500.9 342 498.8 341.3 496.7C340.7 494.7 339.9 492.6 339.2 490.6C338.4 488.6 337.6 486.6 336.7 484.6C335.8 482.6 334.9 480.7 333.9 478.7C333 476.8 332 474.9 330.9 473C329.9 471.1 328.8 469.2 327.7 467.4C326.6 465.5 324.8 462.8 324.3 461.9"/>
<path class="c" d="M328.5 560.3C329.4 559.9 332.5 559 334.2 557.8C335.9 556.7 337.3 555 338.6 553.4C339.8 551.8 340.9 549.9 341.7 548C342.6 546.1 343.3 544.1 343.8 542.1C344.4 540.1 344.8 538 345.1 536C345.4 533.9 345.5 531.8 345.6 529.7C345.7 527.6 345.7 525.5 345.6 523.5C345.4 521.4 345.2 519.3 345 517.2C344.7 515.1 344.3 513.1 343.9 511C343.5 509 343 507 342.5 504.9C341.9 502.9 341.3 500.9 340.7 498.9C340 497 339.3 495 338.6 493C337.8 491.1 337 489.2 336.1 487.3C335.3 485.4 334.4 483.5 333.5 481.6C332.5 479.7 331.5 477.9 330.5 476.1C329.5 474.2 328.5 472.4 327.4 470.6C326.3 468.8 324.6 466.2 324.1 465.3"/>
<path class="c" d="M328.5 560.3C329.5 559.9 332.6 558.9 334.3 557.7C336 556.5 337.4 554.8 338.6 553.1C339.9 551.3 340.8 549.4 341.7 547.4C342.5 545.5 343.1 543.4 343.6 541.3C344.1 539.3 344.4 537.1 344.7 535C344.9 532.9 345 530.8 345 528.6C345 526.5 344.9 524.4 344.7 522.2C344.5 520.1 344.2 518 343.9 515.9C343.5 513.8 343.1 511.7 342.6 509.6C342.1 507.6 341.5 505.5 340.9 503.5C340.2 501.4 339.5 499.4 338.8 497.4C338.1 495.4 337.3 493.4 336.4 491.5C335.6 489.5 334.7 487.6 333.7 485.7C332.8 483.7 331.8 481.9 330.8 480C329.8 478.1 328.7 476.3 327.6 474.4C326.5 472.6 324.8 469.9 324.2 469"/>
<path class="c" d="M328.5 560.3C329.4 559.9 332.4 559 334.1 557.8C335.7 556.6 337.1 555 338.3 553.3C339.4 551.7 340.4 549.8 341.2 547.9C342 546 342.5 544 343 542C343.5 540 343.8 538 344 536C344.3 533.9 344.3 531.9 344.4 529.8C344.4 527.8 344.2 525.7 344.1 523.7C343.9 521.6 343.6 519.6 343.3 517.5C342.9 515.5 342.5 513.5 342 511.5C341.5 509.5 341 507.5 340.4 505.6C339.8 503.6 339.1 501.7 338.4 499.7C337.7 497.8 336.9 495.9 336.1 494C335.3 492.1 334.4 490.3 333.5 488.4C332.6 486.6 331.6 484.8 330.7 483C329.7 481.2 328.6 479.4 327.6 477.6C326.5 475.9 324.8 473.3 324.3 472.4"/>
<path class="c" d="M328.5 560.3C329.5 559.9 332.6 558.9 334.2 557.6C335.8 556.4 337.2 554.6 338.4 552.9C339.5 551.1 340.4 549.1 341.2 547.1C341.9 545.2 342.4 543.1 342.9 541C343.3 538.9 343.5 536.8 343.7 534.7C343.8 532.6 343.8 530.4 343.7 528.3C343.6 526.2 343.4 524.1 343.2 522C342.9 519.9 342.5 517.8 342.1 515.7C341.6 513.6 341.1 511.5 340.5 509.5C339.9 507.5 339.3 505.4 338.6 503.4C337.9 501.4 337.1 499.5 336.3 497.5C335.4 495.5 334.5 493.6 333.6 491.7C332.7 489.8 331.7 487.9 330.7 486C329.7 484.2 328.6 482.3 327.5 480.5C326.4 478.7 324.7 476 324.1 475.1"/>
<path class="c" d="M328.5 560.3C329.4 559.9 332.4 558.9 334 557.7C335.6 556.5 336.9 554.8 338 553.1C339.2 551.4 340 549.5 340.7 547.6C341.5 545.7 342 543.7 342.4 541.7C342.8 539.7 343 537.6 343.1 535.6C343.3 533.5 343.3 531.5 343.2 529.4C343.1 527.4 342.9 525.3 342.6 523.3C342.4 521.3 342 519.2 341.6 517.2C341.2 515.2 340.6 513.2 340.1 511.3C339.5 509.3 338.9 507.3 338.2 505.4C337.5 503.5 336.8 501.6 336 499.7C335.2 497.8 334.3 495.9 333.4 494.1C332.5 492.2 331.6 490.4 330.6 488.6C329.6 486.8 328.6 485 327.5 483.3C326.5 481.5 324.8 478.9 324.2 478.1"/>
<path class="c" d="M328.5 560.3C329.4 559.8 332.6 558.8 334.2 557.5C335.8 556.2 337.1 554.4 338.2 552.6C339.3 550.8 340.1 548.7 340.8 546.7C341.4 544.7 341.9 542.6 342.2 540.5C342.5 538.4 342.7 536.2 342.7 534.1C342.8 532 342.7 529.8 342.5 527.7C342.3 525.6 342 523.4 341.6 521.3C341.3 519.2 340.8 517.1 340.3 515.1C339.7 513 339.1 511 338.4 508.9C337.8 506.9 337 504.9 336.2 502.9C335.4 501 334.5 499 333.6 497.1C332.7 495.2 331.7 493.2 330.7 491.4C329.7 489.5 328.6 487.6 327.5 485.8C326.4 484 324.6 481.3 324.1 480.4"/>
<path class="c" d="M328.5 560.3C329.4 559.8 332.4 558.8 334 557.6C335.6 556.3 336.8 554.5 337.9 552.8C338.9 551.1 339.7 549.1 340.4 547.1C341 545.2 341.4 543.1 341.7 541.1C342.1 539.1 342.2 537 342.2 534.9C342.3 532.9 342.2 530.8 342 528.7C341.9 526.7 341.6 524.6 341.2 522.6C340.8 520.6 340.4 518.5 339.9 516.5C339.4 514.5 338.8 512.6 338.1 510.6C337.4 508.6 336.7 506.7 335.9 504.8C335.1 502.9 334.3 501 333.4 499.1C332.5 497.3 331.6 495.4 330.6 493.6C329.6 491.8 328.6 490 327.5 488.2C326.4 486.5 324.7 483.9 324.2 483"/>
<path class="c" d="M328.5 560.3C329.4 559.9 332.3 558.9 333.8 557.7C335.4 556.4 336.6 554.7 337.6 553C338.7 551.3 339.4 549.4 340 547.5C340.6 545.5 341 543.5 341.3 541.6C341.6 539.6 341.8 537.6 341.8 535.5C341.9 533.5 341.8 531.5 341.6 529.5C341.4 527.5 341.1 525.5 340.8 523.5C340.4 521.6 339.9 519.6 339.4 517.6C338.9 515.7 338.3 513.8 337.7 511.9C337 510 336.3 508.1 335.5 506.2C334.8 504.4 333.9 502.5 333.1 500.7C332.2 498.9 331.3 497.1 330.3 495.3C329.3 493.6 328.3 491.8 327.3 490.1C326.2 488.4 324.6 485.9 324 485"/>
<path class="c" d="M328.5 560.3C329.4 559.8 332.5 558.8 334 557.4C335.6 556.1 336.8 554.2 337.8 552.4C338.8 550.6 339.5 548.6 340 546.5C340.6 544.5 340.9 542.4 341.2 540.3C341.4 538.3 341.4 536.1 341.4 534C341.3 531.9 341.1 529.8 340.9 527.8C340.6 525.7 340.2 523.6 339.7 521.6C339.3 519.5 338.7 517.5 338.1 515.5C337.5 513.5 336.7 511.5 336 509.5C335.2 507.6 334.4 505.6 333.5 503.7C332.6 501.8 331.7 499.9 330.7 498.1C329.7 496.2 328.6 494.4 327.5 492.6C326.4 490.8 324.7 488.2 324.1 487.3"/>
<path class="c" d="M328.5 560.3C329.4 559.8 332.4 558.8 333.9 557.5C335.4 556.2 336.5 554.4 337.5 552.6C338.5 550.9 339.2 548.9 339.7 546.9C340.3 545 340.6 542.9 340.8 540.9C341 538.9 341 536.8 341 534.8C340.9 532.8 340.8 530.7 340.5 528.7C340.2 526.7 339.8 524.7 339.4 522.7C338.9 520.7 338.4 518.7 337.8 516.8C337.2 514.8 336.5 512.9 335.7 511C335 509.1 334.2 507.2 333.3 505.4C332.5 503.5 331.5 501.7 330.6 499.9C329.6 498.1 328.6 496.3 327.5 494.6C326.5 492.9 324.8 490.3 324.2 489.5"/>
<path class="c" d="M328.5 560.3C329.4 559.8 332.3 558.8 333.7 557.6C335.2 556.3 336.3 554.5 337.3 552.8C338.2 551.1 338.9 549.1 339.4 547.2C339.9 545.3 340.2 543.3 340.4 541.3C340.6 539.4 340.7 537.3 340.6 535.4C340.6 533.4 340.4 531.4 340.1 529.4C339.8 527.4 339.5 525.5 339 523.5C338.6 521.6 338 519.7 337.4 517.8C336.8 515.9 336.1 514 335.4 512.1C334.7 510.3 333.9 508.4 333 506.6C332.2 504.8 331.3 503.1 330.3 501.3C329.4 499.6 328.4 497.8 327.3 496.1C326.3 494.4 324.6 492 324.1 491.1"/>
<path class="c" d="M328.5 560.3C329.4 559.8 332.4 558.7 333.9 557.3C335.4 556 336.5 554 337.5 552.1C338.4 550.3 339 548.2 339.4 546.2C339.9 544.1 340.1 542 340.3 539.9C340.4 537.8 340.3 535.7 340.1 533.6C340 531.5 339.7 529.4 339.3 527.4C338.9 525.3 338.4 523.3 337.9 521.3C337.3 519.2 336.6 517.2 335.9 515.3C335.2 513.3 334.4 511.4 333.5 509.4C332.6 507.5 331.7 505.6 330.7 503.8C329.7 501.9 328.7 500.1 327.6 498.3C326.5 496.5 324.7 493.9 324.2 493"/>
<path class="c" d="M328.5 560.3C329.4 559.8 332.3 558.7 333.8 557.4C335.3 556 336.4 554.1 337.2 552.3C338.1 550.5 338.7 548.4 339.2 546.4C339.6 544.4 339.8 542.4 339.9 540.3C340 538.3 340 536.2 339.8 534.2C339.6 532.1 339.3 530.1 339 528.1C338.6 526.1 338.1 524 337.5 522.1C337 520.1 336.3 518.1 335.6 516.2C334.9 514.3 334.1 512.4 333.2 510.5C332.4 508.7 331.4 506.8 330.5 505C329.5 503.2 328.5 501.4 327.4 499.7C326.3 497.9 324.6 495.4 324 494.5"/>
<path class="c" d="M328.5 560.3C329.4 559.8 332.2 558.7 333.7 557.4C335.1 556.1 336.1 554.3 337 552.5C337.9 550.7 338.4 548.7 338.9 546.8C339.3 544.9 339.5 542.8 339.6 540.9C339.7 538.9 339.7 536.8 339.5 534.9C339.3 532.9 339.1 530.9 338.7 528.9C338.3 526.9 337.8 525 337.3 523.1C336.7 521.1 336.1 519.2 335.4 517.4C334.7 515.5 333.9 513.7 333.1 511.8C332.2 510 331.3 508.2 330.4 506.5C329.4 504.7 328.4 503 327.4 501.3C326.3 499.6 324.7 497.1 324.1 496.2"/>
<path class="c" d="M328.5 560.3C329.3 559.8 332.2 558.8 333.5 557.5C334.9 556.2 336 554.4 336.8 552.7C337.6 551 338.2 549 338.6 547.1C339 545.3 339.2 543.3 339.3 541.3C339.4 539.4 339.4 537.4 339.2 535.5C339.1 533.6 338.8 531.6 338.4 529.7C338 527.8 337.6 525.9 337 524C336.5 522.1 335.9 520.3 335.2 518.5C334.5 516.6 333.7 514.8 332.9 513.1C332.1 511.3 331.2 509.5 330.3 507.8C329.4 506.1 328.4 504.4 327.4 502.8C326.4 501.1 324.7 498.7 324.2 497.9"/>
<path class="c" d="M328.5 560.3C329.4 559.8 332.4 558.6 333.8 557.2C335.2 555.8 336.2 553.8 337 551.9C337.8 550 338.3 547.9 338.7 545.8C339 543.8 339.1 541.7 339.1 539.6C339.1 537.5 338.9 535.4 338.6 533.4C338.4 531.3 337.9 529.2 337.4 527.2C336.9 525.2 336.3 523.2 335.6 521.2C335 519.3 334.2 517.3 333.3 515.4C332.5 513.5 331.6 511.6 330.6 509.8C329.6 507.9 328.6 506.1 327.5 504.3C326.4 502.6 324.6 500 324.1 499.1"/>
<path class="c" d="M328.5 560.3C329.4 559.8 332.3 558.6 333.7 557.3C335.1 555.9 336 553.9 336.8 552.1C337.6 550.2 338.1 548.2 338.4 546.2C338.7 544.2 338.8 542.1 338.8 540.1C338.8 538.1 338.7 536 338.4 534C338.1 532 337.7 530 337.2 528C336.7 526 336.1 524.1 335.4 522.2C334.8 520.2 334 518.4 333.2 516.5C332.4 514.6 331.5 512.8 330.5 511C329.6 509.2 328.6 507.4 327.5 505.7C326.4 504 324.7 501.4 324.1 500.6"/>
<path class="c" d="M328.5 560.3C329.3 559.8 332.2 558.7 333.6 557.3C334.9 556 335.9 554 336.6 552.2C337.4 550.4 337.9 548.4 338.2 546.4C338.5 544.5 338.6 542.4 338.6 540.4C338.6 538.4 338.4 536.4 338.1 534.5C337.8 532.5 337.4 530.5 336.9 528.6C336.5 526.6 335.9 524.7 335.2 522.8C334.5 521 333.8 519.1 333 517.3C332.2 515.5 331.3 513.7 330.3 511.9C329.4 510.1 328.4 508.4 327.3 506.7C326.3 505 324.6 502.5 324 501.7"/>
<path class="c" d="M328.5 560.3C329.3 559.8 332.1 558.7 333.4 557.4C334.8 556.1 335.7 554.2 336.5 552.4C337.2 550.6 337.6 548.6 338 546.7C338.3 544.8 338.4 542.8 338.3 540.9C338.3 538.9 338.2 537 337.9 535.1C337.6 533.1 337.2 531.2 336.7 529.3C336.3 527.4 335.7 525.5 335 523.7C334.4 521.9 333.6 520.1 332.8 518.3C332.1 516.5 331.2 514.7 330.3 513C329.3 511.3 328.4 509.6 327.3 507.9C326.3 506.3 324.6 503.9 324.1 503.1"/>
<path class="c" d="M328.5 560.3C329.3 559.8 332 558.7 333.3 557.4C334.6 556.1 335.5 554.3 336.3 552.6C337 550.8 337.4 548.9 337.7 547C338.1 545.2 338.1 543.2 338.1 541.3C338.1 539.4 337.9 537.5 337.7 535.6C337.4 533.7 337 531.9 336.5 530C336.1 528.2 335.5 526.3 334.9 524.5C334.2 522.7 333.5 521 332.7 519.2C332 517.5 331.1 515.8 330.2 514.1C329.3 512.4 328.3 510.7 327.3 509.1C326.3 507.5 324.7 505.1 324.2 504.3"/>
<path class="c" d="M328.5 560.3C329.4 559.8 332.3 558.5 333.6 557C335 555.6 335.8 553.5 336.5 551.6C337.2 549.7 337.5 547.6 337.8 545.6C338 543.5 337.9 541.4 337.8 539.4C337.7 537.3 337.4 535.3 336.9 533.2C336.5 531.2 336 529.2 335.4 527.2C334.7 525.3 334 523.3 333.2 521.4C332.4 519.5 331.5 517.7 330.5 515.8C329.6 514 328.6 512.2 327.5 510.5C326.4 508.7 324.6 506.2 324.1 505.3"/>
<path class="c" d="M328.5 560.3C329.3 559.8 332.2 558.5 333.5 557.1C334.8 555.7 335.7 553.7 336.3 551.8C337 549.9 337.3 547.9 337.6 545.9C337.8 543.9 337.7 541.8 337.6 539.8C337.5 537.8 337.2 535.8 336.8 533.8C336.4 531.8 335.8 529.9 335.2 528C334.6 526 333.9 524.1 333.1 522.3C332.3 520.4 331.4 518.6 330.5 516.8C329.6 515 328.5 513.2 327.5 511.5C326.4 509.8 324.7 507.3 324.1 506.5"/>
<path class="c" d="M328.5 560.3C329.3 559.8 332.1 558.6 333.4 557.2C334.7 555.8 335.5 553.8 336.2 551.9C336.8 550.1 337.2 548 337.4 546.1C337.6 544.1 337.5 542.1 337.4 540.1C337.3 538.1 336.9 536.2 336.5 534.2C336.1 532.3 335.6 530.3 335 528.4C334.4 526.6 333.7 524.7 332.9 522.9C332.1 521 331.2 519.2 330.3 517.5C329.4 515.7 328.4 514 327.3 512.3C326.3 510.6 324.6 508.2 324 507.3"/>
<path class="c" d="M328.5 560.3C329.3 559.8 332.1 558.6 333.3 557.2C334.6 555.9 335.4 553.9 336 552.1C336.7 550.3 337 548.3 337.2 546.4C337.4 544.4 337.3 542.5 337.2 540.5C337.1 538.6 336.8 536.6 336.4 534.7C336 532.8 335.4 530.9 334.9 529.1C334.3 527.2 333.6 525.4 332.8 523.6C332 521.8 331.2 520.1 330.3 518.4C329.4 516.6 328.4 514.9 327.3 513.3C326.3 511.6 324.6 509.2 324.1 508.4"/>
<path class="c" d="M328.5 560.3C329.3 559.8 332 558.6 333.2 557.3C334.5 555.9 335.2 554 335.9 552.2C336.5 550.5 336.8 548.5 337 546.6C337.2 544.8 337.2 542.8 337 540.9C336.9 539 336.6 537.1 336.2 535.3C335.8 533.4 335.3 531.5 334.7 529.7C334.1 527.9 333.4 526.1 332.7 524.4C331.9 522.6 331.1 520.9 330.2 519.2C329.3 517.5 328.4 515.9 327.3 514.2C326.3 512.6 324.7 510.3 324.2 509.5"/>
<path class="c" d="M328.5 560.3C329.3 559.8 331.9 558.6 333.1 557.3C334.4 556 335.1 554.1 335.7 552.3C336.4 550.6 336.7 548.7 336.8 546.8C337 545 337 543 336.8 541.2C336.7 539.3 336.4 537.4 336 535.6C335.6 533.8 335.1 531.9 334.5 530.1C333.9 528.4 333.3 526.6 332.5 524.9C331.8 523.2 330.9 521.5 330 519.8C329.2 518.1 328.2 516.5 327.2 514.9C326.2 513.3 324.6 511 324.1 510.2"/>
<path class="c" d="M328.5 560.3C329.3 559.7 332.2 558.4 333.4 556.9C334.7 555.4 335.4 553.3 336 551.3C336.5 549.4 336.7 547.3 336.8 545.2C336.8 543.2 336.7 541.1 336.4 539.1C336.1 537.1 335.7 535.1 335.1 533.1C334.6 531.1 333.9 529.2 333.1 527.3C332.4 525.4 331.5 523.5 330.6 521.7C329.6 519.8 328.6 518.1 327.5 516.3C326.5 514.6 324.7 512.1 324.1 511.2"/>
<path class="c" d="M328.5 560.3C329.3 559.7 332.1 558.4 333.4 556.9C334.6 555.4 335.3 553.3 335.8 551.4C336.4 549.5 336.6 547.4 336.6 545.4C336.7 543.4 336.5 541.4 336.2 539.4C335.9 537.4 335.5 535.4 334.9 533.4C334.4 531.5 333.7 529.6 333 527.7C332.2 525.8 331.3 524 330.4 522.2C329.5 520.4 328.5 518.6 327.4 516.9C326.3 515.2 324.6 512.7 324 511.9"/>
<path class="c" d="M328.5 560.3C329.3 559.7 332.1 558.4 333.3 557C334.5 555.5 335.2 553.5 335.7 551.6C336.2 549.7 336.4 547.7 336.5 545.7C336.5 543.7 336.3 541.7 336.1 539.8C335.8 537.8 335.3 535.8 334.8 533.9C334.3 532 333.6 530.1 332.9 528.3C332.1 526.5 331.3 524.7 330.4 522.9C329.5 521.1 328.5 519.4 327.4 517.7C326.4 516 324.6 513.6 324.1 512.8"/>
<path class="c" d="M328.5 560.3C329.3 559.8 332 558.5 333.2 557C334.4 555.6 335 553.6 335.6 551.7C336.1 549.9 336.2 547.9 336.3 546C336.4 544 336.2 542 335.9 540.1C335.7 538.2 335.2 536.3 334.7 534.4C334.2 532.5 333.5 530.7 332.8 528.9C332 527.1 331.2 525.3 330.3 523.6C329.4 521.9 328.4 520.2 327.4 518.5C326.4 516.9 324.7 514.5 324.1 513.7"/>
<path class="c" d="M328.5 560.3C329.3 559.8 332 558.5 333.1 557.1C334.3 555.7 334.9 553.7 335.4 551.8C336 550 336.1 548 336.2 546.1C336.2 544.2 336 542.3 335.8 540.4C335.5 538.5 335 536.6 334.5 534.7C334 532.9 333.3 531.1 332.6 529.3C331.9 527.5 331.1 525.7 330.2 524C329.3 522.3 328.3 520.7 327.3 519C326.3 517.4 324.6 515.1 324 514.3"/>
<path class="c" d="M328.5 560.3C329.3 559.8 331.9 558.5 333 557.1C334.2 555.7 334.8 553.8 335.3 552C335.8 550.2 336 548.2 336 546.4C336.1 544.5 335.9 542.6 335.6 540.7C335.4 538.8 334.9 537 334.4 535.2C333.9 533.4 333.2 531.6 332.5 529.8C331.8 528.1 331 526.4 330.1 524.7C329.3 523 328.3 521.4 327.3 519.8C326.3 518.2 324.6 515.9 324.1 515.1"/>
<path class="c" d="M328.5 560.3C329.2 559.8 331.9 558.5 333 557.2C334.1 555.8 334.7 553.8 335.2 552.1C335.7 550.3 335.9 548.4 335.9 546.5C335.9 544.7 335.8 542.8 335.5 540.9C335.2 539.1 334.8 537.2 334.3 535.5C333.7 533.7 333.1 531.9 332.4 530.2C331.7 528.4 330.9 526.8 330 525.1C329.1 523.5 328.2 521.8 327.2 520.3C326.2 518.7 324.5 516.4 324 515.6"/>
<path class="c" d="M328.5 560.3C329.2 559.8 331.8 558.6 332.9 557.2C334 555.9 334.6 553.9 335.1 552.2C335.6 550.5 335.7 548.6 335.8 546.7C335.8 544.9 335.6 543.1 335.4 541.2C335.1 539.4 334.7 537.6 334.2 535.9C333.6 534.1 333 532.4 332.3 530.7C331.6 529 330.8 527.3 330 525.7C329.1 524.1 328.2 522.5 327.2 520.9C326.2 519.4 324.6 517.2 324.1 516.4"/>
<path class="c" d="M328.5 560.3C329.3 559.7 332.1 558.3 333.2 556.7C334.3 555.2 334.9 553 335.3 551C335.7 549 335.7 546.9 335.6 544.9C335.5 542.9 335.2 540.9 334.7 538.9C334.3 536.9 333.7 535 333 533.1C332.3 531.2 331.4 529.3 330.5 527.5C329.6 525.7 328.6 523.9 327.6 522.2C326.5 520.4 324.7 518 324.1 517.1"/>
<path class="c" d="M328.5 560.3C329.3 559.7 332 558.3 333.1 556.7C334.2 555.2 334.8 553 335.2 551.1C335.6 549.1 335.6 547.1 335.5 545.1C335.4 543.1 335 541.1 334.6 539.1C334.2 537.2 333.5 535.2 332.8 533.4C332.1 531.5 331.3 529.6 330.4 527.8C329.5 526 328.5 524.3 327.4 522.6C326.4 520.9 324.6 518.5 324 517.6"/>
<path class="c" d="M328.5 560.3C329.3 559.7 332 558.3 333.1 556.8C334.2 555.3 334.7 553.1 335.1 551.2C335.4 549.3 335.5 547.3 335.4 545.3C335.3 543.4 334.9 541.4 334.5 539.5C334.1 537.5 333.5 535.6 332.8 533.8C332.1 531.9 331.3 530.1 330.4 528.4C329.5 526.6 328.5 524.9 327.4 523.2C326.4 521.5 324.6 519.1 324.1 518.3"/>
<path class="c" d="M328.5 560.3C329.2 559.7 331.9 558.3 333 556.8C334.1 555.4 334.6 553.3 335 551.4C335.3 549.5 335.3 547.5 335.2 545.6C335.2 543.6 334.8 541.7 334.4 539.8C334 537.9 333.4 536 332.7 534.2C332 532.4 331.2 530.6 330.3 528.9C329.5 527.1 328.5 525.4 327.5 523.8C326.4 522.1 324.7 519.8 324.1 519"/>
<path class="c" d="M328.5 560.3C329.2 559.7 331.9 558.3 332.9 556.9C334 555.4 334.5 553.3 334.9 551.5C335.2 549.6 335.2 547.6 335.1 545.7C335 543.8 334.7 541.9 334.3 540C333.8 538.1 333.2 536.3 332.6 534.5C331.9 532.7 331.1 530.9 330.2 529.2C329.3 527.5 328.4 525.8 327.3 524.2C326.3 522.5 324.6 520.2 324 519.4"/>
<path class="c" d="M328.5 560.3C329.2 559.7 331.8 558.4 332.9 556.9C333.9 555.5 334.4 553.4 334.8 551.6C335.1 549.8 335.1 547.8 335 545.9C334.9 544 334.6 542.1 334.2 540.3C333.8 538.4 333.2 536.6 332.5 534.9C331.8 533.1 331 531.4 330.2 529.7C329.3 528 328.4 526.3 327.3 524.7C326.3 523.1 324.6 520.8 324.1 520"/>
<path class="c" d="M328.5 560.3C329.2 559.7 331.8 558.4 332.8 556.9C333.8 555.5 334.3 553.5 334.7 551.7C335 549.8 335 547.9 334.9 546C334.8 544.2 334.5 542.3 334.1 540.5C333.6 538.7 333 536.9 332.4 535.1C331.7 533.3 330.9 531.6 330.1 530C329.2 528.3 328.2 526.7 327.2 525.1C326.2 523.5 324.5 521.2 324 520.5"/>
<path class="c" d="M328.5 560.3C329.2 559.7 331.7 558.4 332.8 557C333.8 555.6 334.2 553.6 334.6 551.8C334.9 550 334.9 548.1 334.8 546.2C334.7 544.4 334.4 542.6 334 540.8C333.5 539 333 537.2 332.3 535.5C331.7 533.7 330.9 532.1 330 530.4C329.2 528.8 328.2 527.2 327.2 525.6C326.3 524 324.6 521.8 324.1 521.1"/>
<path class="c" d="M328.5 560.3C329.2 559.8 331.7 558.4 332.7 557C333.7 555.6 334.2 553.7 334.5 551.9C334.8 550.1 334.8 548.3 334.7 546.5C334.6 544.6 334.3 542.8 333.9 541.1C333.5 539.3 332.9 537.5 332.2 535.8C331.6 534.1 330.8 532.5 330 530.8C329.2 529.2 328.2 527.6 327.3 526.1C326.3 524.6 324.6 522.4 324.1 521.6"/>
<path class="c" d="M328.5 560.3C329.2 559.8 331.7 558.5 332.6 557.1C333.6 555.7 334.1 553.7 334.4 552C334.7 550.2 334.7 548.4 334.6 546.6C334.5 544.8 334.2 543 333.8 541.2C333.4 539.5 332.8 537.7 332.1 536C331.5 534.4 330.7 532.7 329.9 531.1C329.1 529.5 328.1 527.9 327.2 526.4C326.2 524.9 324.5 522.7 324 522"/>
<path class="c" d="M328.5 560.3C329.2 559.8 331.6 558.5 332.6 557.1C333.6 555.7 334 553.8 334.3 552.1C334.7 550.4 334.6 548.5 334.5 546.8C334.4 545 334.1 543.2 333.7 541.5C333.3 539.8 332.7 538 332.1 536.4C331.4 534.7 330.7 533.1 329.9 531.5C329 529.9 328.1 528.4 327.2 526.9C326.2 525.4 324.6 523.3 324.1 522.5"/>
<path class="c" d="M328.5 560.3C329.2 559.8 331.6 558.5 332.5 557.2C333.5 555.8 333.9 553.9 334.2 552.2C334.6 550.5 334.6 548.7 334.4 546.9C334.3 545.2 334 543.4 333.6 541.7C333.2 540 332.6 538.4 332 536.7C331.4 535.1 330.6 533.5 329.8 531.9C329 530.4 328.1 528.9 327.2 527.4C326.2 525.9 324.6 523.8 324.1 523.1"/>
<path class="c" d="M328.5 560.3C329.2 559.7 331.9 558.1 332.8 556.5C333.8 554.9 334.1 552.7 334.4 550.8C334.6 548.8 334.4 546.8 334.1 544.8C333.8 542.9 333.3 540.9 332.7 539C332.1 537.1 331.3 535.3 330.4 533.5C329.5 531.7 328.5 530 327.5 528.3C326.4 526.6 324.6 524.2 324 523.4"/>
<path class="c" d="M328.5 560.3C329.2 559.7 331.8 558.1 332.8 556.6C333.7 555 334.1 552.8 334.3 550.9C334.5 549 334.3 547 334 545C333.7 543.1 333.2 541.2 332.6 539.3C332 537.4 331.2 535.6 330.4 533.9C329.5 532.1 328.5 530.4 327.5 528.7C326.4 527.1 324.7 524.7 324.1 523.9"/>
<path class="c" d="M328.5 560.3C329.2 559.7 331.8 558.1 332.7 556.6C333.7 555 334 552.9 334.2 551C334.4 549.1 334.2 547 333.9 545.1C333.6 543.2 333.1 541.3 332.5 539.5C331.9 537.6 331.1 535.8 330.3 534.1C329.4 532.3 328.4 530.6 327.4 529C326.3 527.3 324.6 525 324 524.2"/>
<path class="c" d="M328.5 560.3C329.2 559.7 331.7 558.2 332.7 556.6C333.6 555.1 333.9 553 334.1 551.1C334.3 549.2 334.1 547.2 333.9 545.3C333.6 543.4 333.1 541.6 332.5 539.7C331.9 537.9 331.1 536.1 330.2 534.4C329.4 532.7 328.4 531 327.4 529.4C326.4 527.8 324.6 525.5 324.1 524.7"/>
<path class="c" d="M328.5 560.3C329.2 559.7 331.7 558.2 332.6 556.7C333.6 555.2 333.9 553.1 334 551.2C334.2 549.3 334.1 547.4 333.8 545.5C333.5 543.7 333 541.8 332.4 540C331.8 538.2 331 536.5 330.2 534.8C329.4 533.1 328.4 531.4 327.4 529.8C326.4 528.2 324.7 525.9 324.1 525.2"/>
<path class="c" d="M328.5 560.3C329.2 559.7 331.7 558.2 332.6 556.7C333.5 555.2 333.8 553.1 334 551.3C334.2 549.4 334 547.5 333.7 545.6C333.4 543.8 332.9 541.9 332.3 540.2C331.7 538.4 330.9 536.6 330.1 534.9C329.3 533.3 328.3 531.6 327.3 530C326.3 528.5 324.6 526.2 324 525.4"/>
<path class="c" d="M328.5 560.3C329.2 559.7 331.6 558.2 332.5 556.7C333.4 555.3 333.7 553.2 333.9 551.4C334.1 549.5 333.9 547.6 333.6 545.8C333.4 544 332.8 542.2 332.3 540.4C331.7 538.6 330.9 536.9 330.1 535.3C329.3 533.6 328.3 532 327.3 530.4C326.3 528.9 324.6 526.6 324.1 525.9"/>
<path class="c" d="M328.5 560.3C329.2 559.7 331.6 558.3 332.5 556.8C333.4 555.3 333.7 553.3 333.8 551.5C334 549.7 333.8 547.8 333.6 546C333.3 544.2 332.8 542.4 332.2 540.7C331.6 538.9 330.9 537.2 330.1 535.6C329.2 533.9 328.3 532.3 327.3 530.8C326.3 529.3 324.6 527.1 324.1 526.3"/>
<path class="c" d="M328.5 560.3C329.2 559.7 331.6 558.3 332.4 556.8C333.3 555.3 333.6 553.3 333.8 551.5C333.9 549.7 333.8 547.9 333.5 546.1C333.2 544.3 332.7 542.5 332.1 540.8C331.5 539.1 330.8 537.4 330 535.8C329.2 534.1 328.2 532.5 327.2 531C326.2 529.5 324.6 527.3 324 526.6"/>
<path class="c" d="M328.5 560.3C329.2 559.7 331.5 558.3 332.4 556.8C333.3 555.4 333.5 553.4 333.7 551.6C333.9 549.9 333.7 548 333.4 546.2C333.1 544.5 332.6 542.7 332.1 541C331.5 539.3 330.7 537.7 329.9 536.1C329.1 534.4 328.2 532.9 327.2 531.4C326.3 529.9 324.6 527.7 324.1 527"/>
<path class="c" d="M328.5 560.3C329.1 559.7 331.5 558.3 332.4 556.9C333.2 555.5 333.5 553.5 333.6 551.7C333.8 550 333.6 548.2 333.4 546.4C333.1 544.7 332.6 542.9 332 541.2C331.4 539.6 330.7 537.9 329.9 536.3C329.1 534.8 328.2 533.2 327.2 531.7C326.3 530.2 324.6 528.1 324.1 527.4"/>
<path class="c" d="M328.5 560.3C329.1 559.7 331.5 558.3 332.3 556.9C333.2 555.5 333.4 553.5 333.6 551.8C333.7 550 333.6 548.2 333.3 546.5C333 544.8 332.5 543 331.9 541.4C331.4 539.7 330.6 538.1 329.8 536.5C329 534.9 328.1 533.4 327.2 531.9C326.2 530.4 324.6 528.3 324 527.6"/>
<path class="c" d="M328.5 560.3C329.1 559.7 331.4 558.3 332.3 556.9C333.1 555.5 333.4 553.6 333.5 551.9C333.7 550.2 333.5 548.4 333.2 546.7C332.9 544.9 332.5 543.2 331.9 541.6C331.3 539.9 330.6 538.3 329.8 536.8C329 535.2 328.1 533.7 327.2 532.2C326.2 530.8 324.6 528.7 324.1 528"/>
<path class="c" d="M328.5 560.3C329.1 559.7 331.4 558.4 332.2 557C333.1 555.6 333.3 553.6 333.5 551.9C333.6 550.2 333.4 548.4 333.1 546.7C332.9 545 332.4 543.3 331.8 541.7C331.2 540.1 330.5 538.5 329.7 536.9C328.9 535.4 328 533.9 327.1 532.4C326.1 531 324.5 528.9 324 528.2"/>
<path class="c" d="M328.5 560.3C329.1 559.7 331.4 558.4 332.2 557C333 555.6 333.3 553.7 333.4 552C333.6 550.3 333.4 548.6 333.1 546.9C332.8 545.2 332.3 543.5 331.8 541.9C331.2 540.3 330.5 538.7 329.7 537.2C328.9 535.7 328 534.2 327.1 532.8C326.1 531.3 324.6 529.3 324 528.6"/>
<path class="c" d="M328.5 560.3C329.1 559.8 331.3 558.4 332.2 557C333 555.7 333.2 553.8 333.3 552.1C333.5 550.4 333.3 548.7 333 547C332.8 545.4 332.3 543.7 331.7 542.1C331.2 540.5 330.5 539 329.7 537.5C328.9 535.9 328 534.5 327.1 533.1C326.2 531.6 324.6 529.6 324.1 529"/>
<path class="c" d="M328.5 560.3C329.1 559.8 331.3 558.4 332.1 557C332.9 555.7 333.2 553.8 333.3 552.1C333.4 550.5 333.2 548.8 333 547.1C332.7 545.4 332.2 543.8 331.6 542.2C331.1 540.6 330.4 539.1 329.6 537.6C328.8 536.1 328 534.6 327 533.2C326.1 531.8 324.5 529.8 324 529.2"/>
<path class="c" d="M328.5 560.3C329.1 559.8 331.3 558.4 332.1 557.1C332.9 555.7 333.1 553.9 333.2 552.2C333.4 550.6 333.2 548.9 332.9 547.2C332.6 545.6 332.2 544 331.6 542.4C331.1 540.8 330.3 539.3 329.6 537.8C328.8 536.4 328 534.9 327 533.5C326.1 532.1 324.5 530.2 324.1 529.5"/>
<path class="c" d="M328.5 560.3C329.1 559.6 331.6 558 332.4 556.4C333.2 554.7 333.2 552.6 333.2 550.7C333.2 548.8 332.8 546.8 332.3 545C331.8 543.1 331.1 541.3 330.3 539.6C329.5 537.8 328.5 536.1 327.5 534.5C326.5 532.9 324.7 530.6 324.1 529.8"/>
<path class="c" d="M328.5 560.3C329.1 559.6 331.6 558 332.3 556.4C333.1 554.8 333.2 552.6 333.2 550.7C333.1 548.8 332.7 546.9 332.2 545C331.8 543.2 331 541.4 330.2 539.7C329.4 537.9 328.4 536.3 327.4 534.7C326.4 533.1 324.6 530.8 324 530"/>
<path class="c" d="M328.5 560.3C329.1 559.7 331.5 558 332.3 556.4C333.1 554.8 333.1 552.7 333.1 550.8C333.1 548.9 332.7 547 332.2 545.2C331.7 543.4 331 541.6 330.2 539.9C329.4 538.2 328.4 536.5 327.4 534.9C326.4 533.3 324.6 531.1 324.1 530.4"/>
<path class="c" d="M328.5 560.3C329.1 559.7 331.5 558 332.3 556.4C333 554.9 333.1 552.8 333.1 550.9C333 549.1 332.6 547.2 332.2 545.4C331.7 543.6 331 541.8 330.2 540.1C329.4 538.4 328.4 536.8 327.4 535.2C326.4 533.6 324.6 531.4 324.1 530.7"/>
<path class="c" d="M328.5 560.3C329.1 559.7 331.5 558 332.2 556.5C333 554.9 333 552.8 333 550.9C333 549.1 332.6 547.2 332.1 545.4C331.6 543.6 330.9 541.9 330.1 540.2C329.3 538.5 328.4 536.9 327.3 535.3C326.3 533.8 324.6 531.6 324 530.8"/>
<path class="c" d="M328.5 560.3C329.1 559.7 331.4 558 332.2 556.5C332.9 555 333 552.9 333 551C332.9 549.2 332.5 547.4 332.1 545.6C331.6 543.8 330.9 542.1 330.1 540.4C329.3 538.8 328.4 537.1 327.4 535.6C326.3 534.1 324.6 531.9 324.1 531.2"/>
<path class="c" d="M328.5 560.3C329.1 559.7 331.4 558.1 332.2 556.5C332.9 555 332.9 552.9 332.9 551.1C332.9 549.3 332.5 547.5 332 545.7C331.5 544 330.8 542.3 330.1 540.6C329.3 539 328.4 537.4 327.4 535.9C326.4 534.3 324.6 532.2 324.1 531.4"/>
<path class="c" d="M328.5 560.3C329.1 559.7 331.4 558.1 332.1 556.5C332.8 555 332.9 553 332.9 551.2C332.8 549.4 332.4 547.5 332 545.8C331.5 544.1 330.8 542.4 330 540.7C329.2 539.1 328.3 537.5 327.3 536C326.3 534.5 324.6 532.3 324 531.6"/>
<path class="c" d="M328.5 560.3C329.1 559.7 331.4 558.1 332.1 556.6C332.8 555.1 332.8 553 332.8 551.3C332.8 549.5 332.4 547.7 331.9 545.9C331.4 544.2 330.7 542.5 330 540.9C329.2 539.3 328.3 537.7 327.3 536.2C326.3 534.7 324.6 532.6 324.1 531.9"/>
<path class="c" d="M328.5 560.3C329.1 559.7 331.3 558.1 332.1 556.6C332.8 555.1 332.8 553.1 332.8 551.3C332.7 549.6 332.3 547.8 331.9 546.1C331.4 544.4 330.7 542.7 330 541.1C329.2 539.5 328.3 537.9 327.3 536.5C326.3 535 324.6 532.9 324.1 532.2"/>
<path class="c" d="M328.5 560.3C329.1 559.7 331.3 558.1 332 556.6C332.7 555.1 332.8 553.1 332.7 551.4C332.7 549.6 332.3 547.8 331.8 546.1C331.3 544.4 330.7 542.8 329.9 541.2C329.1 539.6 328.2 538.1 327.2 536.6C326.2 535.1 324.6 533 324 532.3"/>
<path class="c" d="M328.5 560.3C329.1 559.7 331.3 558.1 332 556.7C332.7 555.2 332.7 553.2 332.7 551.5C332.6 549.7 332.3 548 331.8 546.3C331.3 544.6 330.6 543 329.9 541.4C329.1 539.8 328.2 538.3 327.2 536.8C326.3 535.3 324.6 533.3 324.1 532.6"/>
<path class="c" d="M328.5 560.3C329.1 559.7 331.3 558.2 332 556.7C332.6 555.2 332.7 553.3 332.6 551.5C332.6 549.8 332.2 548.1 331.7 546.4C331.3 544.7 330.6 543.1 329.9 541.6C329.1 540 328.2 538.5 327.2 537C326.3 535.6 324.6 533.6 324.1 532.9"/>
<path class="c" d="M328.5 560.3C329.1 559.7 331.3 558.2 331.9 556.7C332.6 555.3 332.6 553.3 332.6 551.6C332.6 549.9 332.2 548.1 331.7 546.5C331.2 544.8 330.5 543.2 329.8 541.6C329 540.1 328.1 538.6 327.2 537.1C326.2 535.7 324.6 533.7 324 533"/>
<path class="c" d="M328.5 560.3C329.1 559.7 331.2 558.2 331.9 556.7C332.6 555.3 332.6 553.3 332.6 551.7C332.5 550 332.1 548.2 331.7 546.6C331.2 545 330.5 543.3 329.8 541.8C329 540.3 328.1 538.8 327.2 537.4C326.2 535.9 324.6 533.9 324.1 533.3"/>
<path class="c" d="M328.5 560.3C329.1 559.7 331.2 558.2 331.9 556.8C332.5 555.3 332.6 553.4 332.5 551.7C332.5 550.1 332.1 548.3 331.6 546.7C331.2 545.1 330.5 543.5 329.8 542C329 540.5 328.1 539 327.2 537.6C326.2 536.2 324.6 534.2 324.1 533.5"/>
<path class="c" d="M328.5 560.3C329.1 559.7 331.2 558.2 331.8 556.8C332.5 555.4 332.5 553.4 332.5 551.8C332.4 550.1 332 548.4 331.6 546.8C331.1 545.1 330.4 543.6 329.7 542C328.9 540.5 328.1 539.1 327.1 537.7C326.2 536.3 324.5 534.3 324 533.6"/>
<path class="c" d="M328.5 560.3C329.1 559.7 331.2 558.2 331.8 556.8C332.5 555.4 332.5 553.5 332.4 551.8C332.4 550.2 332 548.5 331.5 546.9C331.1 545.3 330.4 543.7 329.7 542.2C328.9 540.7 328.1 539.3 327.1 537.9C326.2 536.5 324.6 534.5 324.1 533.9"/>
<path class="c" d="M328.5 560.3C329 559.7 331.1 558.2 331.8 556.8C332.4 555.4 332.4 553.6 332.4 551.9C332.4 550.3 332 548.6 331.5 547C331.1 545.4 330.4 543.9 329.7 542.4C328.9 540.9 328.1 539.5 327.1 538.1C326.2 536.7 324.6 534.8 324.1 534.1"/>
<path class="c" d="M328.5 560.3C329 559.7 331.1 558.2 331.8 556.8C332.4 555.5 332.4 553.6 332.4 551.9C332.3 550.3 331.9 548.6 331.5 547.1C331 545.5 330.3 543.9 329.6 542.4C328.9 541 328 539.5 327.1 538.2C326.1 536.8 324.5 534.9 324 534.2"/>
<path class="c" d="M328.5 560.3C329 559.7 331.1 558.3 331.7 556.9C332.4 555.5 332.4 553.6 332.3 552C332.3 550.4 331.9 548.7 331.4 547.2C331 545.6 330.3 544.1 329.6 542.6C328.9 541.1 328 539.7 327.1 538.4C326.2 537 324.6 535.1 324.1 534.5"/>
<path class="c" d="M328.5 560.3C329 559.7 331.1 558.3 331.7 556.9C332.3 555.5 332.3 553.7 332.3 552.1C332.2 550.5 331.9 548.8 331.4 547.3C330.9 545.7 330.3 544.2 329.6 542.8C328.9 541.3 328 539.9 327.1 538.6C326.2 537.2 324.6 535.3 324.1 534.7"/>
<path class="c" d="M328.5 560.3C329 559.7 331.1 558.3 331.7 556.9C332.3 555.5 332.3 553.7 332.2 552.1C332.2 550.5 331.8 548.9 331.3 547.3C330.9 545.8 330.2 544.3 329.5 542.8C328.8 541.4 327.9 540 327 538.6C326.1 537.3 324.5 535.4 324 534.8"/>
<path class="c" d="M328.5 560.3C329 559.7 331 558.3 331.7 556.9C332.3 555.6 332.3 553.8 332.2 552.2C332.2 550.6 331.8 549 331.3 547.4C330.9 545.9 330.2 544.4 329.5 543C328.8 541.5 327.9 540.2 327 538.8C326.1 537.5 324.6 535.7 324.1 535"/>
<path class="c" d="M328.5 560.3C329 559.7 331 558.3 331.6 557C332.2 555.6 332.2 553.8 332.2 552.2C332.1 550.7 331.7 549.1 331.3 547.5C330.8 546 330.2 544.5 329.5 543.1C328.8 541.7 327.9 540.3 327 539C326.1 537.7 324.6 535.9 324.1 535.2"/>
<path class="c" d="M328.5 560.3C329 559.7 331 558.3 331.6 557C332.2 555.6 332.2 553.8 332.1 552.3C332.1 550.7 331.7 549.1 331.2 547.6C330.8 546.1 330.1 544.6 329.4 543.2C328.7 541.8 327.9 540.4 327 539.1C326.1 537.8 324.5 536 324 535.3"/>
<path class="c" d="M328.5 560.3C329 559.7 331 558.3 331.6 557C332.2 555.7 332.2 553.9 332.1 552.3C332.1 550.8 331.7 549.2 331.2 547.7C330.8 546.2 330.1 544.7 329.4 543.3C328.7 541.9 327.9 540.6 327 539.3C326.1 538 324.5 536.2 324.1 535.5"/>
<path class="c" d="M328.5 560.3C329 559.8 331 558.3 331.6 557C332.2 555.7 332.1 553.9 332.1 552.4C332 550.8 331.6 549.3 331.2 547.8C330.8 546.3 330.1 544.8 329.4 543.5C328.7 542.1 327.9 540.7 327 539.4C326.1 538.2 324.6 536.4 324.1 535.7"/>
<path class="c" d="M328.5 560.3C329 559.8 330.9 558.3 331.5 557C332.1 555.7 332.1 553.9 332 552.4C332 550.9 331.6 549.3 331.1 547.8C330.7 546.3 330.1 544.9 329.4 543.5C328.6 542.1 327.8 540.8 326.9 539.5C326 538.2 324.5 536.5 324 535.8"/>
<path class="c" d="M328.5 560.3C329 559.6 331.2 557.8 331.8 556.2C332.3 554.5 332.1 552.4 331.8 550.6C331.5 548.8 330.9 547 330.1 545.3C329.4 543.6 328.5 542 327.5 540.4C326.4 538.9 324.6 536.8 324.1 536"/>
<path class="c" d="M328.5 560.3C329 559.6 331.2 557.8 331.7 556.2C332.3 554.6 332 552.5 331.8 550.7C331.5 548.9 330.8 547.1 330.1 545.4C329.4 543.8 328.5 542.1 327.5 540.6C326.4 539.1 324.6 537 324.1 536.2"/>
<path class="c" d="M328.5 560.3C329 559.6 331.2 557.8 331.7 556.2C332.3 554.6 332 552.5 331.7 550.7C331.5 548.9 330.8 547.2 330.1 545.5C329.4 543.8 328.4 542.2 327.4 540.7C326.4 539.1 324.6 537.1 324 536.3"/>
<path class="c" d="M328.5 560.3C329 559.6 331.2 557.8 331.7 556.2C332.2 554.6 332 552.6 331.7 550.8C331.4 549 330.8 547.3 330.1 545.6C329.3 543.9 328.4 542.3 327.4 540.8C326.4 539.3 324.6 537.2 324 536.5"/>
<path class="c" d="M328.5 560.3C329 559.6 331.1 557.8 331.7 556.3C332.2 554.7 331.9 552.6 331.7 550.9C331.4 549.1 330.8 547.4 330 545.7C329.3 544.1 328.4 542.5 327.4 541C326.4 539.5 324.6 537.4 324.1 536.7"/>
<path class="c" d="M328.5 560.3C329 559.6 331.1 557.8 331.6 556.3C332.2 554.7 331.9 552.6 331.6 550.9C331.4 549.1 330.7 547.4 330 545.7C329.3 544.1 328.3 542.5 327.3 541C326.3 539.5 324.6 537.5 324 536.8"/>
<path class="c" d="M328.5 560.3C329 559.6 331.1 557.9 331.6 556.3C332.1 554.7 331.9 552.7 331.6 551C331.3 549.2 330.7 547.5 330 545.9C329.3 544.2 328.3 542.7 327.4 541.2C326.4 539.7 324.6 537.7 324 537"/>
<path class="c" d="M328.5 560.3C329 559.6 331.1 557.9 331.6 556.3C332.1 554.8 331.9 552.8 331.6 551C331.3 549.3 330.7 547.6 330 546C329.3 544.4 328.3 542.8 327.4 541.3C326.4 539.9 324.6 537.8 324.1 537.1"/>
<path class="c" d="M328.5 560.3C329 559.6 331.1 557.9 331.6 556.3C332.1 554.8 331.8 552.8 331.5 551C331.3 549.3 330.6 547.6 329.9 546C329.2 544.4 328.3 542.9 327.3 541.4C326.3 539.9 324.6 537.9 324 537.2"/>
<path class="c" d="M328.5 560.3C328.6 564.4 329 578.9 329.3 585C329.6 591.1 330.4 593.8 330.5 597C330.6 600.2 330.2 602.1 329.8 604C329.4 605.9 328.6 607.8 328.4 608.5"/>
<path class="c" d="M328.5 560.3C328.6 562.8 328.9 569.9 329.2 575C329.5 580.1 329.7 587.2 330.2 591C330.7 594.8 331.8 595.8 332.3 598C332.8 600.2 333.3 602 333.4 604C333.5 606 333.1 608 332.8 610C332.5 612 332.2 614 331.5 616C330.8 618 328.9 620.8 328.4 621.7"/>
<path class="c" d="M328.5 560.3C329 562.8 330.4 569.9 331.5 575C332.6 580.1 334 587 335 591C336 595 336.8 596.3 337.4 599C338 601.7 338.7 603.8 338.7 607C338.7 610.2 338.5 614.8 337.6 618.5C336.7 622.2 334.9 626.3 333.4 629.1C331.9 631.9 329.2 634.4 328.4 635.4"/>
<path class="c" d="M328.5 560.3C329.4 562.8 332 569.9 334 575C336 580.1 338.7 586.8 340.3 591C341.9 595.2 342.7 597.2 343.5 600C344.3 602.8 344.8 604.6 345 608C345.2 611.4 345.4 616 344.5 620.6C343.6 625.2 341.8 630.9 339.8 635.4C337.8 639.9 333.6 645.5 332.3 647.5"/>
<path class="c" d="M328.5 560.3C329.8 562.8 333.8 569.9 336.5 575C339.2 580.1 342.8 586.7 345 591C347.2 595.3 348.2 597.5 349.5 601C350.8 604.5 351.9 608.2 352.5 612.2C353.1 616.2 353.4 620.9 353 624.9C352.6 628.9 351.4 632.7 350.3 636.5C349.2 640.3 346.8 645.7 346.1 647.5"/>
<path class="c" d="M328.5 560.3C330.2 562.8 335.4 569.9 339 575C342.6 580.1 347.5 586.7 350.3 591C353.1 595.3 354.4 597.5 356 601C357.6 604.5 358.7 607.7 359.9 612.2C361.1 616.7 362.6 623.6 363 628C363.4 632.4 362.5 635.4 362 638.6C361.5 641.9 360.2 646 359.9 647.5"/>
<path class="c" d="M328.5 560.3C330.9 562.8 338.1 569.9 343 575C347.9 580.1 354.2 586.7 357.7 591C361.2 595.3 362.2 597.5 364 601C365.8 604.5 366.7 607.7 368.3 612.2C369.9 616.7 372.4 623.6 373.6 628C374.8 632.4 375.4 635.4 375.7 638.6C376 641.9 375.7 646 375.7 647.5"/>
<path class="c" d="M328.5 560.3C331.6 562.8 341 569.9 347 575C353 580.1 360.2 586.1 364.6 591C369 595.9 370.1 599.2 373.4 604.5C376.7 609.8 381.6 617.9 384.5 623C387.4 628.1 389.2 631.3 390.7 635.4C392.2 639.5 393 645.5 393.5 647.5"/>
<path class="c" d="M328.5 560.3C332.2 562.8 344.3 570.7 351 575C357.7 579.3 364.4 582.9 368.5 586C372.6 589.1 373.8 590.8 375.9 593.4C378 596 380.5 600.1 381.4 601.5"/>
<path class="c" d="M384.5 606C386.6 607.8 393 613 396.9 616.9C400.8 620.8 405.1 625.3 408 629.2C410.9 633.1 412.8 637.2 414.1 640.3C415.4 643.3 415.7 646.3 416 647.5"/>
<path class="c" d="M328.5 560.3C333.2 562.8 348.3 570.7 357 575C365.7 579.3 375.6 583.1 380.8 586C386 588.9 385.8 589.7 388.2 592.2C390.6 594.7 393.9 599.6 395 601.1"/>
<path class="c" d="M404.3 605.8C406.6 606.8 414 609.6 417.9 611.9C421.8 614.1 424.7 616.2 427.7 619.3C430.7 622.4 433.6 627.1 436 630.4C438.4 633.7 440.1 636.1 442 639C443.9 641.9 446.6 646.1 447.5 647.5"/>
<path class="c" d="M328.5 560.3C334.4 562.6 354.4 570.9 364 574C373.6 577.1 379.9 576.8 386 578.8C392.1 580.8 395.3 583.8 400.6 586C405.9 588.2 412 590.2 417.9 592.2C423.8 594.2 431.1 596.8 436 598.3C440.9 599.8 445.2 600.7 447 601.2"/>
<path class="c" d="M456.8 605.8C458.9 607.1 466 610.7 469.5 613.4C473 616.1 475.5 619.2 478 622C480.5 624.8 482.3 627.5 484.3 630.3C486.3 633.1 488.2 636.1 490 639C491.8 641.9 494.2 646.1 495 647.5"/>
<path class="c" d="M328.5 560.3C338.1 561.8 367.1 565.7 386 569.2C404.9 572.8 427.4 578.8 442 581.6C456.6 584.4 463.8 584.3 473.7 585.9C483.6 587.5 495.3 589.6 501.3 591.2C507.3 592.8 506.6 593.4 509.7 595.4C512.8 597.4 516.5 600 520 603C523.5 606 526.3 608.5 530.9 613.4C535.5 618.3 542.9 626.8 547.8 632.4C552.6 638 558 644.6 560 647"/>
<path class="c" d="M328.5 560.3C338.1 560.6 367.1 561.7 386 562.3C404.9 562.9 423.8 563 442 563.8C460.2 564.5 480.9 565.6 495 566.8C509.1 568 515.8 569 526.7 571C537.6 573 554.9 577.4 560.5 578.7"/>
<g transform="translate(427.6,498) rotate(-50)"><rect x="-9.4" y="-2.6" width="18.8" height="5.2" fill="#fff"/><text class="cl" text-anchor="middle" y="1.6">215.829</text></g>
<g transform="translate(491.7,496.9) rotate(-38)"><rect x="-10.6" y="-2.6" width="21.2" height="5.2" fill="#fff"/><text class="cl" text-anchor="middle" y="1.6">122.6475</text></g>
<g transform="translate(535.1,520.2) rotate(-17)"><rect x="-9.4" y="-2.6" width="18.8" height="5.2" fill="#fff"/><text class="cl" text-anchor="middle" y="1.6">31.0733</text></g>
<g transform="translate(519.5,604) rotate(45)"><rect x="-10.6" y="-2.6" width="21.2" height="5.2" fill="#fff"/><text class="cl" text-anchor="middle" y="1.6">-91.2871</text></g>
<g transform="translate(435.5,630) rotate(52)"><rect x="-11.8" y="-2.6" width="23.7" height="5.2" fill="#fff"/><text class="cl" text-anchor="middle" y="1.6">-152.4685</text></g>
</g>
<rect class="fr" x="328.5" y="465.8" width="231" height="180.9"/>
<line class="fr" x1="328.5" y1="560.4" x2="559.5" y2="560.4" style="stroke-width:1.25"/>
<rect x="381.4" y="601.1" width="116.7" height="4.7" fill="#000"/>
<text class="tk" text-anchor="middle" x="315.2" y="469.4">-200</text>
<text class="tk" text-anchor="middle" x="316.2" y="563.2">0</text>
<text class="tk" text-anchor="middle" x="316.5" y="647.5">200</text>
<text class="tk" text-anchor="middle" x="326.2" y="658.7">-200</text>
<text class="tk" text-anchor="middle" x="436" y="658.7">0</text>
<line class="fr" x1="436" y1="646.7" x2="436" y2="644.7" style="stroke-width:1"/>
<line class="fr" x1="436" y1="465.8" x2="436" y2="467.8" style="stroke-width:1"/>
<text class="tk" text-anchor="middle" x="558.1" y="658.7">200</text>
<text class="ax" x="392.2" y="677.7" textLength="103.6" lengthAdjust="spacingAndGlyphs">Distance along line [m]</text>
<text class="ax" transform="translate(296.3,617) rotate(-90)" textLength="112.3" lengthAdjust="spacingAndGlyphs">Depth below seafloor [m]</text>
<text class="ti" x="345" y="487">DC</text>
</g>
</svg></body></html>
